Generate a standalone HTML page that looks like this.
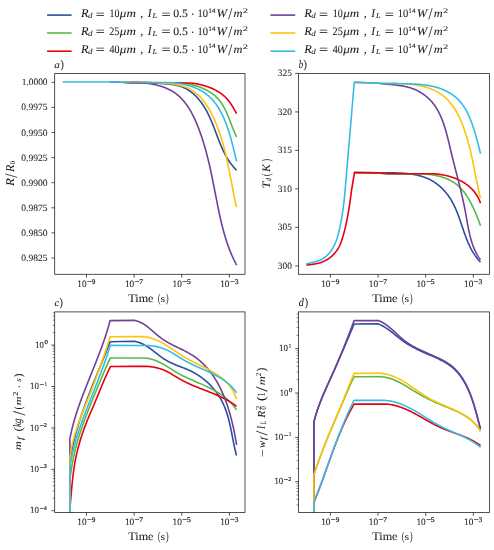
<!DOCTYPE html>
<html><head><meta charset="utf-8"><style>
html,body{margin:0;padding:0;background:#fff;}
body{width:494px;height:550px;overflow:hidden;}
svg{display:block;}
text{fill:#1a1a1a;}
</style></head><body>
<svg xmlns="http://www.w3.org/2000/svg" width="494" height="550" viewBox="0 0 494 550" font-family='"Liberation Serif", "DejaVu Serif", serif'>
<rect width="494" height="550" fill="#fff"/>
<line x1="86.50" y1="274.30" x2="86.50" y2="277.60" stroke="#262626" stroke-width="0.8"/>
<line x1="134.14" y1="274.30" x2="134.14" y2="277.60" stroke="#262626" stroke-width="0.8"/>
<line x1="181.78" y1="274.30" x2="181.78" y2="277.60" stroke="#262626" stroke-width="0.8"/>
<line x1="229.42" y1="274.30" x2="229.42" y2="277.60" stroke="#262626" stroke-width="0.8"/>
<line x1="330.40" y1="274.30" x2="330.40" y2="277.60" stroke="#262626" stroke-width="0.8"/>
<line x1="378.04" y1="274.30" x2="378.04" y2="277.60" stroke="#262626" stroke-width="0.8"/>
<line x1="425.68" y1="274.30" x2="425.68" y2="277.60" stroke="#262626" stroke-width="0.8"/>
<line x1="473.32" y1="274.30" x2="473.32" y2="277.60" stroke="#262626" stroke-width="0.8"/>
<line x1="86.50" y1="512.40" x2="86.50" y2="515.70" stroke="#262626" stroke-width="0.8"/>
<line x1="134.14" y1="512.40" x2="134.14" y2="515.70" stroke="#262626" stroke-width="0.8"/>
<line x1="181.78" y1="512.40" x2="181.78" y2="515.70" stroke="#262626" stroke-width="0.8"/>
<line x1="229.42" y1="512.40" x2="229.42" y2="515.70" stroke="#262626" stroke-width="0.8"/>
<line x1="330.40" y1="512.40" x2="330.40" y2="515.70" stroke="#262626" stroke-width="0.8"/>
<line x1="378.04" y1="512.40" x2="378.04" y2="515.70" stroke="#262626" stroke-width="0.8"/>
<line x1="425.68" y1="512.40" x2="425.68" y2="515.70" stroke="#262626" stroke-width="0.8"/>
<line x1="473.32" y1="512.40" x2="473.32" y2="515.70" stroke="#262626" stroke-width="0.8"/>
<line x1="51.40" y1="82.30" x2="54.70" y2="82.30" stroke="#262626" stroke-width="0.8"/>
<line x1="51.40" y1="107.40" x2="54.70" y2="107.40" stroke="#262626" stroke-width="0.8"/>
<line x1="51.40" y1="132.50" x2="54.70" y2="132.50" stroke="#262626" stroke-width="0.8"/>
<line x1="51.40" y1="157.60" x2="54.70" y2="157.60" stroke="#262626" stroke-width="0.8"/>
<line x1="51.40" y1="182.70" x2="54.70" y2="182.70" stroke="#262626" stroke-width="0.8"/>
<line x1="51.40" y1="207.80" x2="54.70" y2="207.80" stroke="#262626" stroke-width="0.8"/>
<line x1="51.40" y1="232.90" x2="54.70" y2="232.90" stroke="#262626" stroke-width="0.8"/>
<line x1="51.40" y1="258.00" x2="54.70" y2="258.00" stroke="#262626" stroke-width="0.8"/>
<line x1="295.20" y1="265.90" x2="298.50" y2="265.90" stroke="#262626" stroke-width="0.8"/>
<line x1="295.20" y1="227.40" x2="298.50" y2="227.40" stroke="#262626" stroke-width="0.8"/>
<line x1="295.20" y1="188.90" x2="298.50" y2="188.90" stroke="#262626" stroke-width="0.8"/>
<line x1="295.20" y1="150.40" x2="298.50" y2="150.40" stroke="#262626" stroke-width="0.8"/>
<line x1="295.20" y1="111.90" x2="298.50" y2="111.90" stroke="#262626" stroke-width="0.8"/>
<line x1="295.20" y1="73.40" x2="298.50" y2="73.40" stroke="#262626" stroke-width="0.8"/>
<line x1="51.40" y1="510.70" x2="54.70" y2="510.70" stroke="#262626" stroke-width="0.8"/>
<line x1="52.80" y1="498.24" x2="54.70" y2="498.24" stroke="#262626" stroke-width="0.6"/>
<line x1="52.80" y1="490.95" x2="54.70" y2="490.95" stroke="#262626" stroke-width="0.6"/>
<line x1="52.80" y1="485.77" x2="54.70" y2="485.77" stroke="#262626" stroke-width="0.6"/>
<line x1="52.80" y1="481.76" x2="54.70" y2="481.76" stroke="#262626" stroke-width="0.6"/>
<line x1="52.80" y1="478.48" x2="54.70" y2="478.48" stroke="#262626" stroke-width="0.6"/>
<line x1="52.80" y1="475.71" x2="54.70" y2="475.71" stroke="#262626" stroke-width="0.6"/>
<line x1="52.80" y1="473.31" x2="54.70" y2="473.31" stroke="#262626" stroke-width="0.6"/>
<line x1="52.80" y1="471.19" x2="54.70" y2="471.19" stroke="#262626" stroke-width="0.6"/>
<line x1="51.40" y1="469.30" x2="54.70" y2="469.30" stroke="#262626" stroke-width="0.8"/>
<line x1="52.80" y1="456.84" x2="54.70" y2="456.84" stroke="#262626" stroke-width="0.6"/>
<line x1="52.80" y1="449.55" x2="54.70" y2="449.55" stroke="#262626" stroke-width="0.6"/>
<line x1="52.80" y1="444.37" x2="54.70" y2="444.37" stroke="#262626" stroke-width="0.6"/>
<line x1="52.80" y1="440.36" x2="54.70" y2="440.36" stroke="#262626" stroke-width="0.6"/>
<line x1="52.80" y1="437.08" x2="54.70" y2="437.08" stroke="#262626" stroke-width="0.6"/>
<line x1="52.80" y1="434.31" x2="54.70" y2="434.31" stroke="#262626" stroke-width="0.6"/>
<line x1="52.80" y1="431.91" x2="54.70" y2="431.91" stroke="#262626" stroke-width="0.6"/>
<line x1="52.80" y1="429.79" x2="54.70" y2="429.79" stroke="#262626" stroke-width="0.6"/>
<line x1="51.40" y1="427.90" x2="54.70" y2="427.90" stroke="#262626" stroke-width="0.8"/>
<line x1="52.80" y1="415.44" x2="54.70" y2="415.44" stroke="#262626" stroke-width="0.6"/>
<line x1="52.80" y1="408.15" x2="54.70" y2="408.15" stroke="#262626" stroke-width="0.6"/>
<line x1="52.80" y1="402.97" x2="54.70" y2="402.97" stroke="#262626" stroke-width="0.6"/>
<line x1="52.80" y1="398.96" x2="54.70" y2="398.96" stroke="#262626" stroke-width="0.6"/>
<line x1="52.80" y1="395.68" x2="54.70" y2="395.68" stroke="#262626" stroke-width="0.6"/>
<line x1="52.80" y1="392.91" x2="54.70" y2="392.91" stroke="#262626" stroke-width="0.6"/>
<line x1="52.80" y1="390.51" x2="54.70" y2="390.51" stroke="#262626" stroke-width="0.6"/>
<line x1="52.80" y1="388.39" x2="54.70" y2="388.39" stroke="#262626" stroke-width="0.6"/>
<line x1="51.40" y1="386.50" x2="54.70" y2="386.50" stroke="#262626" stroke-width="0.8"/>
<line x1="52.80" y1="374.04" x2="54.70" y2="374.04" stroke="#262626" stroke-width="0.6"/>
<line x1="52.80" y1="366.75" x2="54.70" y2="366.75" stroke="#262626" stroke-width="0.6"/>
<line x1="52.80" y1="361.57" x2="54.70" y2="361.57" stroke="#262626" stroke-width="0.6"/>
<line x1="52.80" y1="357.56" x2="54.70" y2="357.56" stroke="#262626" stroke-width="0.6"/>
<line x1="52.80" y1="354.28" x2="54.70" y2="354.28" stroke="#262626" stroke-width="0.6"/>
<line x1="52.80" y1="351.51" x2="54.70" y2="351.51" stroke="#262626" stroke-width="0.6"/>
<line x1="52.80" y1="349.11" x2="54.70" y2="349.11" stroke="#262626" stroke-width="0.6"/>
<line x1="52.80" y1="346.99" x2="54.70" y2="346.99" stroke="#262626" stroke-width="0.6"/>
<line x1="51.40" y1="345.10" x2="54.70" y2="345.10" stroke="#262626" stroke-width="0.8"/>
<line x1="52.80" y1="332.64" x2="54.70" y2="332.64" stroke="#262626" stroke-width="0.6"/>
<line x1="52.80" y1="325.35" x2="54.70" y2="325.35" stroke="#262626" stroke-width="0.6"/>
<line x1="52.80" y1="320.17" x2="54.70" y2="320.17" stroke="#262626" stroke-width="0.6"/>
<line x1="52.80" y1="316.16" x2="54.70" y2="316.16" stroke="#262626" stroke-width="0.6"/>
<line x1="52.80" y1="312.88" x2="54.70" y2="312.88" stroke="#262626" stroke-width="0.6"/>
<line x1="296.60" y1="504.84" x2="298.50" y2="504.84" stroke="#262626" stroke-width="0.6"/>
<line x1="296.60" y1="499.30" x2="298.50" y2="499.30" stroke="#262626" stroke-width="0.6"/>
<line x1="296.60" y1="495.00" x2="298.50" y2="495.00" stroke="#262626" stroke-width="0.6"/>
<line x1="296.60" y1="491.49" x2="298.50" y2="491.49" stroke="#262626" stroke-width="0.6"/>
<line x1="296.60" y1="488.53" x2="298.50" y2="488.53" stroke="#262626" stroke-width="0.6"/>
<line x1="296.60" y1="485.96" x2="298.50" y2="485.96" stroke="#262626" stroke-width="0.6"/>
<line x1="296.60" y1="483.69" x2="298.50" y2="483.69" stroke="#262626" stroke-width="0.6"/>
<line x1="295.20" y1="481.66" x2="298.50" y2="481.66" stroke="#262626" stroke-width="0.8"/>
<line x1="296.60" y1="468.32" x2="298.50" y2="468.32" stroke="#262626" stroke-width="0.6"/>
<line x1="296.60" y1="460.51" x2="298.50" y2="460.51" stroke="#262626" stroke-width="0.6"/>
<line x1="296.60" y1="454.97" x2="298.50" y2="454.97" stroke="#262626" stroke-width="0.6"/>
<line x1="296.60" y1="450.67" x2="298.50" y2="450.67" stroke="#262626" stroke-width="0.6"/>
<line x1="296.60" y1="447.16" x2="298.50" y2="447.16" stroke="#262626" stroke-width="0.6"/>
<line x1="296.60" y1="444.20" x2="298.50" y2="444.20" stroke="#262626" stroke-width="0.6"/>
<line x1="296.60" y1="441.63" x2="298.50" y2="441.63" stroke="#262626" stroke-width="0.6"/>
<line x1="296.60" y1="439.36" x2="298.50" y2="439.36" stroke="#262626" stroke-width="0.6"/>
<line x1="295.20" y1="437.33" x2="298.50" y2="437.33" stroke="#262626" stroke-width="0.8"/>
<line x1="296.60" y1="423.99" x2="298.50" y2="423.99" stroke="#262626" stroke-width="0.6"/>
<line x1="296.60" y1="416.18" x2="298.50" y2="416.18" stroke="#262626" stroke-width="0.6"/>
<line x1="296.60" y1="410.64" x2="298.50" y2="410.64" stroke="#262626" stroke-width="0.6"/>
<line x1="296.60" y1="406.34" x2="298.50" y2="406.34" stroke="#262626" stroke-width="0.6"/>
<line x1="296.60" y1="402.83" x2="298.50" y2="402.83" stroke="#262626" stroke-width="0.6"/>
<line x1="296.60" y1="399.87" x2="298.50" y2="399.87" stroke="#262626" stroke-width="0.6"/>
<line x1="296.60" y1="397.30" x2="298.50" y2="397.30" stroke="#262626" stroke-width="0.6"/>
<line x1="296.60" y1="395.03" x2="298.50" y2="395.03" stroke="#262626" stroke-width="0.6"/>
<line x1="295.20" y1="393.00" x2="298.50" y2="393.00" stroke="#262626" stroke-width="0.8"/>
<line x1="296.60" y1="379.66" x2="298.50" y2="379.66" stroke="#262626" stroke-width="0.6"/>
<line x1="296.60" y1="371.85" x2="298.50" y2="371.85" stroke="#262626" stroke-width="0.6"/>
<line x1="296.60" y1="366.31" x2="298.50" y2="366.31" stroke="#262626" stroke-width="0.6"/>
<line x1="296.60" y1="362.01" x2="298.50" y2="362.01" stroke="#262626" stroke-width="0.6"/>
<line x1="296.60" y1="358.50" x2="298.50" y2="358.50" stroke="#262626" stroke-width="0.6"/>
<line x1="296.60" y1="355.54" x2="298.50" y2="355.54" stroke="#262626" stroke-width="0.6"/>
<line x1="296.60" y1="352.97" x2="298.50" y2="352.97" stroke="#262626" stroke-width="0.6"/>
<line x1="296.60" y1="350.70" x2="298.50" y2="350.70" stroke="#262626" stroke-width="0.6"/>
<line x1="295.20" y1="348.67" x2="298.50" y2="348.67" stroke="#262626" stroke-width="0.8"/>
<line x1="296.60" y1="335.33" x2="298.50" y2="335.33" stroke="#262626" stroke-width="0.6"/>
<line x1="296.60" y1="327.52" x2="298.50" y2="327.52" stroke="#262626" stroke-width="0.6"/>
<line x1="296.60" y1="321.98" x2="298.50" y2="321.98" stroke="#262626" stroke-width="0.6"/>
<line x1="296.60" y1="317.68" x2="298.50" y2="317.68" stroke="#262626" stroke-width="0.6"/>
<line x1="296.60" y1="314.17" x2="298.50" y2="314.17" stroke="#262626" stroke-width="0.6"/>
<clipPath id="clipa"><rect x="54.7" y="73.6" width="190.3" height="200.70000000000002"/></clipPath>
<path d="M120.00,82.00 L120.61,82.00 L121.22,82.00 L121.83,82.00 L122.43,82.00 L123.04,82.00 L123.65,82.00 L124.25,82.00 L124.86,82.00 L125.46,82.00 L126.07,82.00 L126.67,82.00 L127.28,82.00 L127.88,82.00 L128.48,82.00 L129.08,82.00 L129.68,82.00 L130.29,82.00 L130.89,82.00 L131.49,82.00 L132.09,82.00 L132.69,82.00 L133.29,82.00 L133.89,82.00 L134.49,82.00 L135.09,82.00 L135.68,82.01 L136.28,82.02 L136.88,82.04 L137.48,82.06 L138.08,82.07 L138.68,82.09 L139.27,82.11 L139.87,82.13 L140.47,82.15 L141.07,82.17 L141.67,82.20 L142.26,82.22 L142.86,82.25 L143.46,82.27 L144.06,82.30 L144.66,82.33 L145.25,82.36 L145.85,82.39 L146.45,82.42 L147.05,82.45 L147.65,82.48 L148.25,82.51 L148.85,82.55 L149.45,82.58 L150.05,82.62 L150.65,82.65 L151.25,82.69 L151.85,82.73 L152.45,82.77 L153.05,82.81 L153.65,82.85 L154.25,82.89 L154.86,82.93 L155.46,82.98 L156.06,83.02 L156.67,83.06 L157.27,83.11 L157.87,83.16 L158.48,83.20 L159.09,83.25 L159.69,83.30 L160.30,83.35 L160.91,83.40 L161.51,83.45 L162.12,83.50 L162.73,83.55 L163.34,83.61 L163.95,83.66 L164.57,83.71 L165.18,83.77 L165.79,83.83 L166.40,83.88 L167.02,83.94 L167.63,84.00 L168.25,84.06 L168.86,84.13 L169.47,84.20 L170.09,84.27 L170.70,84.34 L171.31,84.42 L171.92,84.50 L172.52,84.59 L173.13,84.68 L173.73,84.77 L174.34,84.88 L174.94,84.98 L175.53,85.10 L176.13,85.22 L176.72,85.35 L177.31,85.48 L177.90,85.62 L178.48,85.77 L179.06,85.93 L179.63,86.10 L180.20,86.27 L180.77,86.46 L181.33,86.65 L181.89,86.85 L182.44,87.07 L182.99,87.29 L183.53,87.52 L184.07,87.76 L184.61,88.01 L185.14,88.27 L185.66,88.54 L186.18,88.82 L186.70,89.10 L187.21,89.40 L187.72,89.70 L188.22,90.01 L188.71,90.33 L189.21,90.65 L189.70,90.98 L190.18,91.32 L190.66,91.67 L191.13,92.03 L191.60,92.39 L192.07,92.76 L192.53,93.13 L192.98,93.52 L193.43,93.90 L193.88,94.30 L194.32,94.70 L194.76,95.11 L195.19,95.52 L195.62,95.94 L196.04,96.36 L196.46,96.79 L196.87,97.23 L197.28,97.67 L197.68,98.11 L198.08,98.56 L198.48,99.02 L198.87,99.47 L199.25,99.94 L199.63,100.40 L200.01,100.88 L200.38,101.35 L200.75,101.83 L201.11,102.31 L201.47,102.80 L201.82,103.29 L202.17,103.78 L202.51,104.28 L202.85,104.77 L203.18,105.27 L203.51,105.78 L203.84,106.29 L204.16,106.79 L204.47,107.31 L204.78,107.82 L205.09,108.34 L205.40,108.86 L205.70,109.38 L205.99,109.90 L206.28,110.43 L206.57,110.96 L206.86,111.49 L207.14,112.02 L207.42,112.56 L207.69,113.09 L207.96,113.63 L208.23,114.17 L208.50,114.71 L208.76,115.26 L209.02,115.80 L209.28,116.35 L209.53,116.90 L209.78,117.45 L210.03,118.00 L210.28,118.56 L210.52,119.11 L210.77,119.67 L211.01,120.22 L211.24,120.78 L211.48,121.34 L211.71,121.90 L211.95,122.46 L212.18,123.03 L212.41,123.59 L212.63,124.16 L212.86,124.72 L213.08,125.29 L213.31,125.85 L213.53,126.42 L213.75,126.99 L213.97,127.56 L214.19,128.13 L214.41,128.70 L214.63,129.27 L214.84,129.84 L215.06,130.41 L215.28,130.98 L215.49,131.55 L215.71,132.12 L215.92,132.69 L216.14,133.26 L216.35,133.83 L216.57,134.40 L216.78,134.97 L217.00,135.54 L217.21,136.11 L217.43,136.68 L217.65,137.25 L217.86,137.82 L218.08,138.38 L218.30,138.95 L218.52,139.52 L218.74,140.08 L218.96,140.65 L219.18,141.21 L219.41,141.78 L219.63,142.34 L219.86,142.90 L220.09,143.46 L220.32,144.02 L220.55,144.58 L220.78,145.13 L221.01,145.69 L221.25,146.24 L221.49,146.80 L221.73,147.35 L221.97,147.90 L222.22,148.45 L222.47,148.99 L222.72,149.54 L222.97,150.08 L223.22,150.63 L223.48,151.16 L223.74,151.70 L224.01,152.24 L224.27,152.77 L224.54,153.31 L224.81,153.84 L225.09,154.36 L225.37,154.89 L225.65,155.41 L225.94,155.93 L226.23,156.45 L226.52,156.97 L226.82,157.48 L227.12,157.99 L227.42,158.50 L227.73,159.01 L228.05,159.51 L228.36,160.01 L228.69,160.51 L229.01,161.00 L229.34,161.50 L229.68,161.98 L230.02,162.47 L230.36,162.95 L230.71,163.43 L231.07,163.91 L231.43,164.38 L231.79,164.85 L232.16,165.32 L232.53,165.78 L232.91,166.24 L233.30,166.70 L233.69,167.15 L234.09,167.60 L234.49,168.04 L234.90,168.48 L235.31,168.92 L235.73,169.35 L236.16,169.78 L236.59,170.21" fill="none" stroke="#2b4fa0" stroke-width="1.6" stroke-linejoin="round" stroke-linecap="butt" clip-path="url(#clipa)"/>
<path d="M120.00,82.00 L120.57,82.06 L121.13,82.11 L121.70,82.17 L122.27,82.22 L122.84,82.26 L123.42,82.31 L123.99,82.35 L124.57,82.39 L125.15,82.42 L125.73,82.46 L126.31,82.49 L126.89,82.51 L127.48,82.54 L128.06,82.56 L128.65,82.58 L129.24,82.60 L129.83,82.62 L130.42,82.63 L131.01,82.65 L131.60,82.66 L132.20,82.67 L132.79,82.67 L133.39,82.68 L133.99,82.68 L134.58,82.68 L135.18,82.68 L135.79,82.68 L136.39,82.68 L136.99,82.68 L137.59,82.68 L138.20,82.68 L138.80,82.68 L139.41,82.68 L140.02,82.68 L140.63,82.68 L141.24,82.68 L141.84,82.68 L142.46,82.68 L143.07,82.68 L143.68,82.68 L144.29,82.68 L144.90,82.68 L145.52,82.68 L146.13,82.68 L146.75,82.68 L147.36,82.68 L147.98,82.68 L148.59,82.68 L149.21,82.68 L149.83,82.68 L150.45,82.68 L151.06,82.68 L151.68,82.68 L152.30,82.68 L152.92,82.68 L153.54,82.68 L154.16,82.68 L154.78,82.68 L155.40,82.68 L156.02,82.68 L156.63,82.68 L157.25,82.68 L157.87,82.68 L158.49,82.68 L159.11,82.68 L159.73,82.68 L160.35,82.68 L160.97,82.68 L161.59,82.68 L162.21,82.68 L162.83,82.68 L163.45,82.68 L164.07,82.68 L164.69,82.68 L165.31,82.68 L165.93,82.68 L166.54,82.68 L167.16,82.68 L167.78,82.68 L168.39,82.68 L169.01,82.68 L169.63,82.68 L170.24,82.68 L170.86,82.68 L171.47,82.68 L172.08,82.68 L172.70,82.68 L173.31,82.68 L173.92,82.68 L174.53,82.68 L175.14,82.68 L175.75,82.68 L176.36,82.68 L176.97,82.68 L177.57,82.68 L178.18,82.68 L178.79,82.68 L179.39,82.73 L179.99,82.79 L180.60,82.85 L181.20,82.91 L181.80,82.98 L182.40,83.06 L183.00,83.13 L183.60,83.21 L184.19,83.29 L184.79,83.38 L185.38,83.47 L185.97,83.57 L186.57,83.66 L187.16,83.76 L187.74,83.87 L188.33,83.98 L188.92,84.09 L189.50,84.21 L190.09,84.33 L190.67,84.46 L191.25,84.59 L191.83,84.73 L192.41,84.87 L192.98,85.01 L193.56,85.16 L194.13,85.31 L194.70,85.47 L195.27,85.64 L195.84,85.80 L196.41,85.98 L196.97,86.16 L197.54,86.34 L198.10,86.53 L198.66,86.72 L199.22,86.92 L199.77,87.12 L200.33,87.33 L200.88,87.55 L201.43,87.77 L201.98,87.99 L202.52,88.23 L203.07,88.46 L203.61,88.71 L204.15,88.95 L204.69,89.21 L205.22,89.47 L205.76,89.74 L206.29,90.01 L206.82,90.29 L207.34,90.57 L207.86,90.87 L208.38,91.16 L208.90,91.47 L209.41,91.78 L209.92,92.10 L210.42,92.42 L210.92,92.75 L211.42,93.08 L211.91,93.43 L212.39,93.78 L212.87,94.13 L213.35,94.50 L213.82,94.87 L214.28,95.24 L214.74,95.63 L215.19,96.02 L215.64,96.42 L216.08,96.82 L216.51,97.23 L216.94,97.65 L217.36,98.08 L217.77,98.51 L218.17,98.95 L218.57,99.40 L218.96,99.86 L219.34,100.32 L219.71,100.79 L220.08,101.26 L220.44,101.74 L220.80,102.23 L221.14,102.72 L221.49,103.22 L221.82,103.73 L222.15,104.23 L222.47,104.75 L222.79,105.27 L223.10,105.79 L223.41,106.31 L223.71,106.85 L224.01,107.38 L224.30,107.92 L224.58,108.46 L224.86,109.00 L225.14,109.55 L225.41,110.09 L225.68,110.65 L225.95,111.20 L226.21,111.75 L226.46,112.31 L226.72,112.87 L226.97,113.43 L227.21,114.00 L227.46,114.56 L227.70,115.13 L227.94,115.70 L228.17,116.26 L228.40,116.83 L228.63,117.41 L228.86,117.98 L229.09,118.55 L229.32,119.12 L229.54,119.70 L229.76,120.27 L229.98,120.84 L230.20,121.42 L230.42,121.99 L230.64,122.57 L230.86,123.14 L231.08,123.71 L231.29,124.29 L231.51,124.86 L231.73,125.43 L231.94,126.00 L232.16,126.57 L232.38,127.13 L232.60,127.70 L232.82,128.27 L233.04,128.83 L233.26,129.39 L233.49,129.95 L233.71,130.51 L233.94,131.06 L234.17,131.62 L234.40,132.17 L234.63,132.72 L234.87,133.26 L235.11,133.80 L235.35,134.35 L235.59,134.88 L235.84,135.42 L236.09,135.95 L236.34,136.47 L236.60,137.00" fill="none" stroke="#5ab946" stroke-width="1.6" stroke-linejoin="round" stroke-linecap="butt" clip-path="url(#clipa)"/>
<path d="M120.00,82.00 L120.58,82.07 L121.16,82.14 L121.74,82.21 L122.32,82.28 L122.91,82.34 L123.49,82.39 L124.08,82.45 L124.66,82.50 L125.25,82.55 L125.84,82.59 L126.43,82.64 L127.02,82.68 L127.61,82.71 L128.20,82.75 L128.79,82.78 L129.39,82.81 L129.98,82.84 L130.58,82.86 L131.17,82.88 L131.77,82.90 L132.37,82.92 L132.96,82.94 L133.56,82.95 L134.16,82.96 L134.76,82.97 L135.36,82.98 L135.96,82.98 L136.57,82.98 L137.17,82.98 L137.77,82.98 L138.38,82.98 L138.98,82.98 L139.59,82.98 L140.19,82.98 L140.80,82.98 L141.41,82.98 L142.01,82.98 L142.62,82.98 L143.23,82.98 L143.84,82.98 L144.45,82.98 L145.06,82.98 L145.67,82.98 L146.28,82.98 L146.89,82.98 L147.50,82.98 L148.11,82.98 L148.73,82.98 L149.34,82.98 L149.95,82.98 L150.56,82.98 L151.18,82.98 L151.79,82.98 L152.40,82.98 L153.02,82.98 L153.63,82.98 L154.25,82.98 L154.86,82.98 L155.48,82.98 L156.09,82.98 L156.71,82.98 L157.32,82.98 L157.94,82.98 L158.55,82.98 L159.17,82.98 L159.78,82.98 L160.40,82.98 L161.01,82.98 L161.63,82.98 L162.24,82.98 L162.86,82.98 L163.47,82.98 L164.09,82.98 L164.70,82.98 L165.32,82.98 L165.93,82.98 L166.55,82.98 L167.16,82.98 L167.78,82.98 L168.39,82.98 L169.01,82.98 L169.62,82.98 L170.24,82.98 L170.85,82.98 L171.46,82.98 L172.08,82.98 L172.69,82.98 L173.30,82.98 L173.91,82.98 L174.53,82.98 L175.14,82.98 L175.75,82.98 L176.36,82.98 L176.97,82.98 L177.58,82.98 L178.19,82.98 L178.80,82.98 L179.41,82.98 L180.02,82.98 L180.62,82.98 L181.23,82.98 L181.84,82.98 L182.44,82.98 L183.05,82.98 L183.65,82.98 L184.26,82.98 L184.86,82.98 L185.47,82.98 L186.07,82.98 L186.67,82.98 L187.27,82.98 L187.87,82.98 L188.47,82.98 L189.07,82.98 L189.67,82.98 L190.27,82.98 L190.87,82.98 L191.46,83.02 L192.06,83.10 L192.65,83.18 L193.25,83.27 L193.84,83.36 L194.43,83.45 L195.02,83.55 L195.61,83.65 L196.20,83.76 L196.79,83.87 L197.38,83.98 L197.97,84.10 L198.55,84.22 L199.14,84.35 L199.72,84.48 L200.31,84.62 L200.89,84.76 L201.47,84.90 L202.05,85.05 L202.63,85.20 L203.21,85.36 L203.78,85.52 L204.36,85.69 L204.93,85.86 L205.51,86.04 L206.08,86.22 L206.65,86.41 L207.22,86.60 L207.78,86.79 L208.35,87.00 L208.91,87.20 L209.48,87.42 L210.03,87.63 L210.59,87.86 L211.15,88.09 L211.70,88.32 L212.25,88.56 L212.80,88.81 L213.34,89.06 L213.88,89.32 L214.42,89.58 L214.95,89.85 L215.48,90.13 L216.01,90.41 L216.54,90.70 L217.06,90.99 L217.57,91.29 L218.08,91.60 L218.59,91.91 L219.10,92.23 L219.60,92.56 L220.09,92.89 L220.58,93.23 L221.07,93.58 L221.55,93.93 L222.02,94.29 L222.49,94.66 L222.96,95.04 L223.42,95.42 L223.87,95.81 L224.32,96.21 L224.76,96.61 L225.20,97.02 L225.63,97.44 L226.05,97.87 L226.47,98.30 L226.88,98.74 L227.29,99.19 L227.69,99.65 L228.08,100.12 L228.47,100.59 L228.84,101.07 L229.22,101.55 L229.59,102.05 L229.95,102.54 L230.30,103.05 L230.66,103.56 L231.00,104.07 L231.34,104.58 L231.68,105.10 L232.01,105.63 L232.34,106.15 L232.66,106.68 L232.98,107.21 L233.30,107.75 L233.61,108.28 L233.92,108.82 L234.23,109.35 L234.53,109.89 L234.83,110.42 L235.13,110.96 L235.43,111.49 L235.72,112.02 L236.02,112.55 L236.31,113.08 L236.60,113.60" fill="none" stroke="#e8000f" stroke-width="1.6" stroke-linejoin="round" stroke-linecap="butt" clip-path="url(#clipa)"/>
<path d="M110.01,82.00 L110.55,82.00 L111.11,82.00 L111.66,82.00 L112.22,82.00 L112.78,82.00 L113.35,82.00 L113.91,82.00 L114.48,82.00 L115.06,82.00 L115.63,82.00 L116.21,82.00 L116.79,82.00 L117.38,82.00 L117.96,82.00 L118.55,82.00 L119.15,82.00 L119.74,82.00 L120.33,82.00 L120.93,82.00 L121.53,82.00 L122.13,82.00 L122.74,82.00 L123.34,82.00 L123.95,82.00 L124.56,82.00 L125.17,82.00 L125.78,82.00 L126.40,82.00 L127.01,82.00 L127.63,82.01 L128.25,82.02 L128.87,82.03 L129.49,82.04 L130.11,82.06 L130.73,82.07 L131.35,82.09 L131.97,82.11 L132.60,82.14 L133.22,82.16 L133.85,82.18 L134.47,82.21 L135.10,82.24 L135.72,82.27 L136.35,82.31 L136.98,82.34 L137.60,82.38 L138.23,82.42 L138.86,82.47 L139.48,82.51 L140.11,82.56 L140.74,82.61 L141.36,82.67 L141.99,82.72 L142.61,82.78 L143.24,82.84 L143.86,82.91 L144.48,82.98 L145.10,83.05 L145.72,83.12 L146.34,83.20 L146.96,83.28 L147.58,83.36 L148.20,83.45 L148.81,83.54 L149.43,83.64 L150.04,83.74 L150.65,83.84 L151.26,83.94 L151.87,84.05 L152.47,84.17 L153.08,84.28 L153.68,84.40 L154.28,84.53 L154.88,84.66 L155.48,84.79 L156.07,84.93 L156.66,85.07 L157.25,85.22 L157.84,85.37 L158.42,85.52 L159.01,85.68 L159.59,85.85 L160.16,86.02 L160.74,86.19 L161.31,86.37 L161.88,86.55 L162.44,86.74 L163.00,86.93 L163.56,87.13 L164.12,87.34 L164.67,87.55 L165.22,87.76 L165.77,87.98 L166.31,88.20 L166.85,88.43 L167.38,88.67 L167.91,88.91 L168.44,89.16 L168.96,89.41 L169.48,89.67 L170.00,89.94 L170.51,90.21 L171.02,90.48 L171.52,90.77 L172.02,91.05 L172.51,91.35 L173.00,91.65 L173.49,91.96 L173.97,92.27 L174.44,92.59 L174.91,92.92 L175.38,93.25 L175.84,93.59 L176.30,93.94 L176.75,94.29 L177.19,94.65 L177.64,95.01 L178.07,95.38 L178.51,95.76 L178.94,96.14 L179.36,96.53 L179.78,96.92 L180.20,97.32 L180.61,97.72 L181.02,98.13 L181.42,98.55 L181.82,98.97 L182.21,99.39 L182.60,99.82 L182.99,100.26 L183.37,100.70 L183.75,101.14 L184.12,101.59 L184.49,102.05 L184.86,102.51 L185.22,102.97 L185.58,103.44 L185.93,103.91 L186.28,104.38 L186.63,104.86 L186.97,105.35 L187.31,105.84 L187.65,106.33 L187.98,106.82 L188.31,107.32 L188.64,107.83 L188.96,108.33 L189.28,108.84 L189.59,109.36 L189.90,109.87 L190.21,110.39 L190.52,110.92 L190.82,111.44 L191.12,111.97 L191.41,112.50 L191.71,113.04 L192.00,113.57 L192.28,114.11 L192.57,114.66 L192.85,115.20 L193.12,115.75 L193.40,116.30 L193.67,116.85 L193.94,117.40 L194.20,117.96 L194.47,118.52 L194.73,119.08 L194.99,119.64 L195.24,120.20 L195.49,120.77 L195.74,121.33 L195.99,121.90 L196.24,122.47 L196.48,123.04 L196.72,123.61 L196.96,124.19 L197.19,124.76 L197.43,125.34 L197.66,125.91 L197.89,126.49 L198.11,127.07 L198.34,127.64 L198.56,128.22 L198.78,128.80 L199.00,129.38 L199.21,129.96 L199.43,130.54 L199.64,131.12 L199.85,131.70 L200.06,132.28 L200.27,132.86 L200.47,133.44 L200.67,134.02 L200.88,134.60 L201.08,135.18 L201.27,135.76 L201.47,136.34 L201.66,136.92 L201.86,137.50 L202.05,138.08 L202.24,138.66 L202.43,139.24 L202.61,139.82 L202.80,140.39 L202.98,140.97 L203.16,141.55 L203.34,142.13 L203.52,142.71 L203.70,143.29 L203.87,143.87 L204.05,144.45 L204.22,145.03 L204.39,145.60 L204.56,146.18 L204.73,146.76 L204.90,147.34 L205.06,147.92 L205.23,148.50 L205.39,149.08 L205.55,149.66 L205.71,150.23 L205.87,150.81 L206.03,151.39 L206.19,151.97 L206.34,152.55 L206.50,153.13 L206.65,153.71 L206.80,154.28 L206.96,154.86 L207.10,155.44 L207.25,156.02 L207.40,156.60 L207.55,157.18 L207.69,157.76 L207.84,158.34 L207.98,158.92 L208.12,159.49 L208.26,160.07 L208.41,160.65 L208.54,161.23 L208.68,161.81 L208.82,162.39 L208.96,162.97 L209.09,163.55 L209.23,164.13 L209.36,164.71 L209.50,165.29 L209.63,165.87 L209.76,166.45 L209.89,167.03 L210.02,167.61 L210.15,168.19 L210.28,168.77 L210.41,169.35 L210.53,169.93 L210.66,170.51 L210.79,171.09 L210.91,171.67 L211.04,172.25 L211.16,172.83 L211.29,173.41 L211.41,174.00 L211.53,174.58 L211.65,175.16 L211.77,175.74 L211.89,176.32 L212.02,176.90 L212.14,177.49 L212.25,178.07 L212.37,178.65 L212.49,179.23 L212.61,179.82 L212.73,180.40 L212.85,180.98 L212.96,181.56 L213.08,182.15 L213.20,182.73 L213.31,183.31 L213.43,183.90 L213.55,184.48 L213.66,185.07 L213.78,185.65 L213.89,186.24 L214.01,186.82 L214.12,187.40 L214.24,187.99 L214.35,188.58 L214.46,189.16 L214.58,189.75 L214.69,190.33 L214.81,190.92 L214.92,191.51 L215.04,192.09 L215.15,192.68 L215.26,193.27 L215.38,193.85 L215.49,194.44 L215.61,195.03 L215.72,195.62 L215.84,196.20 L215.95,196.79 L216.06,197.38 L216.18,197.97 L216.29,198.56 L216.41,199.15 L216.53,199.74 L216.64,200.33 L216.76,200.92 L216.87,201.51 L216.99,202.10 L217.11,202.69 L217.22,203.28 L217.34,203.87 L217.46,204.47 L217.58,205.06 L217.70,205.65 L217.81,206.24 L217.93,206.83 L218.05,207.43 L218.17,208.02 L218.30,208.61 L218.42,209.20 L218.54,209.80 L218.66,210.39 L218.79,210.98 L218.91,211.58 L219.03,212.17 L219.16,212.76 L219.29,213.36 L219.41,213.95 L219.54,214.54 L219.67,215.13 L219.80,215.73 L219.93,216.32 L220.06,216.91 L220.19,217.50 L220.32,218.09 L220.46,218.69 L220.59,219.28 L220.73,219.87 L220.86,220.46 L221.00,221.05 L221.14,221.64 L221.28,222.23 L221.42,222.82 L221.56,223.41 L221.70,224.00 L221.85,224.59 L221.99,225.18 L222.14,225.77 L222.28,226.36 L222.43,226.94 L222.58,227.53 L222.73,228.12 L222.89,228.71 L223.04,229.29 L223.20,229.88 L223.35,230.46 L223.51,231.05 L223.67,231.63 L223.83,232.21 L223.99,232.80 L224.16,233.38 L224.32,233.96 L224.49,234.54 L224.66,235.12 L224.83,235.70 L225.00,236.28 L225.17,236.86 L225.35,237.44 L225.52,238.01 L225.70,238.59 L225.88,239.17 L226.06,239.74 L226.25,240.31 L226.43,240.89 L226.62,241.46 L226.81,242.03 L227.00,242.60 L227.19,243.17 L227.39,243.74 L227.58,244.31 L227.78,244.88 L227.98,245.45 L228.18,246.01 L228.39,246.58 L228.59,247.14 L228.80,247.70 L229.01,248.26 L229.23,248.82 L229.44,249.38 L229.66,249.94 L229.88,250.50 L230.10,251.06 L230.32,251.61 L230.55,252.17 L230.77,252.72 L231.00,253.27 L231.24,253.82 L231.47,254.37 L231.71,254.92 L231.95,255.47 L232.19,256.02 L232.44,256.56 L232.68,257.10 L232.93,257.65 L233.18,258.19 L233.44,258.73 L233.70,259.27 L233.95,259.80 L234.22,260.34 L234.48,260.87 L234.75,261.41 L235.02,261.94 L235.29,262.47 L235.57,263.00 L235.84,263.53 L236.12,264.05 L236.41,264.58 L236.69,265.10" fill="none" stroke="#6f4097" stroke-width="1.6" stroke-linejoin="round" stroke-linecap="butt" clip-path="url(#clipa)"/>
<path d="M120.00,82.00 L120.60,82.02 L121.20,82.03 L121.80,82.05 L122.40,82.06 L123.01,82.07 L123.60,82.08 L124.20,82.09 L124.80,82.10 L125.40,82.11 L126.00,82.12 L126.60,82.13 L127.20,82.14 L127.80,82.14 L128.39,82.15 L128.99,82.16 L129.59,82.16 L130.19,82.17 L130.79,82.17 L131.38,82.18 L131.98,82.18 L132.58,82.18 L133.17,82.19 L133.77,82.19 L134.37,82.20 L134.97,82.20 L135.56,82.20 L136.16,82.21 L136.76,82.21 L137.36,82.21 L137.95,82.22 L138.55,82.22 L139.15,82.22 L139.75,82.23 L140.34,82.23 L140.94,82.24 L141.54,82.24 L142.14,82.25 L142.74,82.25 L143.34,82.26 L143.94,82.27 L144.54,82.28 L145.14,82.28 L145.74,82.29 L146.34,82.30 L146.94,82.31 L147.54,82.33 L148.14,82.34 L148.74,82.35 L149.34,82.36 L149.94,82.38 L150.55,82.40 L151.15,82.41 L151.76,82.43 L152.36,82.45 L152.96,82.47 L153.57,82.49 L154.18,82.51 L154.78,82.54 L155.39,82.56 L156.00,82.59 L156.60,82.62 L157.21,82.65 L157.82,82.68 L158.43,82.71 L159.04,82.75 L159.65,82.78 L160.27,82.82 L160.88,82.86 L161.49,82.90 L162.11,82.94 L162.72,82.99 L163.34,83.03 L163.95,83.08 L164.57,83.13 L165.19,83.18 L165.81,83.24 L166.43,83.29 L167.05,83.35 L167.67,83.41 L168.29,83.48 L168.91,83.54 L169.53,83.61 L170.15,83.69 L170.77,83.76 L171.39,83.84 L172.00,83.92 L172.62,84.01 L173.24,84.10 L173.85,84.20 L174.47,84.29 L175.08,84.40 L175.69,84.50 L176.30,84.62 L176.90,84.73 L177.51,84.86 L178.11,84.98 L178.71,85.11 L179.31,85.25 L179.90,85.39 L180.49,85.54 L181.08,85.70 L181.67,85.86 L182.25,86.02 L182.83,86.20 L183.40,86.38 L183.97,86.56 L184.54,86.75 L185.10,86.95 L185.66,87.16 L186.21,87.37 L186.76,87.60 L187.30,87.82 L187.84,88.06 L188.38,88.30 L188.91,88.56 L189.43,88.82 L189.95,89.08 L190.46,89.36 L190.97,89.64 L191.47,89.94 L191.97,90.24 L192.46,90.54 L192.94,90.86 L193.42,91.18 L193.90,91.51 L194.37,91.85 L194.83,92.19 L195.29,92.54 L195.75,92.90 L196.20,93.27 L196.64,93.64 L197.08,94.01 L197.52,94.40 L197.95,94.79 L198.38,95.18 L198.80,95.59 L199.21,96.00 L199.63,96.41 L200.03,96.83 L200.44,97.25 L200.84,97.69 L201.23,98.12 L201.62,98.56 L202.01,99.01 L202.39,99.46 L202.77,99.92 L203.14,100.38 L203.51,100.84 L203.87,101.31 L204.23,101.79 L204.59,102.27 L204.94,102.75 L205.29,103.24 L205.64,103.73 L205.98,104.22 L206.31,104.72 L206.65,105.22 L206.98,105.73 L207.30,106.24 L207.63,106.75 L207.95,107.27 L208.26,107.78 L208.57,108.30 L208.88,108.83 L209.19,109.36 L209.49,109.88 L209.79,110.42 L210.09,110.95 L210.38,111.49 L210.67,112.02 L210.95,112.56 L211.24,113.11 L211.52,113.65 L211.80,114.19 L212.07,114.74 L212.34,115.29 L212.61,115.84 L212.88,116.39 L213.14,116.94 L213.40,117.49 L213.66,118.05 L213.91,118.60 L214.17,119.15 L214.42,119.71 L214.66,120.27 L214.91,120.82 L215.15,121.38 L215.39,121.94 L215.63,122.50 L215.86,123.06 L216.10,123.62 L216.33,124.18 L216.56,124.74 L216.78,125.30 L217.01,125.86 L217.23,126.43 L217.45,126.99 L217.66,127.56 L217.88,128.12 L218.09,128.69 L218.30,129.25 L218.51,129.82 L218.71,130.39 L218.92,130.96 L219.12,131.53 L219.32,132.09 L219.52,132.66 L219.71,133.23 L219.91,133.81 L220.10,134.38 L220.29,134.95 L220.48,135.52 L220.66,136.09 L220.85,136.67 L221.03,137.24 L221.21,137.82 L221.39,138.39 L221.57,138.97 L221.74,139.54 L221.92,140.12 L222.09,140.70 L222.26,141.27 L222.43,141.85 L222.60,142.43 L222.76,143.01 L222.93,143.59 L223.09,144.17 L223.25,144.75 L223.41,145.33 L223.57,145.91 L223.72,146.49 L223.88,147.07 L224.03,147.65 L224.19,148.24 L224.34,148.82 L224.49,149.40 L224.64,149.98 L224.78,150.57 L224.93,151.15 L225.07,151.74 L225.22,152.32 L225.36,152.91 L225.50,153.49 L225.64,154.08 L225.78,154.66 L225.92,155.25 L226.05,155.84 L226.19,156.42 L226.32,157.01 L226.46,157.60 L226.59,158.19 L226.72,158.77 L226.85,159.36 L226.98,159.95 L227.11,160.54 L227.24,161.13 L227.36,161.72 L227.49,162.31 L227.62,162.89 L227.74,163.48 L227.87,164.07 L227.99,164.66 L228.11,165.25 L228.23,165.84 L228.36,166.44 L228.48,167.03 L228.60,167.62 L228.72,168.21 L228.83,168.80 L228.95,169.39 L229.07,169.98 L229.19,170.57 L229.31,171.16 L229.42,171.76 L229.54,172.35 L229.65,172.94 L229.77,173.53 L229.88,174.12 L230.00,174.72 L230.11,175.31 L230.23,175.90 L230.34,176.49 L230.46,177.09 L230.57,177.68 L230.68,178.27 L230.79,178.86 L230.91,179.46 L231.02,180.05 L231.13,180.64 L231.25,181.23 L231.36,181.83 L231.47,182.42 L231.58,183.01 L231.70,183.60 L231.81,184.20 L231.92,184.79 L232.04,185.38 L232.15,185.97 L232.26,186.56 L232.38,187.16 L232.49,187.75 L232.60,188.34 L232.72,188.93 L232.83,189.52 L232.95,190.12 L233.06,190.71 L233.18,191.30 L233.29,191.89 L233.41,192.48 L233.52,193.07 L233.64,193.66 L233.76,194.25 L233.88,194.84 L233.99,195.43 L234.11,196.03 L234.23,196.62 L234.35,197.21 L234.47,197.79 L234.59,198.38 L234.72,198.97 L234.84,199.56 L234.96,200.15 L235.09,200.74 L235.21,201.33 L235.34,201.92 L235.46,202.50 L235.59,203.09 L235.72,203.68 L235.85,204.27 L235.98,204.85 L236.11,205.44 L236.24,206.03 L236.37,206.61 L236.50,207.20" fill="none" stroke="#fdc40b" stroke-width="1.6" stroke-linejoin="round" stroke-linecap="butt" clip-path="url(#clipa)"/>
<path d="M62.70,82.00 L120.00,82.00 L120.59,82.05 L121.18,82.10 L121.77,82.15 L122.37,82.19 L122.96,82.23 L123.55,82.27 L124.14,82.30 L124.74,82.34 L125.33,82.36 L125.93,82.39 L126.52,82.42 L127.12,82.44 L127.71,82.46 L128.31,82.48 L128.91,82.49 L129.51,82.51 L130.10,82.52 L130.70,82.53 L131.30,82.53 L131.90,82.54 L132.50,82.54 L133.10,82.55 L133.70,82.55 L134.30,82.55 L134.90,82.55 L135.50,82.55 L136.10,82.55 L136.70,82.55 L137.30,82.55 L137.91,82.55 L138.51,82.55 L139.11,82.55 L139.72,82.55 L140.32,82.55 L140.92,82.55 L141.53,82.55 L142.13,82.55 L142.73,82.55 L143.34,82.55 L143.94,82.55 L144.55,82.55 L145.15,82.55 L145.76,82.55 L146.36,82.55 L146.97,82.55 L147.57,82.55 L148.18,82.55 L148.79,82.55 L149.39,82.55 L150.00,82.55 L150.60,82.55 L151.21,82.55 L151.82,82.55 L152.42,82.55 L153.03,82.55 L153.64,82.55 L154.24,82.55 L154.85,82.55 L155.46,82.55 L156.06,82.55 L156.67,82.55 L157.28,82.55 L157.88,82.55 L158.49,82.55 L159.10,82.55 L159.71,82.55 L160.31,82.55 L160.92,82.55 L161.53,82.55 L162.13,82.55 L162.74,82.55 L163.35,82.55 L163.95,82.55 L164.56,82.55 L165.16,82.55 L165.77,82.55 L166.38,82.55 L166.98,82.55 L167.59,82.55 L168.19,82.55 L168.80,82.55 L169.40,82.55 L170.01,82.55 L170.61,82.55 L171.22,82.59 L171.82,82.64 L172.43,82.70 L173.03,82.75 L173.64,82.81 L174.24,82.87 L174.84,82.94 L175.45,83.01 L176.05,83.08 L176.65,83.16 L177.25,83.24 L177.86,83.32 L178.46,83.41 L179.06,83.50 L179.66,83.60 L180.26,83.70 L180.86,83.80 L181.46,83.91 L182.06,84.03 L182.66,84.14 L183.26,84.26 L183.86,84.39 L184.45,84.52 L185.05,84.66 L185.65,84.79 L186.24,84.94 L186.83,85.09 L187.42,85.24 L188.01,85.40 L188.60,85.56 L189.19,85.73 L189.77,85.90 L190.35,86.08 L190.93,86.26 L191.51,86.45 L192.08,86.65 L192.66,86.84 L193.22,87.05 L193.79,87.26 L194.36,87.47 L194.92,87.69 L195.47,87.92 L196.03,88.15 L196.58,88.38 L197.13,88.63 L197.67,88.87 L198.21,89.13 L198.74,89.39 L199.28,89.65 L199.80,89.92 L200.33,90.20 L200.85,90.48 L201.36,90.77 L201.87,91.06 L202.37,91.37 L202.87,91.67 L203.37,91.99 L203.86,92.30 L204.34,92.63 L204.82,92.96 L205.30,93.30 L205.77,93.65 L206.23,94.00 L206.69,94.35 L207.14,94.72 L207.59,95.08 L208.03,95.46 L208.47,95.84 L208.90,96.22 L209.33,96.62 L209.75,97.01 L210.17,97.41 L210.58,97.82 L210.99,98.23 L211.40,98.65 L211.80,99.08 L212.19,99.50 L212.58,99.94 L212.97,100.38 L213.35,100.82 L213.72,101.27 L214.09,101.72 L214.46,102.18 L214.83,102.64 L215.18,103.11 L215.54,103.58 L215.89,104.05 L216.23,104.53 L216.58,105.01 L216.91,105.50 L217.25,105.99 L217.58,106.49 L217.90,106.99 L218.22,107.49 L218.54,108.00 L218.86,108.51 L219.17,109.02 L219.47,109.54 L219.77,110.06 L220.07,110.59 L220.37,111.12 L220.66,111.65 L220.95,112.18 L221.23,112.72 L221.51,113.26 L221.79,113.80 L222.06,114.35 L222.33,114.90 L222.60,115.45 L222.86,116.01 L223.12,116.56 L223.38,117.12 L223.64,117.68 L223.89,118.25 L224.14,118.81 L224.38,119.38 L224.62,119.95 L224.86,120.53 L225.10,121.10 L225.33,121.68 L225.56,122.26 L225.79,122.84 L226.01,123.42 L226.23,124.00 L226.45,124.59 L226.67,125.17 L226.88,125.76 L227.09,126.35 L227.30,126.94 L227.51,127.53 L227.71,128.13 L227.91,128.72 L228.11,129.31 L228.31,129.91 L228.50,130.51 L228.69,131.10 L228.88,131.70 L229.07,132.30 L229.26,132.90 L229.44,133.50 L229.62,134.10 L229.80,134.70 L229.98,135.30 L230.15,135.90 L230.33,136.50 L230.50,137.10 L230.67,137.70 L230.84,138.30 L231.01,138.89 L231.17,139.49 L231.33,140.09 L231.50,140.69 L231.66,141.29 L231.81,141.89 L231.97,142.48 L232.13,143.08 L232.28,143.67 L232.43,144.27 L232.59,144.86 L232.74,145.45 L232.88,146.04 L233.03,146.63 L233.18,147.22 L233.33,147.81 L233.47,148.39 L233.61,148.98 L233.76,149.56 L233.90,150.14 L234.04,150.72 L234.18,151.30 L234.32,151.87 L234.46,152.44 L234.59,153.02 L234.73,153.59 L234.87,154.15 L235.00,154.72 L235.14,155.28 L235.27,155.84 L235.41,156.40 L235.54,156.95 L235.67,157.51 L235.81,158.06 L235.94,158.60 L236.07,159.15 L236.20,159.69 L236.33,160.23 L236.46,160.76 L236.60,161.29" fill="none" stroke="#33bde6" stroke-width="1.6" stroke-linejoin="round" stroke-linecap="butt" clip-path="url(#clipa)"/>
<clipPath id="clipb"><rect x="298.5" y="73.6" width="191.0" height="200.70000000000002"/></clipPath>
<path d="M354.50,172.50 L378.00,172.90 L378.00,172.90 L378.55,172.90 L379.10,172.90 L379.66,172.90 L380.22,172.90 L380.78,172.90 L381.34,172.90 L381.91,172.90 L382.49,172.90 L383.06,172.90 L383.64,172.90 L384.22,172.90 L384.81,172.90 L385.39,172.90 L385.98,172.90 L386.57,172.90 L387.17,172.90 L387.77,172.90 L388.37,172.90 L388.97,172.90 L389.57,172.90 L390.17,172.90 L390.78,172.90 L391.39,172.90 L392.00,172.90 L392.61,172.90 L393.23,172.90 L393.84,172.90 L394.46,172.90 L395.08,172.90 L395.70,172.91 L396.31,172.92 L396.94,172.94 L397.56,172.96 L398.18,172.98 L398.80,173.01 L399.43,173.03 L400.05,173.06 L400.67,173.09 L401.30,173.13 L401.92,173.16 L402.55,173.20 L403.17,173.24 L403.80,173.29 L404.42,173.34 L405.05,173.39 L405.67,173.44 L406.30,173.50 L406.92,173.56 L407.54,173.63 L408.17,173.70 L408.79,173.77 L409.41,173.85 L410.03,173.93 L410.65,174.01 L411.26,174.10 L411.88,174.19 L412.49,174.28 L413.11,174.39 L413.72,174.49 L414.33,174.60 L414.94,174.71 L415.54,174.83 L416.15,174.96 L416.75,175.08 L417.35,175.22 L417.95,175.36 L418.54,175.50 L419.14,175.65 L419.73,175.80 L420.32,175.96 L420.90,176.13 L421.48,176.30 L422.06,176.47 L422.64,176.65 L423.22,176.84 L423.79,177.03 L424.36,177.23 L424.92,177.44 L425.48,177.65 L426.04,177.87 L426.59,178.10 L427.14,178.33 L427.69,178.56 L428.23,178.81 L428.77,179.06 L429.31,179.32 L429.84,179.58 L430.37,179.85 L430.89,180.13 L431.41,180.41 L431.92,180.70 L432.44,181.00 L432.94,181.30 L433.45,181.61 L433.94,181.93 L434.44,182.25 L434.93,182.57 L435.42,182.91 L435.90,183.25 L436.38,183.59 L436.85,183.94 L437.32,184.29 L437.79,184.66 L438.25,185.02 L438.70,185.39 L439.16,185.77 L439.61,186.15 L440.05,186.54 L440.49,186.93 L440.92,187.33 L441.36,187.73 L441.78,188.14 L442.20,188.55 L442.62,188.97 L443.04,189.39 L443.45,189.81 L443.85,190.24 L444.25,190.68 L444.65,191.12 L445.04,191.56 L445.42,192.01 L445.80,192.46 L446.18,192.92 L446.55,193.38 L446.92,193.84 L447.29,194.31 L447.65,194.78 L448.00,195.26 L448.35,195.74 L448.69,196.22 L449.03,196.71 L449.37,197.20 L449.70,197.69 L450.03,198.19 L450.35,198.69 L450.67,199.19 L450.98,199.70 L451.28,200.21 L451.59,200.72 L451.88,201.24 L452.18,201.75 L452.47,202.28 L452.75,202.80 L453.03,203.33 L453.31,203.86 L453.58,204.39 L453.85,204.92 L454.11,205.46 L454.37,206.00 L454.63,206.54 L454.88,207.08 L455.13,207.63 L455.38,208.18 L455.62,208.73 L455.86,209.28 L456.10,209.83 L456.34,210.39 L456.57,210.95 L456.80,211.50 L457.02,212.07 L457.25,212.63 L457.47,213.19 L457.69,213.76 L457.91,214.32 L458.12,214.89 L458.34,215.46 L458.55,216.03 L458.76,216.60 L458.96,217.18 L459.17,217.75 L459.38,218.33 L459.58,218.90 L459.78,219.48 L459.98,220.05 L460.18,220.63 L460.38,221.21 L460.58,221.79 L460.78,222.37 L460.98,222.95 L461.17,223.53 L461.37,224.11 L461.56,224.69 L461.76,225.27 L461.95,225.85 L462.15,226.43 L462.34,227.02 L462.54,227.60 L462.74,228.18 L462.93,228.76 L463.13,229.34 L463.33,229.92 L463.52,230.50 L463.72,231.08 L463.92,231.66 L464.12,232.24 L464.32,232.81 L464.53,233.39 L464.73,233.97 L464.94,234.54 L465.14,235.11 L465.35,235.69 L465.56,236.26 L465.78,236.83 L465.99,237.40 L466.21,237.97 L466.42,238.54 L466.64,239.10 L466.87,239.67 L467.09,240.23 L467.32,240.79 L467.55,241.35 L467.78,241.91 L468.02,242.46 L468.26,243.02 L468.50,243.57 L468.74,244.12 L468.99,244.67 L469.24,245.22 L469.50,245.76 L469.76,246.30 L470.02,246.84 L470.28,247.38 L470.55,247.92 L470.83,248.45 L471.10,248.98 L471.39,249.51 L471.67,250.03 L471.96,250.55 L472.26,251.07 L472.56,251.59 L472.86,252.10 L473.17,252.61 L473.48,253.12 L473.80,253.62 L474.13,254.13 L474.45,254.62 L474.79,255.12 L475.13,255.61 L475.47,256.10 L475.82,256.58 L476.18,257.06 L476.54,257.54 L476.91,258.01 L477.28,258.48 L477.66,258.95 L478.05,259.41 L478.44,259.87 L478.84,260.32 L479.25,260.77 L479.66,261.22 L480.08,261.66 L480.50,262.10" fill="none" stroke="#2b4fa0" stroke-width="1.6" stroke-linejoin="round" stroke-linecap="butt" clip-path="url(#clipb)"/>
<path d="M354.50,172.50 L378.00,172.90 L378.00,172.90 L378.58,172.98 L379.16,173.05 L379.73,173.12 L380.32,173.19 L380.90,173.25 L381.48,173.31 L382.07,173.36 L382.65,173.41 L383.24,173.46 L383.83,173.50 L384.42,173.55 L385.01,173.58 L385.61,173.62 L386.20,173.65 L386.80,173.68 L387.39,173.71 L387.99,173.73 L388.59,173.75 L389.19,173.77 L389.79,173.79 L390.39,173.81 L390.99,173.82 L391.60,173.83 L392.20,173.84 L392.80,173.84 L393.41,173.85 L394.02,173.85 L394.62,173.85 L395.23,173.85 L395.84,173.85 L396.45,173.85 L397.06,173.85 L397.67,173.85 L398.28,173.85 L398.90,173.85 L399.51,173.85 L400.12,173.85 L400.73,173.85 L401.35,173.85 L401.96,173.85 L402.58,173.85 L403.19,173.85 L403.81,173.85 L404.42,173.85 L405.04,173.85 L405.65,173.85 L406.27,173.85 L406.88,173.85 L407.50,173.85 L408.12,173.85 L408.73,173.85 L409.35,173.85 L409.96,173.85 L410.58,173.85 L411.20,173.85 L411.81,173.85 L412.43,173.85 L413.05,173.85 L413.66,173.85 L414.28,173.85 L414.89,173.85 L415.51,173.85 L416.12,173.85 L416.73,173.85 L417.35,173.85 L417.96,173.85 L418.57,173.85 L419.19,173.85 L419.80,173.85 L420.41,173.85 L421.02,173.85 L421.63,173.85 L422.24,173.86 L422.85,173.89 L423.46,173.93 L424.07,173.97 L424.67,174.01 L425.28,174.05 L425.88,174.10 L426.49,174.15 L427.09,174.21 L427.69,174.27 L428.30,174.33 L428.90,174.40 L429.50,174.47 L430.10,174.54 L430.69,174.62 L431.29,174.70 L431.89,174.79 L432.48,174.88 L433.07,174.98 L433.67,175.08 L434.26,175.18 L434.85,175.29 L435.43,175.40 L436.02,175.52 L436.61,175.65 L437.19,175.78 L437.77,175.91 L438.35,176.05 L438.93,176.20 L439.51,176.35 L440.09,176.50 L440.66,176.66 L441.24,176.83 L441.81,177.01 L442.38,177.19 L442.95,177.37 L443.51,177.56 L444.08,177.76 L444.64,177.96 L445.19,178.17 L445.75,178.39 L446.30,178.61 L446.85,178.84 L447.40,179.07 L447.94,179.31 L448.48,179.56 L449.02,179.81 L449.55,180.07 L450.08,180.34 L450.61,180.62 L451.13,180.90 L451.64,181.18 L452.16,181.48 L452.67,181.78 L453.17,182.09 L453.67,182.40 L454.16,182.72 L454.65,183.05 L455.14,183.39 L455.62,183.73 L456.09,184.08 L456.56,184.44 L457.03,184.81 L457.48,185.18 L457.93,185.56 L458.38,185.95 L458.82,186.35 L459.26,186.75 L459.69,187.16 L460.11,187.58 L460.53,188.00 L460.94,188.43 L461.35,188.87 L461.75,189.31 L462.14,189.76 L462.54,190.21 L462.92,190.67 L463.30,191.14 L463.68,191.61 L464.05,192.09 L464.42,192.57 L464.78,193.06 L465.14,193.55 L465.49,194.04 L465.84,194.54 L466.18,195.05 L466.52,195.56 L466.86,196.07 L467.19,196.58 L467.52,197.10 L467.84,197.63 L468.16,198.15 L468.48,198.68 L468.79,199.21 L469.10,199.75 L469.40,200.29 L469.71,200.83 L470.00,201.37 L470.30,201.91 L470.59,202.46 L470.88,203.01 L471.16,203.55 L471.45,204.10 L471.73,204.66 L472.00,205.21 L472.28,205.76 L472.55,206.32 L472.81,206.87 L473.08,207.42 L473.34,207.98 L473.60,208.54 L473.86,209.09 L474.12,209.65 L474.37,210.21 L474.62,210.77 L474.86,211.33 L475.11,211.88 L475.35,212.44 L475.59,213.00 L475.83,213.56 L476.06,214.12 L476.30,214.68 L476.53,215.24 L476.76,215.80 L476.98,216.36 L477.21,216.92 L477.43,217.48 L477.65,218.03 L477.86,218.59 L478.08,219.15 L478.29,219.71 L478.50,220.26 L478.71,220.82 L478.92,221.38 L479.12,221.93 L479.32,222.49 L479.53,223.04 L479.72,223.59 L479.92,224.15 L480.12,224.70 L480.31,225.25 L480.50,225.80" fill="none" stroke="#5ab946" stroke-width="1.6" stroke-linejoin="round" stroke-linecap="butt" clip-path="url(#clipb)"/>
<path d="M306.30,265.00 L306.80,264.96 L307.30,264.92 L307.80,264.88 L308.30,264.83 L308.80,264.78 L309.30,264.73 L309.80,264.67 L310.30,264.61 L310.80,264.55 L311.30,264.49 L311.80,264.42 L312.30,264.35 L312.80,264.29 L313.30,264.22 L313.80,264.14 L314.30,264.07 L314.80,263.99 L315.30,263.90 L315.80,263.81 L316.30,263.72 L316.80,263.62 L317.30,263.52 L317.80,263.41 L318.30,263.30 L318.80,263.18 L319.30,263.05 L319.80,262.91 L320.30,262.75 L320.80,262.58 L321.30,262.40 L321.80,262.21 L322.30,262.01 L322.80,261.79 L323.30,261.57 L323.80,261.34 L324.30,261.10 L324.80,260.85 L325.30,260.60 L325.80,260.34 L326.30,260.07 L326.80,259.78 L327.30,259.48 L327.80,259.16 L328.30,258.83 L328.80,258.49 L329.30,258.12 L329.80,257.75 L330.30,257.36 L330.80,256.95 L331.30,256.53 L331.80,256.10 L332.30,255.65 L332.80,255.18 L333.30,254.69 L333.80,254.18 L334.30,253.65 L334.80,253.08 L335.30,252.49 L335.80,251.87 L336.30,251.22 L336.80,250.53 L337.30,249.80 L337.80,249.04 L338.30,248.23 L338.80,247.34 L339.30,246.33 L339.80,245.23 L340.30,244.04 L340.80,242.78 L341.30,241.45 L341.80,240.07 L342.30,238.62 L342.80,237.04 L343.30,235.35 L343.80,233.54 L344.30,231.63 L344.80,229.64 L345.30,227.58 L345.80,225.38 L346.30,223.04 L346.80,220.56 L347.30,217.98 L347.80,215.30 L348.30,212.50 L348.80,209.54 L349.30,206.41 L349.80,203.13 L350.30,199.65 L350.80,195.96 L351.30,192.09 L351.50,190.50 L354.50,172.50 L378.00,172.90 L378.00,172.90 L378.57,172.97 L379.13,173.03 L379.70,173.09 L380.27,173.15 L380.84,173.20 L381.42,173.25 L381.99,173.30 L382.57,173.35 L383.15,173.39 L383.73,173.43 L384.31,173.47 L384.90,173.50 L385.49,173.53 L386.07,173.56 L386.66,173.58 L387.25,173.61 L387.85,173.63 L388.44,173.65 L389.03,173.66 L389.63,173.68 L390.23,173.69 L390.83,173.70 L391.43,173.71 L392.03,173.72 L392.63,173.72 L393.24,173.73 L393.85,173.73 L394.45,173.73 L395.06,173.73 L395.67,173.73 L396.28,173.73 L396.89,173.73 L397.50,173.73 L398.11,173.73 L398.73,173.73 L399.34,173.73 L399.96,173.73 L400.57,173.73 L401.19,173.73 L401.81,173.73 L402.43,173.73 L403.05,173.73 L403.67,173.73 L404.29,173.73 L404.91,173.73 L405.53,173.73 L406.15,173.73 L406.77,173.73 L407.40,173.73 L408.02,173.73 L408.64,173.73 L409.27,173.73 L409.89,173.73 L410.52,173.73 L411.14,173.73 L411.77,173.73 L412.39,173.73 L413.02,173.73 L413.64,173.73 L414.27,173.73 L414.89,173.73 L415.52,173.73 L416.14,173.73 L416.77,173.73 L417.39,173.73 L418.02,173.73 L418.64,173.73 L419.27,173.73 L419.89,173.73 L420.52,173.73 L421.14,173.73 L421.76,173.73 L422.39,173.73 L423.01,173.73 L423.63,173.73 L424.25,173.73 L424.87,173.73 L425.49,173.73 L426.11,173.73 L426.73,173.73 L427.35,173.73 L427.97,173.73 L428.59,173.73 L429.20,173.73 L429.82,173.73 L430.44,173.73 L431.05,173.73 L431.66,173.73 L432.28,173.73 L432.89,173.73 L433.50,173.73 L434.11,173.78 L434.72,173.84 L435.32,173.89 L435.93,173.95 L436.53,174.02 L437.14,174.08 L437.74,174.15 L438.34,174.23 L438.94,174.31 L439.54,174.39 L440.14,174.47 L440.73,174.56 L441.33,174.65 L441.92,174.75 L442.51,174.85 L443.10,174.96 L443.69,175.07 L444.28,175.18 L444.86,175.30 L445.45,175.42 L446.03,175.55 L446.61,175.68 L447.19,175.81 L447.77,175.95 L448.34,176.10 L448.91,176.25 L449.49,176.41 L450.05,176.57 L450.62,176.73 L451.19,176.90 L451.75,177.08 L452.31,177.26 L452.87,177.45 L453.43,177.64 L453.98,177.84 L454.53,178.04 L455.09,178.25 L455.63,178.46 L456.18,178.68 L456.72,178.91 L457.26,179.14 L457.80,179.38 L458.34,179.62 L458.87,179.87 L459.40,180.13 L459.93,180.39 L460.46,180.66 L460.98,180.94 L461.50,181.22 L462.02,181.51 L462.53,181.80 L463.04,182.10 L463.54,182.41 L464.05,182.72 L464.54,183.04 L465.04,183.37 L465.53,183.70 L466.01,184.04 L466.49,184.39 L466.97,184.74 L467.44,185.10 L467.91,185.46 L468.37,185.84 L468.83,186.21 L469.28,186.60 L469.73,186.99 L470.17,187.39 L470.61,187.80 L471.04,188.21 L471.46,188.63 L471.88,189.05 L472.29,189.48 L472.70,189.92 L473.10,190.37 L473.49,190.82 L473.88,191.28 L474.26,191.75 L474.64,192.22 L475.00,192.71 L475.36,193.19 L475.72,193.69 L476.06,194.19 L476.40,194.70 L476.73,195.22 L477.05,195.74 L477.37,196.27 L477.68,196.81 L477.98,197.35 L478.27,197.91 L478.55,198.46 L478.83,199.03 L479.09,199.61 L479.35,200.19 L479.60,200.78 L479.84,201.37 L480.07,201.98 L480.29,202.59 L480.50,203.20" fill="none" stroke="#e8000f" stroke-width="1.6" stroke-linejoin="round" stroke-linecap="butt" clip-path="url(#clipb)"/>
<path d="M354.30,82.20 L378.00,83.20 L378.00,83.20 L378.57,83.28 L379.14,83.36 L379.72,83.44 L380.29,83.51 L380.87,83.58 L381.45,83.65 L382.04,83.71 L382.62,83.78 L383.21,83.84 L383.80,83.90 L384.40,83.96 L384.99,84.01 L385.59,84.07 L386.18,84.13 L386.78,84.18 L387.38,84.23 L387.99,84.29 L388.59,84.34 L389.19,84.39 L389.80,84.45 L390.41,84.50 L391.01,84.56 L391.62,84.61 L392.23,84.67 L392.84,84.73 L393.45,84.79 L394.06,84.85 L394.67,84.91 L395.28,84.98 L395.89,85.05 L396.51,85.12 L397.12,85.19 L397.73,85.26 L398.34,85.34 L398.95,85.42 L399.56,85.51 L400.17,85.60 L400.77,85.69 L401.38,85.79 L401.99,85.89 L402.59,85.99 L403.20,86.10 L403.80,86.22 L404.40,86.34 L405.00,86.46 L405.60,86.59 L406.20,86.73 L406.80,86.87 L407.39,87.02 L407.98,87.17 L408.57,87.33 L409.16,87.50 L409.75,87.67 L410.33,87.85 L410.91,88.04 L411.49,88.24 L412.07,88.44 L412.64,88.65 L413.21,88.86 L413.78,89.09 L414.34,89.32 L414.91,89.56 L415.46,89.80 L416.02,90.05 L416.57,90.31 L417.12,90.57 L417.66,90.84 L418.20,91.12 L418.74,91.40 L419.27,91.69 L419.80,91.99 L420.32,92.29 L420.84,92.60 L421.35,92.91 L421.86,93.23 L422.37,93.56 L422.87,93.89 L423.36,94.23 L423.85,94.57 L424.34,94.92 L424.81,95.27 L425.29,95.63 L425.75,96.00 L426.22,96.37 L426.67,96.74 L427.12,97.13 L427.56,97.51 L428.00,97.90 L428.43,98.30 L428.86,98.70 L429.28,99.11 L429.69,99.52 L430.09,99.94 L430.49,100.36 L430.89,100.78 L431.28,101.22 L431.66,101.65 L432.04,102.09 L432.41,102.53 L432.77,102.98 L433.13,103.43 L433.49,103.89 L433.84,104.35 L434.18,104.82 L434.52,105.29 L434.86,105.76 L435.18,106.24 L435.51,106.72 L435.83,107.21 L436.14,107.69 L436.45,108.19 L436.75,108.68 L437.05,109.18 L437.35,109.69 L437.64,110.19 L437.93,110.70 L438.21,111.22 L438.49,111.73 L438.76,112.25 L439.03,112.78 L439.29,113.30 L439.55,113.83 L439.81,114.37 L440.06,114.90 L440.31,115.44 L440.56,115.98 L440.80,116.53 L441.04,117.07 L441.27,117.62 L441.50,118.17 L441.73,118.73 L441.95,119.28 L442.17,119.84 L442.39,120.41 L442.61,120.97 L442.82,121.53 L443.03,122.10 L443.23,122.67 L443.43,123.24 L443.63,123.82 L443.83,124.40 L444.02,124.97 L444.21,125.55 L444.40,126.13 L444.59,126.72 L444.77,127.30 L444.96,127.89 L445.13,128.47 L445.31,129.06 L445.49,129.65 L445.66,130.25 L445.83,130.84 L446.00,131.43 L446.17,132.03 L446.33,132.62 L446.49,133.22 L446.66,133.82 L446.82,134.42 L446.98,135.02 L447.13,135.62 L447.29,136.22 L447.44,136.82 L447.60,137.42 L447.75,138.03 L447.90,138.63 L448.05,139.23 L448.20,139.84 L448.35,140.44 L448.49,141.04 L448.64,141.65 L448.79,142.25 L448.93,142.86 L449.08,143.46 L449.22,144.07 L449.36,144.67 L449.51,145.28 L449.65,145.88 L449.79,146.48 L449.93,147.09 L450.08,147.69 L450.22,148.29 L450.36,148.89 L450.50,149.49 L450.65,150.09 L450.79,150.69 L450.93,151.29 L451.08,151.89 L451.22,152.48 L451.37,153.08 L451.51,153.67 L451.66,154.27 L451.80,154.86 L451.95,155.45 L452.09,156.05 L452.24,156.64 L452.38,157.23 L452.53,157.82 L452.68,158.41 L452.82,158.99 L452.97,159.58 L453.12,160.17 L453.27,160.75 L453.41,161.34 L453.56,161.92 L453.71,162.51 L453.86,163.09 L454.01,163.68 L454.15,164.26 L454.30,164.84 L454.45,165.42 L454.60,166.00 L454.75,166.59 L454.90,167.17 L455.05,167.75 L455.19,168.33 L455.34,168.90 L455.49,169.48 L455.64,170.06 L455.79,170.64 L455.94,171.22 L456.09,171.80 L456.23,172.37 L456.38,172.95 L456.53,173.53 L456.68,174.10 L456.82,174.68 L456.97,175.25 L457.12,175.83 L457.27,176.41 L457.41,176.98 L457.56,177.56 L457.71,178.13 L457.85,178.71 L458.00,179.28 L458.15,179.86 L458.29,180.43 L458.44,181.00 L458.58,181.58 L458.73,182.15 L458.87,182.73 L459.02,183.30 L459.16,183.88 L459.30,184.45 L459.45,185.03 L459.59,185.60 L459.73,186.18 L459.87,186.75 L460.01,187.33 L460.15,187.90 L460.30,188.48 L460.44,189.05 L460.57,189.63 L460.71,190.21 L460.85,190.78 L460.99,191.36 L461.13,191.94 L461.26,192.51 L461.40,193.09 L461.54,193.67 L461.67,194.25 L461.81,194.83 L461.94,195.40 L462.07,195.98 L462.21,196.56 L462.34,197.14 L462.47,197.72 L462.60,198.31 L462.73,198.89 L462.86,199.47 L462.99,200.05 L463.12,200.63 L463.25,201.22 L463.37,201.80 L463.50,202.39 L463.62,202.97 L463.75,203.56 L463.87,204.14 L463.99,204.73 L464.12,205.32 L464.24,205.91 L464.36,206.50 L464.48,207.09 L464.59,207.68 L464.71,208.27 L464.83,208.86 L464.94,209.45 L465.06,210.05 L465.17,210.64 L465.29,211.24 L465.40,211.83 L465.51,212.43 L465.62,213.03 L465.73,213.62 L465.84,214.22 L465.94,214.82 L466.05,215.42 L466.16,216.03 L466.26,216.63 L466.37,217.23 L466.47,217.83 L466.58,218.44 L466.68,219.04 L466.79,219.64 L466.89,220.25 L467.00,220.85 L467.11,221.46 L467.21,222.06 L467.32,222.67 L467.43,223.27 L467.54,223.87 L467.65,224.48 L467.76,225.08 L467.87,225.69 L467.98,226.29 L468.09,226.89 L468.21,227.49 L468.32,228.10 L468.44,228.70 L468.56,229.30 L468.68,229.90 L468.80,230.50 L468.93,231.10 L469.06,231.69 L469.19,232.29 L469.32,232.89 L469.45,233.48 L469.59,234.08 L469.73,234.67 L469.87,235.26 L470.01,235.85 L470.16,236.44 L470.31,237.03 L470.46,237.62 L470.61,238.20 L470.77,238.78 L470.93,239.37 L471.10,239.95 L471.27,240.53 L471.44,241.10 L471.62,241.68 L471.80,242.25 L471.98,242.82 L472.17,243.39 L472.36,243.96 L472.56,244.53 L472.76,245.09 L472.96,245.65 L473.17,246.21 L473.38,246.77 L473.60,247.32 L473.83,247.88 L474.05,248.43 L474.29,248.97 L474.53,249.52 L474.77,250.06 L475.02,250.60 L475.27,251.14 L475.53,251.67 L475.79,252.20 L476.06,252.73 L476.34,253.26 L476.62,253.78 L476.91,254.30 L477.20,254.82 L477.50,255.33 L477.81,255.84 L478.12,256.35 L478.44,256.85 L478.77,257.35 L479.10,257.85 L479.44,258.34 L479.78,258.83 L480.14,259.32 L480.50,259.80" fill="none" stroke="#6f4097" stroke-width="1.6" stroke-linejoin="round" stroke-linecap="butt" clip-path="url(#clipb)"/>
<path d="M354.30,82.20 L378.00,83.20 L378.00,83.20 L378.53,83.20 L379.06,83.21 L379.59,83.21 L380.13,83.21 L380.68,83.21 L381.22,83.21 L381.77,83.21 L382.33,83.21 L382.89,83.21 L383.45,83.21 L384.01,83.21 L384.58,83.21 L385.15,83.21 L385.73,83.21 L386.30,83.21 L386.88,83.21 L387.47,83.21 L388.05,83.22 L388.64,83.22 L389.24,83.22 L389.83,83.23 L390.43,83.23 L391.03,83.24 L391.63,83.24 L392.23,83.25 L392.84,83.26 L393.44,83.27 L394.05,83.28 L394.66,83.30 L395.28,83.31 L395.89,83.33 L396.51,83.34 L397.13,83.36 L397.75,83.38 L398.37,83.41 L398.99,83.43 L399.61,83.46 L400.24,83.48 L400.86,83.51 L401.49,83.55 L402.11,83.58 L402.74,83.62 L403.37,83.66 L404.00,83.70 L404.63,83.74 L405.26,83.79 L405.89,83.84 L406.52,83.89 L407.15,83.94 L407.78,84.00 L408.41,84.06 L409.04,84.12 L409.67,84.19 L410.30,84.26 L410.93,84.33 L411.55,84.40 L412.18,84.48 L412.81,84.56 L413.44,84.65 L414.06,84.74 L414.69,84.83 L415.31,84.93 L415.93,85.03 L416.56,85.13 L417.18,85.24 L417.80,85.35 L418.41,85.47 L419.03,85.59 L419.64,85.71 L420.26,85.84 L420.87,85.97 L421.48,86.11 L422.09,86.25 L422.69,86.39 L423.29,86.54 L423.89,86.70 L424.49,86.86 L425.09,87.02 L425.68,87.19 L426.27,87.37 L426.86,87.54 L427.45,87.73 L428.03,87.92 L428.61,88.11 L429.19,88.31 L429.76,88.52 L430.34,88.73 L430.90,88.94 L431.47,89.17 L432.03,89.39 L432.59,89.63 L433.14,89.87 L433.69,90.11 L434.24,90.36 L434.78,90.62 L435.32,90.88 L435.85,91.15 L436.38,91.42 L436.91,91.70 L437.43,91.99 L437.95,92.29 L438.46,92.59 L438.97,92.89 L439.48,93.21 L439.98,93.53 L440.47,93.85 L440.96,94.18 L441.45,94.52 L441.93,94.86 L442.41,95.21 L442.88,95.57 L443.35,95.93 L443.81,96.29 L444.27,96.67 L444.72,97.04 L445.17,97.43 L445.61,97.82 L446.05,98.21 L446.48,98.61 L446.91,99.02 L447.33,99.43 L447.75,99.85 L448.16,100.27 L448.57,100.70 L448.97,101.13 L449.37,101.57 L449.76,102.01 L450.15,102.46 L450.53,102.91 L450.90,103.37 L451.27,103.83 L451.63,104.30 L451.99,104.77 L452.35,105.25 L452.70,105.73 L453.04,106.22 L453.38,106.71 L453.71,107.20 L454.04,107.70 L454.36,108.20 L454.68,108.71 L455.00,109.22 L455.31,109.73 L455.61,110.25 L455.91,110.76 L456.21,111.29 L456.51,111.81 L456.80,112.34 L457.08,112.87 L457.36,113.40 L457.64,113.94 L457.92,114.47 L458.19,115.01 L458.46,115.55 L458.72,116.10 L458.98,116.64 L459.24,117.19 L459.50,117.73 L459.75,118.28 L460.00,118.83 L460.25,119.38 L460.49,119.94 L460.73,120.49 L460.97,121.04 L461.21,121.60 L461.44,122.16 L461.68,122.71 L461.90,123.27 L462.13,123.83 L462.35,124.39 L462.58,124.95 L462.79,125.52 L463.01,126.08 L463.23,126.65 L463.44,127.21 L463.65,127.78 L463.85,128.34 L464.06,128.91 L464.26,129.48 L464.46,130.05 L464.66,130.62 L464.86,131.19 L465.05,131.77 L465.24,132.34 L465.43,132.91 L465.62,133.49 L465.81,134.06 L465.99,134.64 L466.17,135.22 L466.35,135.79 L466.53,136.37 L466.71,136.95 L466.88,137.53 L467.05,138.11 L467.22,138.69 L467.39,139.27 L467.56,139.85 L467.73,140.44 L467.89,141.02 L468.05,141.61 L468.21,142.19 L468.37,142.77 L468.53,143.36 L468.69,143.95 L468.84,144.53 L469.00,145.12 L469.15,145.71 L469.30,146.30 L469.45,146.89 L469.60,147.47 L469.74,148.06 L469.89,148.65 L470.03,149.24 L470.17,149.83 L470.32,150.43 L470.46,151.02 L470.60,151.61 L470.73,152.20 L470.87,152.79 L471.01,153.39 L471.14,153.98 L471.28,154.57 L471.41,155.17 L471.54,155.76 L471.67,156.35 L471.80,156.95 L471.93,157.54 L472.06,158.14 L472.19,158.73 L472.32,159.33 L472.45,159.92 L472.57,160.52 L472.70,161.11 L472.82,161.71 L472.94,162.31 L473.07,162.90 L473.19,163.50 L473.31,164.09 L473.44,164.69 L473.56,165.29 L473.68,165.88 L473.80,166.48 L473.92,167.07 L474.04,167.67 L474.16,168.27 L474.28,168.86 L474.40,169.46 L474.51,170.05 L474.63,170.65 L474.75,171.24 L474.87,171.84 L474.99,172.44 L475.10,173.03 L475.22,173.63 L475.34,174.22 L475.46,174.82 L475.58,175.41 L475.69,176.00 L475.81,176.60 L475.93,177.19 L476.05,177.79 L476.17,178.38 L476.29,178.97 L476.40,179.57 L476.52,180.16 L476.64,180.75 L476.76,181.34 L476.88,181.93 L477.00,182.52 L477.12,183.12 L477.25,183.71 L477.37,184.30 L477.49,184.88 L477.61,185.47 L477.74,186.06 L477.86,186.65 L477.98,187.24 L478.11,187.83 L478.24,188.41 L478.36,189.00 L478.49,189.58 L478.62,190.17 L478.75,190.75 L478.88,191.34 L479.01,191.92 L479.14,192.50 L479.27,193.09 L479.40,193.67 L479.54,194.25 L479.67,194.83 L479.81,195.41 L479.94,195.99 L480.08,196.57 L480.22,197.14 L480.36,197.72 L480.50,198.30" fill="none" stroke="#fdc40b" stroke-width="1.6" stroke-linejoin="round" stroke-linecap="butt" clip-path="url(#clipb)"/>
<path d="M306.30,263.90 L306.80,263.80 L307.30,263.69 L307.80,263.58 L308.30,263.47 L308.80,263.36 L309.30,263.24 L309.80,263.13 L310.30,263.01 L310.80,262.88 L311.30,262.76 L311.80,262.63 L312.30,262.50 L312.80,262.37 L313.30,262.24 L313.80,262.12 L314.30,261.99 L314.80,261.86 L315.30,261.72 L315.80,261.59 L316.30,261.44 L316.80,261.29 L317.30,261.14 L317.80,260.97 L318.30,260.80 L318.80,260.62 L319.30,260.42 L319.80,260.21 L320.30,259.98 L320.80,259.73 L321.30,259.47 L321.80,259.19 L322.30,258.90 L322.80,258.60 L323.30,258.28 L323.80,257.94 L324.30,257.59 L324.80,257.23 L325.30,256.85 L325.80,256.46 L326.30,256.05 L326.80,255.60 L327.30,255.14 L327.80,254.64 L328.30,254.12 L328.80,253.57 L329.30,252.99 L329.80,252.39 L330.30,251.76 L330.80,251.10 L331.30,250.41 L331.80,249.70 L332.30,248.94 L332.80,248.10 L333.30,247.20 L333.80,246.23 L334.30,245.19 L334.80,244.10 L335.30,242.96 L335.80,241.75 L336.30,240.45 L336.80,239.02 L337.30,237.47 L337.80,235.81 L338.30,234.04 L338.80,232.11 L339.30,230.03 L339.80,227.79 L340.30,225.41 L340.80,222.90 L341.30,220.22 L341.80,217.32 L342.30,214.18 L342.80,210.80 L343.30,207.11 L343.80,203.04 L344.30,198.57 L344.80,193.58 L345.30,188.13 L345.80,182.35 L346.30,176.34 L346.80,170.23 L347.30,164.13 L347.80,158.17 L348.30,152.35 L348.80,146.53 L349.30,140.70 L349.80,134.85 L350.30,128.98 L350.80,123.10 L351.30,117.21 L351.80,111.30 L352.30,105.37 L352.50,103.00 L354.30,82.20 L378.00,83.10 L378.00,83.10 L378.55,83.15 L379.11,83.19 L379.66,83.23 L380.22,83.27 L380.78,83.30 L381.35,83.34 L381.91,83.37 L382.48,83.40 L383.05,83.42 L383.63,83.45 L384.20,83.47 L384.78,83.49 L385.36,83.51 L385.94,83.53 L386.53,83.55 L387.11,83.56 L387.70,83.58 L388.29,83.59 L388.88,83.60 L389.48,83.61 L390.07,83.62 L390.67,83.63 L391.27,83.64 L391.87,83.64 L392.47,83.65 L393.08,83.66 L393.68,83.66 L394.29,83.66 L394.90,83.67 L395.50,83.67 L396.12,83.67 L396.73,83.68 L397.34,83.68 L397.95,83.68 L398.57,83.69 L399.18,83.69 L399.80,83.69 L400.42,83.70 L401.04,83.70 L401.66,83.70 L402.28,83.71 L402.90,83.72 L403.52,83.72 L404.14,83.73 L404.76,83.74 L405.38,83.75 L406.01,83.76 L406.63,83.77 L407.26,83.78 L407.88,83.79 L408.50,83.81 L409.13,83.82 L409.75,83.84 L410.38,83.86 L411.00,83.88 L411.63,83.91 L412.25,83.93 L412.88,83.96 L413.50,83.99 L414.13,84.02 L414.75,84.05 L415.38,84.09 L416.00,84.12 L416.62,84.16 L417.24,84.21 L417.87,84.25 L418.49,84.30 L419.11,84.35 L419.73,84.40 L420.35,84.46 L420.97,84.52 L421.58,84.58 L422.20,84.64 L422.82,84.71 L423.43,84.79 L424.05,84.86 L424.66,84.94 L425.27,85.02 L425.88,85.11 L426.49,85.20 L427.10,85.29 L427.70,85.39 L428.31,85.49 L428.91,85.59 L429.52,85.70 L430.12,85.81 L430.72,85.93 L431.31,86.05 L431.91,86.18 L432.50,86.31 L433.10,86.45 L433.69,86.59 L434.27,86.73 L434.86,86.88 L435.45,87.03 L436.03,87.19 L436.61,87.36 L437.19,87.53 L437.76,87.70 L438.34,87.88 L438.91,88.07 L439.48,88.26 L440.04,88.45 L440.61,88.66 L441.17,88.86 L441.73,89.08 L442.29,89.30 L442.84,89.52 L443.39,89.75 L443.94,89.99 L444.49,90.23 L445.03,90.48 L445.57,90.74 L446.10,91.00 L446.64,91.27 L447.17,91.54 L447.69,91.82 L448.21,92.10 L448.73,92.39 L449.25,92.69 L449.76,92.99 L450.26,93.30 L450.76,93.62 L451.26,93.94 L451.76,94.27 L452.24,94.60 L452.73,94.94 L453.21,95.28 L453.68,95.63 L454.15,95.99 L454.62,96.36 L455.08,96.72 L455.53,97.10 L455.98,97.48 L456.42,97.87 L456.86,98.26 L457.29,98.66 L457.72,99.07 L458.14,99.48 L458.56,99.90 L458.97,100.32 L459.37,100.75 L459.76,101.19 L460.15,101.63 L460.54,102.08 L460.92,102.53 L461.29,102.99 L461.66,103.45 L462.02,103.92 L462.37,104.40 L462.72,104.88 L463.07,105.37 L463.40,105.86 L463.74,106.35 L464.07,106.85 L464.39,107.35 L464.71,107.86 L465.02,108.37 L465.33,108.89 L465.63,109.41 L465.93,109.93 L466.22,110.46 L466.51,110.99 L466.80,111.53 L467.08,112.07 L467.36,112.61 L467.63,113.15 L467.90,113.70 L468.16,114.25 L468.42,114.81 L468.68,115.36 L468.93,115.92 L469.18,116.48 L469.42,117.05 L469.66,117.61 L469.90,118.18 L470.14,118.75 L470.37,119.32 L470.60,119.89 L470.82,120.47 L471.04,121.04 L471.26,121.62 L471.48,122.20 L471.69,122.78 L471.90,123.36 L472.11,123.94 L472.31,124.52 L472.52,125.11 L472.72,125.69 L472.92,126.27 L473.11,126.86 L473.31,127.44 L473.50,128.03 L473.69,128.61 L473.87,129.19 L474.06,129.78 L474.24,130.36 L474.43,130.95 L474.61,131.53 L474.79,132.11 L474.96,132.70 L475.14,133.28 L475.31,133.86 L475.48,134.45 L475.65,135.03 L475.82,135.61 L475.99,136.20 L476.15,136.78 L476.32,137.36 L476.48,137.94 L476.64,138.53 L476.80,139.11 L476.96,139.69 L477.12,140.27 L477.28,140.86 L477.43,141.44 L477.59,142.02 L477.74,142.60 L477.89,143.18 L478.04,143.76 L478.19,144.34 L478.34,144.92 L478.49,145.50 L478.64,146.08 L478.78,146.66 L478.93,147.24 L479.08,147.82 L479.22,148.40 L479.37,148.98 L479.51,149.56 L479.65,150.14 L479.79,150.71 L479.94,151.29 L480.08,151.87 L480.22,152.45 L480.36,153.02 L480.50,153.60" fill="none" stroke="#33bde6" stroke-width="1.6" stroke-linejoin="round" stroke-linecap="butt" clip-path="url(#clipb)"/>
<clipPath id="clipc"><rect x="54.7" y="311.9" width="190.3" height="200.5"/></clipPath>
<path d="M69.90,514.00 L69.90,461.00 L69.90,461.00 L69.99,460.40 L70.08,459.80 L70.18,459.20 L70.28,458.61 L70.37,458.01 L70.48,457.41 L70.58,456.82 L70.68,456.22 L70.79,455.62 L70.89,455.03 L71.00,454.43 L71.11,453.84 L71.22,453.25 L71.34,452.65 L71.45,452.06 L71.57,451.47 L71.69,450.88 L71.81,450.28 L71.93,449.69 L72.05,449.10 L72.17,448.51 L72.30,447.92 L72.43,447.33 L72.55,446.74 L72.68,446.15 L72.82,445.57 L72.95,444.98 L73.08,444.39 L73.22,443.80 L73.35,443.22 L73.49,442.63 L73.63,442.04 L73.77,441.46 L73.92,440.87 L74.06,440.29 L74.21,439.70 L74.35,439.12 L74.50,438.54 L74.65,437.95 L74.80,437.37 L74.95,436.79 L75.10,436.20 L75.26,435.62 L75.41,435.04 L75.57,434.46 L75.73,433.88 L75.89,433.30 L76.05,432.72 L76.21,432.14 L76.37,431.56 L76.54,430.98 L76.70,430.40 L76.87,429.82 L77.04,429.24 L77.20,428.66 L77.37,428.08 L77.54,427.51 L77.72,426.93 L77.89,426.35 L78.06,425.78 L78.24,425.20 L78.41,424.62 L78.59,424.05 L78.77,423.47 L78.95,422.90 L79.13,422.32 L79.31,421.75 L79.49,421.18 L79.68,420.60 L79.86,420.03 L80.05,419.45 L80.23,418.88 L80.42,418.31 L80.61,417.74 L80.80,417.16 L80.99,416.59 L81.18,416.02 L81.37,415.45 L81.56,414.88 L81.75,414.31 L81.95,413.74 L82.14,413.17 L82.34,412.59 L82.54,412.02 L82.73,411.46 L82.93,410.89 L83.13,410.32 L83.33,409.75 L83.53,409.18 L83.73,408.61 L83.94,408.04 L84.14,407.47 L84.34,406.91 L84.55,406.34 L84.75,405.77 L84.96,405.20 L85.17,404.64 L85.37,404.07 L85.58,403.50 L85.79,402.94 L86.00,402.37 L86.21,401.80 L86.42,401.24 L86.63,400.67 L86.84,400.11 L87.05,399.54 L87.27,398.98 L87.48,398.41 L87.69,397.85 L87.91,397.28 L88.12,396.72 L88.34,396.15 L88.56,395.59 L88.77,395.02 L88.99,394.46 L89.21,393.90 L89.43,393.33 L89.64,392.77 L89.86,392.21 L90.08,391.64 L90.30,391.08 L90.52,390.52 L90.74,389.96 L90.96,389.39 L91.19,388.83 L91.41,388.27 L91.63,387.71 L91.85,387.14 L92.08,386.58 L92.30,386.02 L92.52,385.46 L92.75,384.90 L92.97,384.34 L93.20,383.78 L93.42,383.21 L93.65,382.65 L93.87,382.09 L94.10,381.53 L94.32,380.97 L94.55,380.41 L94.77,379.85 L95.00,379.29 L95.23,378.73 L95.46,378.17 L95.68,377.61 L95.91,377.05 L96.14,376.49 L96.36,375.93 L96.59,375.37 L96.82,374.81 L97.05,374.25 L97.28,373.69 L97.50,373.13 L97.73,372.57 L97.96,372.01 L98.19,371.45 L98.42,370.89 L98.65,370.33 L98.87,369.77 L99.10,369.21 L99.33,368.65 L99.56,368.09 L99.79,367.53 L100.02,366.98 L100.24,366.42 L100.47,365.86 L100.70,365.30 L100.93,364.74 L101.16,364.18 L101.39,363.62 L101.61,363.06 L101.84,362.50 L102.07,361.94 L102.30,361.38 L102.52,360.82 L102.75,360.27 L102.98,359.71 L103.21,359.15 L103.43,358.59 L103.66,358.03 L103.88,357.47 L104.11,356.91 L104.34,356.35 L104.56,355.79 L104.79,355.23 L105.01,354.67 L105.24,354.12 L105.46,353.56 L105.69,353.00 L105.91,352.44 L106.13,351.88 L106.36,351.32 L106.58,350.76 L106.80,350.20 L107.03,349.64 L107.25,349.08 L107.47,348.52 L107.69,347.96 L107.91,347.40 L108.13,346.84 L108.35,346.28 L108.57,345.72 L108.79,345.16 L109.01,344.60 L109.23,344.04 L109.45,343.48 L109.66,342.92 L109.88,342.36 L110.10,341.80 L110.10,341.80 L134.10,341.30 L134.10,341.29 L134.72,341.40 L135.33,341.52 L135.94,341.65 L136.53,341.79 L137.12,341.94 L137.71,342.11 L138.29,342.29 L138.86,342.47 L139.42,342.67 L139.98,342.88 L140.54,343.09 L141.09,343.32 L141.63,343.55 L142.17,343.80 L142.71,344.05 L143.24,344.31 L143.76,344.58 L144.29,344.86 L144.80,345.14 L145.32,345.43 L145.83,345.73 L146.33,346.04 L146.84,346.35 L147.34,346.66 L147.83,346.98 L148.33,347.31 L148.82,347.64 L149.31,347.98 L149.79,348.32 L150.28,348.66 L150.76,349.01 L151.24,349.36 L151.72,349.72 L152.20,350.08 L152.67,350.44 L153.15,350.80 L153.62,351.16 L154.10,351.53 L154.57,351.89 L155.04,352.26 L155.51,352.63 L155.99,353.00 L156.46,353.37 L156.93,353.74 L157.41,354.11 L157.88,354.47 L158.36,354.84 L158.83,355.21 L159.31,355.57 L159.79,355.93 L160.27,356.29 L160.75,356.65 L161.24,357.00 L161.72,357.35 L162.21,357.69 L162.70,358.04 L163.20,358.38 L163.70,358.71 L164.20,359.04 L164.70,359.36 L165.21,359.68 L165.72,359.99 L166.23,360.30 L166.75,360.60 L167.27,360.90 L167.79,361.19 L168.32,361.47 L168.85,361.75 L169.39,362.02 L169.93,362.29 L170.47,362.55 L171.01,362.81 L171.56,363.06 L172.11,363.31 L172.66,363.56 L173.21,363.80 L173.77,364.04 L174.33,364.28 L174.89,364.52 L175.45,364.75 L176.01,364.98 L176.57,365.21 L177.14,365.43 L177.70,365.66 L178.27,365.88 L178.84,366.10 L179.41,366.33 L179.97,366.55 L180.54,366.77 L181.11,366.99 L181.68,367.21 L182.25,367.43 L182.82,367.65 L183.38,367.88 L183.95,368.10 L184.51,368.33 L185.08,368.56 L185.64,368.79 L186.21,369.02 L186.77,369.25 L187.33,369.49 L187.88,369.73 L188.44,369.97 L188.99,370.22 L189.55,370.47 L190.10,370.73 L190.64,370.98 L191.19,371.25 L191.73,371.51 L192.27,371.79 L192.80,372.06 L193.34,372.34 L193.87,372.63 L194.39,372.92 L194.92,373.22 L195.44,373.51 L195.96,373.82 L196.48,374.13 L196.99,374.44 L197.50,374.76 L198.01,375.08 L198.51,375.40 L199.01,375.73 L199.51,376.07 L200.00,376.40 L200.49,376.75 L200.98,377.09 L201.47,377.44 L201.95,377.80 L202.42,378.16 L202.90,378.52 L203.37,378.89 L203.84,379.26 L204.30,379.63 L204.77,380.01 L205.22,380.39 L205.68,380.78 L206.13,381.17 L206.58,381.56 L207.02,381.96 L207.46,382.36 L207.90,382.77 L208.33,383.18 L208.76,383.59 L209.19,384.01 L209.61,384.43 L210.03,384.85 L210.45,385.28 L210.86,385.71 L211.27,386.15 L211.67,386.58 L212.07,387.03 L212.47,387.47 L212.86,387.92 L213.25,388.37 L213.63,388.83 L214.02,389.28 L214.39,389.75 L214.77,390.21 L215.13,390.68 L215.50,391.15 L215.86,391.63 L216.22,392.10 L216.57,392.58 L216.92,393.07 L217.26,393.56 L217.61,394.05 L217.94,394.54 L218.27,395.04 L218.60,395.54 L218.93,396.04 L219.24,396.54 L219.56,397.05 L219.87,397.56 L220.18,398.08 L220.48,398.59 L220.78,399.11 L221.07,399.63 L221.36,400.16 L221.64,400.69 L221.92,401.22 L222.20,401.75 L222.47,402.29 L222.73,402.82 L223.00,403.36 L223.25,403.91 L223.51,404.45 L223.75,405.00 L224.00,405.55 L224.23,406.11 L224.47,406.66 L224.70,407.22 L224.92,407.78 L225.14,408.34 L225.36,408.91 L225.57,409.47 L225.78,410.04 L225.99,410.61 L226.19,411.18 L226.39,411.76 L226.58,412.33 L226.77,412.91 L226.96,413.49 L227.14,414.07 L227.32,414.65 L227.50,415.24 L227.67,415.82 L227.84,416.41 L228.01,417.00 L228.17,417.59 L228.33,418.18 L228.49,418.77 L228.65,419.36 L228.80,419.96 L228.96,420.55 L229.10,421.15 L229.25,421.75 L229.40,422.35 L229.54,422.94 L229.68,423.54 L229.82,424.14 L229.95,424.74 L230.09,425.35 L230.22,425.95 L230.35,426.55 L230.48,427.15 L230.61,427.76 L230.74,428.36 L230.86,428.96 L230.99,429.57 L231.11,430.17 L231.23,430.78 L231.35,431.38 L231.47,431.98 L231.59,432.59 L231.71,433.19 L231.83,433.80 L231.95,434.40 L232.06,435.00 L232.18,435.61 L232.30,436.21 L232.41,436.81 L232.53,437.41 L232.64,438.01 L232.76,438.61 L232.87,439.21 L232.99,439.81 L233.11,440.41 L233.22,441.01 L233.34,441.60 L233.46,442.20 L233.58,442.79 L233.70,443.39 L233.82,443.98 L233.94,444.57 L234.06,445.16 L234.18,445.75 L234.30,446.33 L234.43,446.92 L234.55,447.50 L234.68,448.09 L234.81,448.67 L234.94,449.25 L235.07,449.82 L235.21,450.40 L235.34,450.97 L235.48,451.55 L235.62,452.12 L235.76,452.69 L235.90,453.25 L236.05,453.82 L236.20,454.38 L236.35,454.94 L236.50,455.50" fill="none" stroke="#2b4fa0" stroke-width="1.6" stroke-linejoin="round" stroke-linecap="butt" clip-path="url(#clipc)"/>
<path d="M69.90,514.00 L69.90,480.00 L69.91,480.00 L69.98,479.41 L70.06,478.81 L70.13,478.21 L70.21,477.61 L70.29,477.02 L70.37,476.42 L70.45,475.83 L70.53,475.23 L70.61,474.63 L70.69,474.04 L70.78,473.44 L70.86,472.84 L70.95,472.25 L71.04,471.65 L71.13,471.06 L71.22,470.46 L71.31,469.86 L71.40,469.27 L71.50,468.67 L71.59,468.08 L71.69,467.48 L71.79,466.89 L71.88,466.30 L71.98,465.70 L72.09,465.11 L72.19,464.51 L72.29,463.92 L72.40,463.33 L72.51,462.73 L72.61,462.14 L72.72,461.55 L72.84,460.96 L72.95,460.37 L73.06,459.77 L73.18,459.18 L73.30,458.59 L73.41,458.00 L73.53,457.41 L73.66,456.82 L73.78,456.23 L73.90,455.64 L74.03,455.05 L74.16,454.47 L74.29,453.88 L74.42,453.29 L74.55,452.70 L74.69,452.12 L74.82,451.53 L74.96,450.94 L75.10,450.36 L75.24,449.77 L75.39,449.19 L75.53,448.61 L75.68,448.02 L75.83,447.44 L75.98,446.86 L76.13,446.27 L76.28,445.69 L76.44,445.11 L76.59,444.53 L76.75,443.95 L76.91,443.37 L77.07,442.79 L77.24,442.21 L77.40,441.63 L77.57,441.06 L77.74,440.48 L77.91,439.90 L78.08,439.32 L78.25,438.75 L78.43,438.17 L78.60,437.60 L78.78,437.02 L78.96,436.45 L79.14,435.87 L79.32,435.30 L79.50,434.73 L79.69,434.15 L79.87,433.58 L80.06,433.01 L80.24,432.43 L80.43,431.86 L80.62,431.29 L80.81,430.72 L81.01,430.15 L81.20,429.58 L81.39,429.01 L81.59,428.44 L81.79,427.87 L81.98,427.30 L82.18,426.73 L82.38,426.16 L82.58,425.60 L82.78,425.03 L82.98,424.46 L83.19,423.89 L83.39,423.33 L83.60,422.76 L83.80,422.19 L84.01,421.63 L84.22,421.06 L84.42,420.49 L84.63,419.93 L84.84,419.36 L85.05,418.80 L85.26,418.23 L85.47,417.67 L85.68,417.10 L85.90,416.54 L86.11,415.97 L86.32,415.41 L86.54,414.85 L86.75,414.28 L86.97,413.72 L87.18,413.16 L87.40,412.59 L87.61,412.03 L87.83,411.47 L88.05,410.91 L88.27,410.34 L88.49,409.78 L88.71,409.22 L88.93,408.66 L89.15,408.10 L89.37,407.53 L89.59,406.97 L89.81,406.41 L90.03,405.85 L90.25,405.29 L90.48,404.73 L90.70,404.17 L90.92,403.61 L91.15,403.05 L91.37,402.49 L91.60,401.93 L91.82,401.37 L92.05,400.81 L92.27,400.25 L92.50,399.69 L92.72,399.13 L92.95,398.57 L93.18,398.01 L93.41,397.45 L93.63,396.90 L93.86,396.34 L94.09,395.78 L94.32,395.22 L94.55,394.66 L94.78,394.10 L95.01,393.55 L95.23,392.99 L95.46,392.43 L95.69,391.87 L95.92,391.32 L96.16,390.76 L96.39,390.20 L96.62,389.64 L96.85,389.09 L97.08,388.53 L97.31,387.97 L97.54,387.42 L97.77,386.86 L98.00,386.30 L98.24,385.75 L98.47,385.19 L98.70,384.63 L98.93,384.08 L99.16,383.52 L99.40,382.96 L99.63,382.41 L99.86,381.85 L100.09,381.30 L100.33,380.74 L100.56,380.18 L100.79,379.63 L101.03,379.07 L101.26,378.52 L101.49,377.96 L101.72,377.41 L101.96,376.85 L102.19,376.30 L102.43,375.74 L102.66,375.19 L102.90,374.63 L103.13,374.08 L103.37,373.52 L103.60,372.97 L103.84,372.42 L104.08,371.87 L104.31,371.31 L104.55,370.76 L104.79,370.21 L105.03,369.66 L105.27,369.11 L105.51,368.55 L105.76,368.00 L106.00,367.45 L106.24,366.91 L106.49,366.36 L106.73,365.81 L106.98,365.26 L107.23,364.71 L107.48,364.17 L107.73,363.62 L107.98,363.08 L108.23,362.53 L108.48,361.99 L108.74,361.44 L108.99,360.90 L109.25,360.36 L109.51,359.82 L109.77,359.28 L110.03,358.73 L110.29,358.20 L110.30,358.00 L134.10,358.00 L134.10,358.00 L134.72,358.00 L135.35,358.00 L135.97,358.00 L136.59,358.00 L137.21,358.00 L137.83,358.00 L138.45,358.00 L139.07,358.00 L139.69,358.00 L140.30,358.00 L140.91,358.00 L141.53,358.00 L142.14,358.00 L142.75,358.00 L143.35,358.00 L143.96,358.00 L144.56,358.00 L145.17,358.00 L145.77,358.08 L146.37,358.16 L146.96,358.25 L147.56,358.35 L148.15,358.45 L148.74,358.56 L149.32,358.69 L149.91,358.81 L150.49,358.95 L151.07,359.10 L151.65,359.25 L152.22,359.41 L152.79,359.58 L153.36,359.75 L153.93,359.94 L154.49,360.13 L155.05,360.33 L155.61,360.54 L156.16,360.76 L156.71,360.98 L157.26,361.21 L157.81,361.44 L158.35,361.69 L158.89,361.94 L159.43,362.19 L159.96,362.45 L160.50,362.72 L161.03,362.99 L161.56,363.27 L162.08,363.55 L162.61,363.83 L163.13,364.12 L163.65,364.42 L164.17,364.71 L164.69,365.01 L165.20,365.32 L165.72,365.63 L166.23,365.94 L166.74,366.25 L167.25,366.56 L167.76,366.88 L168.27,367.20 L168.77,367.52 L169.28,367.84 L169.79,368.16 L170.29,368.48 L170.80,368.80 L171.30,369.13 L171.80,369.45 L172.31,369.77 L172.81,370.09 L173.32,370.41 L173.83,370.73 L174.33,371.05 L174.84,371.37 L175.35,371.68 L175.86,372.00 L176.37,372.30 L176.88,372.61 L177.40,372.92 L177.91,373.22 L178.43,373.51 L178.95,373.81 L179.47,374.10 L179.99,374.38 L180.52,374.66 L181.05,374.94 L181.58,375.22 L182.11,375.49 L182.64,375.76 L183.18,376.02 L183.71,376.28 L184.25,376.54 L184.79,376.80 L185.33,377.05 L185.88,377.31 L186.42,377.56 L186.97,377.81 L187.51,378.05 L188.06,378.30 L188.61,378.55 L189.16,378.79 L189.71,379.04 L190.27,379.28 L190.82,379.52 L191.37,379.76 L191.93,380.01 L192.49,380.25 L193.04,380.49 L193.60,380.73 L194.16,380.97 L194.71,381.21 L195.27,381.45 L195.83,381.69 L196.39,381.93 L196.95,382.17 L197.50,382.41 L198.06,382.65 L198.62,382.90 L199.18,383.14 L199.74,383.38 L200.30,383.63 L200.85,383.87 L201.41,384.11 L201.97,384.36 L202.52,384.61 L203.08,384.86 L203.63,385.11 L204.19,385.36 L204.74,385.61 L205.29,385.86 L205.85,386.12 L206.40,386.37 L206.95,386.63 L207.49,386.89 L208.04,387.16 L208.59,387.42 L209.13,387.68 L209.67,387.95 L210.22,388.22 L210.76,388.50 L211.30,388.77 L211.83,389.05 L212.37,389.33 L212.90,389.61 L213.43,389.89 L213.96,390.18 L214.49,390.47 L215.01,390.76 L215.54,391.06 L216.06,391.36 L216.58,391.66 L217.09,391.97 L217.61,392.28 L218.12,392.59 L218.63,392.90 L219.14,393.22 L219.64,393.54 L220.14,393.87 L220.64,394.20 L221.14,394.53 L221.63,394.87 L222.12,395.21 L222.60,395.56 L223.09,395.91 L223.57,396.26 L224.04,396.62 L224.52,396.99 L224.99,397.35 L225.45,397.73 L225.92,398.10 L226.38,398.49 L226.83,398.87 L227.29,399.26 L227.73,399.66 L228.18,400.06 L228.62,400.47 L229.06,400.88 L229.49,401.30 L229.92,401.72 L230.34,402.15 L230.76,402.58 L231.18,403.02 L231.59,403.46 L231.99,403.91 L232.40,404.37 L232.79,404.83 L233.19,405.30 L233.57,405.78 L233.96,406.26 L234.34,406.74 L234.71,407.24 L235.08,407.74 L235.44,408.24 L235.80,408.76 L236.15,409.28 L236.50,409.80" fill="none" stroke="#5ab946" stroke-width="1.6" stroke-linejoin="round" stroke-linecap="butt" clip-path="url(#clipc)"/>
<path d="M69.90,514.00 L69.90,508.00 L69.90,508.00 L69.96,507.40 L70.02,506.80 L70.08,506.20 L70.14,505.60 L70.20,505.00 L70.26,504.40 L70.31,503.80 L70.37,503.20 L70.42,502.60 L70.48,502.00 L70.53,501.40 L70.59,500.79 L70.64,500.19 L70.70,499.59 L70.75,498.99 L70.81,498.39 L70.86,497.79 L70.91,497.19 L70.97,496.59 L71.02,495.99 L71.07,495.39 L71.12,494.78 L71.18,494.18 L71.23,493.58 L71.28,492.98 L71.34,492.38 L71.39,491.78 L71.44,491.18 L71.50,490.58 L71.55,489.98 L71.61,489.38 L71.66,488.78 L71.72,488.18 L71.77,487.57 L71.83,486.97 L71.88,486.37 L71.94,485.77 L72.00,485.17 L72.06,484.57 L72.12,483.97 L72.18,483.37 L72.24,482.77 L72.30,482.17 L72.36,481.57 L72.42,480.97 L72.48,480.37 L72.55,479.78 L72.61,479.18 L72.68,478.58 L72.74,477.98 L72.81,477.38 L72.88,476.78 L72.95,476.18 L73.02,475.58 L73.09,474.99 L73.17,474.39 L73.24,473.79 L73.32,473.19 L73.39,472.60 L73.47,472.00 L73.55,471.40 L73.63,470.80 L73.71,470.21 L73.80,469.61 L73.88,469.02 L73.97,468.42 L74.06,467.82 L74.15,467.23 L74.24,466.63 L74.33,466.04 L74.43,465.44 L74.52,464.85 L74.62,464.26 L74.72,463.66 L74.82,463.07 L74.93,462.47 L75.03,461.88 L75.14,461.29 L75.25,460.70 L75.36,460.10 L75.48,459.51 L75.59,458.92 L75.71,458.33 L75.83,457.74 L75.95,457.15 L76.07,456.56 L76.20,455.97 L76.33,455.38 L76.46,454.79 L76.59,454.20 L76.72,453.61 L76.86,453.02 L76.99,452.43 L77.13,451.85 L77.27,451.26 L77.41,450.67 L77.56,450.09 L77.70,449.50 L77.85,448.92 L78.00,448.33 L78.15,447.75 L78.31,447.16 L78.46,446.58 L78.62,446.00 L78.78,445.41 L78.94,444.83 L79.10,444.25 L79.26,443.67 L79.43,443.09 L79.60,442.51 L79.77,441.93 L79.94,441.35 L80.11,440.77 L80.28,440.19 L80.46,439.61 L80.64,439.03 L80.82,438.46 L81.00,437.88 L81.18,437.30 L81.36,436.73 L81.55,436.15 L81.74,435.58 L81.93,435.01 L82.12,434.43 L82.31,433.86 L82.50,433.29 L82.70,432.72 L82.89,432.15 L83.09,431.58 L83.29,431.01 L83.49,430.44 L83.70,429.87 L83.90,429.30 L84.11,428.74 L84.31,428.17 L84.52,427.60 L84.73,427.04 L84.94,426.47 L85.16,425.91 L85.37,425.35 L85.59,424.79 L85.80,424.22 L86.02,423.66 L86.24,423.10 L86.46,422.54 L86.69,421.98 L86.91,421.42 L87.13,420.87 L87.36,420.31 L87.59,419.75 L87.81,419.19 L88.04,418.64 L88.27,418.08 L88.50,417.53 L88.73,416.97 L88.96,416.42 L89.20,415.86 L89.43,415.31 L89.66,414.75 L89.90,414.20 L90.13,413.65 L90.37,413.09 L90.60,412.54 L90.84,411.99 L91.07,411.43 L91.31,410.88 L91.55,410.33 L91.78,409.78 L92.02,409.22 L92.26,408.67 L92.49,408.12 L92.73,407.57 L92.97,407.01 L93.21,406.46 L93.44,405.91 L93.68,405.35 L93.91,404.80 L94.15,404.25 L94.39,403.69 L94.62,403.14 L94.86,402.59 L95.09,402.03 L95.33,401.48 L95.56,400.92 L95.79,400.37 L96.02,399.81 L96.25,399.26 L96.49,398.70 L96.72,398.15 L96.95,397.59 L97.17,397.03 L97.40,396.47 L97.63,395.92 L97.86,395.36 L98.09,394.80 L98.32,394.24 L98.54,393.69 L98.77,393.13 L99.00,392.57 L99.22,392.01 L99.45,391.45 L99.68,390.90 L99.91,390.34 L100.13,389.78 L100.36,389.22 L100.59,388.66 L100.82,388.10 L101.05,387.55 L101.28,386.99 L101.51,386.43 L101.74,385.88 L101.97,385.32 L102.20,384.76 L102.43,384.21 L102.66,383.65 L102.90,383.09 L103.13,382.54 L103.36,381.98 L103.60,381.43 L103.84,380.87 L104.08,380.32 L104.31,379.77 L104.55,379.22 L104.80,378.66 L105.04,378.11 L105.28,377.56 L105.53,377.01 L105.77,376.46 L106.02,375.91 L106.27,375.36 L106.52,374.82 L106.77,374.27 L107.03,373.72 L107.28,373.18 L107.54,372.63 L107.80,372.09 L108.06,371.54 L108.32,371.00 L108.59,370.46 L108.85,369.92 L109.12,369.38 L109.39,368.84 L109.67,368.30 L109.94,367.77 L110.22,367.23 L110.50,366.70 L110.50,366.50 L134.10,366.40 L134.10,366.40 L134.71,366.40 L135.33,366.40 L135.94,366.40 L136.55,366.40 L137.17,366.40 L137.78,366.40 L138.39,366.40 L139.01,366.40 L139.62,366.40 L140.23,366.40 L140.84,366.40 L141.46,366.40 L142.07,366.40 L142.68,366.40 L143.29,366.40 L143.90,366.40 L144.51,366.40 L145.11,366.40 L145.72,366.40 L146.33,366.40 L146.93,366.40 L147.54,366.42 L148.14,366.47 L148.74,366.53 L149.34,366.59 L149.94,366.66 L150.54,366.73 L151.13,366.80 L151.73,366.88 L152.32,366.97 L152.91,367.06 L153.50,367.16 L154.09,367.27 L154.68,367.38 L155.26,367.50 L155.85,367.62 L156.43,367.75 L157.01,367.88 L157.58,368.02 L158.16,368.17 L158.73,368.33 L159.30,368.49 L159.87,368.66 L160.43,368.83 L161.00,369.02 L161.56,369.21 L162.11,369.40 L162.67,369.61 L163.22,369.82 L163.77,370.04 L164.32,370.26 L164.86,370.50 L165.40,370.74 L165.94,370.99 L166.47,371.25 L167.00,371.51 L167.53,371.78 L168.06,372.06 L168.59,372.35 L169.11,372.63 L169.63,372.93 L170.15,373.23 L170.67,373.53 L171.18,373.83 L171.70,374.14 L172.21,374.45 L172.73,374.76 L173.24,375.08 L173.76,375.39 L174.27,375.71 L174.79,376.02 L175.30,376.33 L175.82,376.64 L176.34,376.96 L176.85,377.26 L177.37,377.57 L177.89,377.88 L178.41,378.18 L178.93,378.49 L179.46,378.79 L179.98,379.08 L180.51,379.38 L181.03,379.67 L181.56,379.97 L182.09,380.25 L182.62,380.54 L183.15,380.82 L183.68,381.10 L184.22,381.38 L184.75,381.65 L185.29,381.92 L185.83,382.19 L186.37,382.46 L186.91,382.72 L187.46,382.98 L188.00,383.24 L188.55,383.49 L189.10,383.74 L189.64,383.99 L190.19,384.24 L190.75,384.49 L191.30,384.73 L191.85,384.97 L192.40,385.21 L192.96,385.45 L193.51,385.69 L194.07,385.92 L194.63,386.15 L195.19,386.38 L195.74,386.61 L196.30,386.84 L196.86,387.07 L197.42,387.30 L197.99,387.52 L198.55,387.75 L199.11,387.97 L199.67,388.19 L200.23,388.42 L200.80,388.64 L201.36,388.86 L201.92,389.08 L202.49,389.30 L203.05,389.52 L203.62,389.74 L204.18,389.96 L204.74,390.18 L205.31,390.40 L205.87,390.62 L206.44,390.84 L207.00,391.06 L207.56,391.28 L208.13,391.50 L208.69,391.73 L209.25,391.95 L209.82,392.17 L210.38,392.40 L210.94,392.62 L211.50,392.85 L212.06,393.08 L212.62,393.31 L213.18,393.54 L213.74,393.77 L214.30,394.00 L214.85,394.24 L215.41,394.48 L215.96,394.71 L216.52,394.95 L217.07,395.20 L217.62,395.44 L218.18,395.69 L218.73,395.94 L219.28,396.19 L219.82,396.44 L220.37,396.69 L220.92,396.95 L221.46,397.21 L222.00,397.48 L222.55,397.74 L223.09,398.01 L223.63,398.28 L224.16,398.56 L224.70,398.84 L225.23,399.12 L225.77,399.40 L226.30,399.69 L226.83,399.98 L227.35,400.28 L227.88,400.58 L228.40,400.88 L228.93,401.19 L229.45,401.50 L229.96,401.81 L230.48,402.13 L230.99,402.45 L231.51,402.78 L232.02,403.11 L232.52,403.45 L233.03,403.79 L233.53,404.13 L234.03,404.48 L234.53,404.84 L235.03,405.20 L235.52,405.56 L236.01,405.93 L236.50,406.30" fill="none" stroke="#e8000f" stroke-width="1.6" stroke-linejoin="round" stroke-linecap="butt" clip-path="url(#clipc)"/>
<path d="M69.90,514.00 L69.90,438.80 L69.91,438.80 L70.02,438.20 L70.13,437.61 L70.24,437.01 L70.36,436.41 L70.48,435.82 L70.60,435.23 L70.72,434.63 L70.84,434.04 L70.97,433.45 L71.10,432.85 L71.23,432.26 L71.36,431.67 L71.50,431.08 L71.63,430.49 L71.77,429.90 L71.91,429.32 L72.05,428.73 L72.20,428.14 L72.34,427.56 L72.49,426.97 L72.64,426.38 L72.79,425.80 L72.94,425.22 L73.09,424.63 L73.25,424.05 L73.41,423.47 L73.56,422.88 L73.73,422.30 L73.89,421.72 L74.05,421.14 L74.22,420.56 L74.38,419.98 L74.55,419.40 L74.72,418.83 L74.89,418.25 L75.06,417.67 L75.24,417.09 L75.41,416.52 L75.59,415.94 L75.77,415.36 L75.95,414.79 L76.13,414.21 L76.31,413.64 L76.50,413.07 L76.68,412.49 L76.87,411.92 L77.05,411.35 L77.24,410.77 L77.43,410.20 L77.62,409.63 L77.82,409.06 L78.01,408.49 L78.20,407.92 L78.40,407.35 L78.59,406.78 L78.79,406.21 L78.99,405.64 L79.19,405.07 L79.39,404.50 L79.59,403.93 L79.80,403.37 L80.00,402.80 L80.20,402.23 L80.41,401.67 L80.61,401.10 L80.82,400.53 L81.03,399.97 L81.24,399.40 L81.45,398.83 L81.66,398.27 L81.87,397.70 L82.08,397.14 L82.29,396.57 L82.51,396.01 L82.72,395.45 L82.93,394.88 L83.15,394.32 L83.37,393.75 L83.58,393.19 L83.80,392.63 L84.02,392.06 L84.23,391.50 L84.45,390.94 L84.67,390.38 L84.89,389.81 L85.11,389.25 L85.33,388.69 L85.55,388.13 L85.77,387.57 L86.00,387.00 L86.22,386.44 L86.44,385.88 L86.66,385.32 L86.89,384.76 L87.11,384.20 L87.33,383.64 L87.56,383.07 L87.78,382.51 L88.01,381.95 L88.23,381.39 L88.46,380.83 L88.68,380.27 L88.91,379.71 L89.13,379.15 L89.36,378.59 L89.58,378.03 L89.81,377.47 L90.03,376.91 L90.26,376.35 L90.48,375.78 L90.71,375.22 L90.94,374.66 L91.16,374.10 L91.39,373.54 L91.61,372.98 L91.84,372.42 L92.06,371.86 L92.29,371.30 L92.52,370.74 L92.74,370.18 L92.97,369.62 L93.19,369.06 L93.42,368.49 L93.64,367.93 L93.87,367.37 L94.09,366.81 L94.31,366.25 L94.54,365.69 L94.76,365.13 L94.98,364.57 L95.21,364.00 L95.43,363.44 L95.65,362.88 L95.88,362.32 L96.10,361.76 L96.32,361.19 L96.54,360.63 L96.76,360.07 L96.98,359.51 L97.20,358.94 L97.42,358.38 L97.64,357.82 L97.86,357.25 L98.07,356.69 L98.29,356.13 L98.51,355.56 L98.72,355.00 L98.94,354.43 L99.16,353.87 L99.37,353.30 L99.58,352.74 L99.80,352.17 L100.01,351.61 L100.22,351.04 L100.43,350.48 L100.64,349.91 L100.85,349.34 L101.06,348.78 L101.27,348.21 L101.48,347.64 L101.69,347.08 L101.89,346.51 L102.10,345.94 L102.30,345.37 L102.51,344.80 L102.71,344.24 L102.91,343.67 L103.11,343.10 L103.31,342.53 L103.51,341.96 L103.71,341.39 L103.91,340.82 L104.10,340.25 L104.30,339.67 L104.49,339.10 L104.69,338.53 L104.88,337.96 L105.07,337.39 L105.26,336.81 L105.45,336.24 L105.64,335.67 L105.83,335.09 L106.01,334.52 L106.20,333.94 L106.38,333.37 L106.56,332.79 L106.74,332.21 L106.92,331.64 L107.10,331.06 L107.28,330.48 L107.46,329.91 L107.63,329.33 L107.81,328.75 L107.98,328.17 L108.15,327.59 L108.32,327.01 L108.49,326.43 L108.66,325.85 L108.82,325.27 L108.99,324.69 L109.15,324.10 L109.31,323.52 L109.47,322.94 L109.63,322.35 L109.79,321.77 L109.94,321.18 L110.10,320.60 L110.10,320.60 L134.10,320.40 L134.10,320.39 L134.74,320.51 L135.37,320.63 L135.98,320.78 L136.59,320.93 L137.18,321.10 L137.77,321.29 L138.35,321.49 L138.91,321.70 L139.47,321.92 L140.02,322.15 L140.57,322.40 L141.10,322.65 L141.63,322.92 L142.15,323.20 L142.67,323.48 L143.18,323.78 L143.68,324.08 L144.18,324.39 L144.67,324.71 L145.15,325.04 L145.63,325.38 L146.11,325.72 L146.58,326.06 L147.05,326.42 L147.52,326.77 L147.98,327.14 L148.43,327.50 L148.89,327.87 L149.34,328.25 L149.79,328.63 L150.24,329.01 L150.69,329.39 L151.14,329.77 L151.58,330.16 L152.03,330.54 L152.48,330.93 L152.92,331.32 L153.37,331.70 L153.81,332.09 L154.26,332.48 L154.71,332.86 L155.15,333.25 L155.60,333.63 L156.05,334.01 L156.50,334.39 L156.96,334.77 L157.41,335.15 L157.87,335.52 L158.33,335.90 L158.79,336.27 L159.25,336.64 L159.72,337.00 L160.19,337.36 L160.66,337.72 L161.14,338.08 L161.62,338.43 L162.10,338.77 L162.58,339.12 L163.07,339.46 L163.57,339.79 L164.06,340.12 L164.57,340.45 L165.07,340.77 L165.58,341.09 L166.09,341.40 L166.61,341.71 L167.13,342.02 L167.65,342.32 L168.18,342.62 L168.71,342.91 L169.24,343.21 L169.77,343.50 L170.31,343.79 L170.85,344.07 L171.39,344.35 L171.93,344.63 L172.48,344.91 L173.02,345.19 L173.57,345.47 L174.12,345.74 L174.67,346.01 L175.22,346.28 L175.77,346.55 L176.33,346.82 L176.88,347.09 L177.44,347.36 L177.99,347.63 L178.54,347.90 L179.10,348.16 L179.65,348.43 L180.21,348.70 L180.76,348.97 L181.31,349.24 L181.87,349.51 L182.42,349.78 L182.97,350.05 L183.52,350.32 L184.07,350.60 L184.61,350.88 L185.16,351.15 L185.70,351.43 L186.24,351.72 L186.78,352.00 L187.32,352.29 L187.85,352.58 L188.39,352.87 L188.92,353.17 L189.44,353.47 L189.97,353.77 L190.49,354.07 L191.00,354.38 L191.52,354.69 L192.03,355.01 L192.54,355.33 L193.04,355.66 L193.54,355.99 L194.03,356.32 L194.52,356.66 L195.01,357.00 L195.50,357.35 L195.98,357.70 L196.45,358.05 L196.93,358.41 L197.40,358.77 L197.86,359.13 L198.32,359.50 L198.78,359.88 L199.24,360.26 L199.69,360.64 L200.14,361.02 L200.58,361.41 L201.02,361.80 L201.46,362.20 L201.89,362.60 L202.32,363.00 L202.75,363.41 L203.17,363.82 L203.59,364.23 L204.01,364.65 L204.42,365.07 L204.83,365.49 L205.23,365.92 L205.64,366.35 L206.03,366.79 L206.43,367.22 L206.82,367.66 L207.21,368.11 L207.60,368.55 L207.98,369.00 L208.36,369.46 L208.74,369.91 L209.11,370.37 L209.48,370.83 L209.84,371.30 L210.21,371.77 L210.57,372.24 L210.92,372.71 L211.28,373.19 L211.63,373.67 L211.98,374.15 L212.32,374.63 L212.66,375.12 L213.00,375.61 L213.34,376.10 L213.67,376.60 L214.00,377.10 L214.33,377.60 L214.65,378.10 L214.97,378.61 L215.29,379.11 L215.60,379.62 L215.91,380.14 L216.22,380.65 L216.53,381.17 L216.83,381.69 L217.13,382.21 L217.43,382.73 L217.73,383.26 L218.02,383.79 L218.31,384.32 L218.59,384.85 L218.88,385.38 L219.16,385.92 L219.44,386.46 L219.71,387.00 L219.99,387.54 L220.26,388.08 L220.52,388.63 L220.79,389.18 L221.05,389.73 L221.31,390.28 L221.57,390.83 L221.82,391.38 L222.08,391.94 L222.33,392.50 L222.57,393.06 L222.82,393.62 L223.06,394.18 L223.30,394.74 L223.54,395.31 L223.77,395.87 L224.01,396.44 L224.24,397.01 L224.46,397.58 L224.69,398.15 L224.91,398.73 L225.13,399.30 L225.35,399.87 L225.57,400.45 L225.78,401.03 L226.00,401.61 L226.21,402.19 L226.41,402.77 L226.62,403.35 L226.82,403.93 L227.02,404.51 L227.22,405.10 L227.42,405.68 L227.61,406.27 L227.80,406.85 L228.00,407.44 L228.18,408.03 L228.37,408.62 L228.55,409.21 L228.74,409.80 L228.92,410.39 L229.09,410.98 L229.27,411.57 L229.44,412.16 L229.62,412.75 L229.79,413.34 L229.96,413.94 L230.12,414.53 L230.29,415.12 L230.45,415.72 L230.61,416.31 L230.77,416.91 L230.93,417.50 L231.08,418.09 L231.24,418.69 L231.39,419.28 L231.54,419.88 L231.69,420.47 L231.84,421.07 L231.98,421.66 L232.12,422.26 L232.27,422.85 L232.41,423.44 L232.54,424.04 L232.68,424.63 L232.82,425.23 L232.95,425.82 L233.08,426.41 L233.21,427.00 L233.34,427.60 L233.47,428.19 L233.60,428.78 L233.72,429.37 L233.85,429.96 L233.97,430.55 L234.09,431.14 L234.21,431.72 L234.32,432.31 L234.44,432.90 L234.56,433.48 L234.67,434.07 L234.78,434.65 L234.89,435.24 L235.00,435.82 L235.11,436.40 L235.22,436.98 L235.32,437.56 L235.43,438.14 L235.53,438.72 L235.63,439.29 L235.74,439.87 L235.84,440.44 L235.93,441.02 L236.03,441.59 L236.13,442.16 L236.22,442.73 L236.32,443.30 L236.41,443.86 L236.50,444.43 L236.59,444.99" fill="none" stroke="#6f4097" stroke-width="1.6" stroke-linejoin="round" stroke-linecap="butt" clip-path="url(#clipc)"/>
<path d="M69.90,514.00 L69.90,459.00 L69.89,459.00 L69.95,458.40 L70.01,457.80 L70.08,457.20 L70.14,456.60 L70.22,456.00 L70.29,455.40 L70.37,454.80 L70.45,454.21 L70.53,453.61 L70.62,453.02 L70.71,452.42 L70.81,451.83 L70.91,451.24 L71.01,450.64 L71.11,450.05 L71.22,449.46 L71.33,448.87 L71.44,448.28 L71.55,447.70 L71.67,447.11 L71.79,446.52 L71.92,445.93 L72.04,445.35 L72.17,444.76 L72.30,444.18 L72.44,443.59 L72.57,443.01 L72.71,442.43 L72.85,441.84 L73.00,441.26 L73.14,440.68 L73.29,440.10 L73.45,439.52 L73.60,438.94 L73.75,438.36 L73.91,437.78 L74.07,437.21 L74.24,436.63 L74.40,436.05 L74.57,435.47 L74.74,434.90 L74.91,434.32 L75.08,433.75 L75.25,433.17 L75.43,432.60 L75.61,432.03 L75.79,431.45 L75.97,430.88 L76.15,430.31 L76.34,429.73 L76.53,429.16 L76.72,428.59 L76.91,428.02 L77.10,427.45 L77.29,426.88 L77.49,426.31 L77.68,425.74 L77.88,425.17 L78.08,424.60 L78.28,424.04 L78.48,423.47 L78.68,422.90 L78.89,422.33 L79.09,421.76 L79.30,421.20 L79.51,420.63 L79.72,420.07 L79.92,419.50 L80.14,418.93 L80.35,418.37 L80.56,417.80 L80.77,417.24 L80.99,416.67 L81.20,416.11 L81.42,415.54 L81.63,414.98 L81.85,414.42 L82.07,413.85 L82.29,413.29 L82.50,412.72 L82.72,412.16 L82.94,411.60 L83.16,411.03 L83.38,410.47 L83.61,409.91 L83.83,409.35 L84.05,408.78 L84.27,408.22 L84.49,407.66 L84.71,407.10 L84.94,406.53 L85.16,405.97 L85.38,405.41 L85.61,404.85 L85.83,404.29 L86.05,403.72 L86.27,403.16 L86.50,402.60 L86.72,402.04 L86.94,401.48 L87.16,400.91 L87.38,400.35 L87.61,399.79 L87.83,399.23 L88.05,398.67 L88.27,398.10 L88.49,397.54 L88.71,396.98 L88.93,396.42 L89.15,395.86 L89.37,395.29 L89.59,394.73 L89.81,394.17 L90.03,393.61 L90.25,393.05 L90.47,392.48 L90.69,391.92 L90.91,391.36 L91.12,390.80 L91.34,390.23 L91.56,389.67 L91.78,389.11 L91.99,388.55 L92.21,387.98 L92.43,387.42 L92.64,386.86 L92.86,386.30 L93.08,385.73 L93.29,385.17 L93.51,384.61 L93.72,384.05 L93.94,383.48 L94.15,382.92 L94.36,382.36 L94.58,381.79 L94.79,381.23 L95.00,380.67 L95.22,380.10 L95.43,379.54 L95.64,378.97 L95.85,378.41 L96.06,377.85 L96.28,377.28 L96.49,376.72 L96.70,376.15 L96.91,375.59 L97.12,375.02 L97.33,374.46 L97.53,373.90 L97.74,373.33 L97.95,372.77 L98.16,372.20 L98.37,371.63 L98.57,371.07 L98.78,370.50 L98.99,369.94 L99.19,369.37 L99.40,368.81 L99.60,368.24 L99.81,367.67 L100.01,367.11 L100.21,366.54 L100.42,365.97 L100.62,365.41 L100.82,364.84 L101.02,364.27 L101.22,363.71 L101.43,363.14 L101.63,362.57 L101.83,362.00 L102.03,361.43 L102.22,360.87 L102.42,360.30 L102.62,359.73 L102.82,359.16 L103.02,358.59 L103.21,358.02 L103.41,357.45 L103.60,356.88 L103.80,356.31 L103.99,355.74 L104.19,355.17 L104.38,354.60 L104.57,354.03 L104.77,353.46 L104.96,352.89 L105.15,352.32 L105.34,351.75 L105.53,351.17 L105.72,350.60 L105.91,350.03 L106.10,349.46 L106.29,348.89 L106.48,348.31 L106.66,347.74 L106.85,347.17 L107.03,346.59 L107.22,346.02 L107.40,345.44 L107.59,344.87 L107.77,344.30 L107.96,343.72 L108.14,343.14 L108.32,342.57 L108.50,341.99 L108.68,341.42 L108.86,340.84 L109.04,340.27 L109.22,339.69 L109.40,339.11 L109.57,338.53 L109.75,337.96 L109.93,337.38 L110.10,336.80 L110.10,336.80 L134.10,336.60 L134.10,336.61 L134.74,336.61 L135.37,336.61 L136.01,336.61 L136.64,336.61 L137.27,336.61 L137.89,336.61 L138.52,336.61 L139.14,336.61 L139.76,336.61 L140.38,336.61 L140.99,336.61 L141.60,336.61 L142.21,336.61 L142.82,336.61 L143.43,336.61 L144.03,336.67 L144.63,336.74 L145.22,336.83 L145.82,336.92 L146.41,337.02 L147.00,337.13 L147.59,337.25 L148.17,337.37 L148.75,337.51 L149.33,337.65 L149.91,337.79 L150.48,337.95 L151.05,338.11 L151.62,338.28 L152.19,338.46 L152.75,338.64 L153.31,338.83 L153.87,339.03 L154.42,339.24 L154.97,339.45 L155.52,339.67 L156.07,339.89 L156.61,340.12 L157.16,340.36 L157.69,340.60 L158.23,340.85 L158.77,341.11 L159.30,341.37 L159.83,341.63 L160.36,341.90 L160.88,342.17 L161.41,342.45 L161.93,342.74 L162.45,343.02 L162.97,343.31 L163.48,343.61 L164.00,343.91 L164.51,344.21 L165.02,344.51 L165.53,344.82 L166.04,345.13 L166.54,345.45 L167.05,345.76 L167.55,346.08 L168.06,346.40 L168.56,346.72 L169.06,347.05 L169.56,347.37 L170.05,347.70 L170.55,348.03 L171.05,348.36 L171.55,348.69 L172.04,349.02 L172.54,349.35 L173.03,349.69 L173.53,350.02 L174.02,350.35 L174.52,350.69 L175.01,351.02 L175.51,351.36 L176.01,351.69 L176.50,352.03 L177.00,352.36 L177.50,352.69 L178.00,353.02 L178.50,353.36 L179.00,353.69 L179.50,354.02 L180.00,354.34 L180.51,354.67 L181.02,355.00 L181.52,355.32 L182.03,355.64 L182.54,355.96 L183.06,356.28 L183.57,356.60 L184.09,356.91 L184.61,357.22 L185.13,357.53 L185.66,357.83 L186.18,358.14 L186.71,358.44 L187.24,358.74 L187.77,359.03 L188.31,359.33 L188.84,359.62 L189.38,359.91 L189.92,360.19 L190.46,360.48 L191.00,360.77 L191.55,361.05 L192.09,361.33 L192.64,361.61 L193.19,361.89 L193.73,362.17 L194.28,362.44 L194.83,362.72 L195.38,363.00 L195.93,363.27 L196.48,363.54 L197.03,363.82 L197.59,364.09 L198.14,364.36 L198.69,364.63 L199.24,364.91 L199.79,365.18 L200.34,365.45 L200.90,365.72 L201.45,365.99 L202.00,366.27 L202.55,366.54 L203.10,366.81 L203.64,367.09 L204.19,367.36 L204.74,367.64 L205.28,367.91 L205.83,368.19 L206.37,368.47 L206.91,368.75 L207.45,369.03 L207.99,369.32 L208.53,369.60 L209.06,369.89 L209.60,370.17 L210.13,370.46 L210.66,370.75 L211.19,371.05 L211.71,371.34 L212.23,371.64 L212.76,371.94 L213.27,372.24 L213.79,372.55 L214.30,372.86 L214.81,373.17 L215.32,373.48 L215.82,373.80 L216.33,374.12 L216.82,374.44 L217.32,374.76 L217.81,375.09 L218.30,375.42 L218.79,375.76 L219.27,376.10 L219.74,376.44 L220.22,376.79 L220.69,377.14 L221.15,377.50 L221.62,377.85 L222.07,378.22 L222.53,378.58 L222.98,378.96 L223.42,379.33 L223.86,379.71 L224.30,380.10 L224.73,380.49 L225.16,380.88 L225.58,381.28 L225.99,381.69 L226.40,382.10 L226.81,382.52 L227.21,382.94 L227.61,383.36 L228.00,383.80 L228.38,384.23 L228.76,384.68 L229.13,385.13 L229.50,385.58 L229.86,386.04 L230.22,386.51 L230.56,386.99 L230.91,387.47 L231.24,387.95 L231.57,388.45 L231.90,388.95 L232.21,389.45 L232.52,389.97 L232.83,390.49 L233.12,391.02 L233.41,391.55 L233.70,392.09 L233.97,392.64 L234.24,393.20 L234.50,393.77 L234.75,394.34 L235.00,394.92 L235.24,395.51 L235.47,396.10 L235.69,396.71 L235.91,397.32 L236.11,397.94 L236.31,398.57 L236.50,399.21" fill="none" stroke="#fdc40b" stroke-width="1.6" stroke-linejoin="round" stroke-linecap="butt" clip-path="url(#clipc)"/>
<path d="M69.90,514.00 L69.90,468.00 L69.89,468.00 L69.97,467.40 L70.05,466.80 L70.14,466.20 L70.22,465.60 L70.31,465.00 L70.40,464.40 L70.50,463.81 L70.59,463.21 L70.69,462.61 L70.79,462.02 L70.89,461.42 L70.99,460.83 L71.10,460.24 L71.21,459.64 L71.32,459.05 L71.43,458.46 L71.54,457.87 L71.66,457.28 L71.78,456.69 L71.90,456.10 L72.02,455.51 L72.14,454.92 L72.27,454.33 L72.40,453.74 L72.53,453.16 L72.66,452.57 L72.79,451.98 L72.93,451.40 L73.07,450.81 L73.20,450.23 L73.34,449.64 L73.49,449.06 L73.63,448.48 L73.78,447.89 L73.93,447.31 L74.08,446.73 L74.23,446.15 L74.38,445.57 L74.53,444.99 L74.69,444.41 L74.85,443.83 L75.01,443.25 L75.17,442.67 L75.33,442.09 L75.49,441.51 L75.66,440.94 L75.82,440.36 L75.99,439.78 L76.16,439.21 L76.33,438.63 L76.51,438.05 L76.68,437.48 L76.85,436.90 L77.03,436.33 L77.21,435.76 L77.39,435.18 L77.57,434.61 L77.75,434.04 L77.93,433.46 L78.12,432.89 L78.30,432.32 L78.49,431.75 L78.68,431.18 L78.86,430.61 L79.05,430.03 L79.24,429.46 L79.44,428.89 L79.63,428.32 L79.82,427.75 L80.02,427.19 L80.22,426.62 L80.41,426.05 L80.61,425.48 L80.81,424.91 L81.01,424.34 L81.21,423.78 L81.41,423.21 L81.61,422.64 L81.82,422.07 L82.02,421.51 L82.23,420.94 L82.43,420.37 L82.64,419.81 L82.85,419.24 L83.06,418.68 L83.26,418.11 L83.47,417.55 L83.68,416.98 L83.89,416.42 L84.11,415.85 L84.32,415.29 L84.53,414.72 L84.74,414.16 L84.96,413.59 L85.17,413.03 L85.39,412.47 L85.60,411.90 L85.82,411.34 L86.04,410.78 L86.25,410.21 L86.47,409.65 L86.69,409.09 L86.90,408.52 L87.12,407.96 L87.34,407.40 L87.56,406.84 L87.78,406.27 L88.00,405.71 L88.22,405.15 L88.44,404.59 L88.66,404.02 L88.88,403.46 L89.10,402.90 L89.32,402.34 L89.54,401.77 L89.76,401.21 L89.99,400.65 L90.21,400.09 L90.43,399.53 L90.65,398.97 L90.87,398.40 L91.09,397.84 L91.32,397.28 L91.54,396.72 L91.76,396.16 L91.98,395.60 L92.21,395.03 L92.43,394.47 L92.65,393.91 L92.87,393.35 L93.09,392.79 L93.32,392.23 L93.54,391.66 L93.76,391.10 L93.98,390.54 L94.20,389.98 L94.43,389.42 L94.65,388.85 L94.87,388.29 L95.09,387.73 L95.31,387.17 L95.53,386.61 L95.75,386.04 L95.98,385.48 L96.20,384.92 L96.42,384.36 L96.64,383.80 L96.86,383.23 L97.08,382.67 L97.30,382.11 L97.51,381.55 L97.73,380.98 L97.95,380.42 L98.17,379.86 L98.39,379.29 L98.61,378.73 L98.82,378.17 L99.04,377.60 L99.26,377.04 L99.47,376.48 L99.69,375.91 L99.90,375.35 L100.12,374.79 L100.33,374.22 L100.55,373.66 L100.76,373.09 L100.97,372.53 L101.18,371.97 L101.40,371.40 L101.61,370.84 L101.82,370.27 L102.03,369.71 L102.24,369.14 L102.45,368.57 L102.66,368.01 L102.87,367.44 L103.07,366.88 L103.28,366.31 L103.49,365.74 L103.69,365.18 L103.90,364.61 L104.10,364.04 L104.30,363.48 L104.51,362.91 L104.71,362.34 L104.91,361.77 L105.11,361.21 L105.31,360.64 L105.51,360.07 L105.71,359.50 L105.91,358.93 L106.11,358.36 L106.30,357.79 L106.50,357.22 L106.69,356.65 L106.89,356.08 L107.08,355.51 L107.27,354.94 L107.46,354.37 L107.65,353.80 L107.84,353.23 L108.03,352.66 L108.22,352.08 L108.40,351.51 L108.59,350.94 L108.77,350.37 L108.96,349.79 L109.14,349.22 L109.32,348.65 L109.50,348.07 L109.68,347.50 L109.86,346.92 L110.04,346.35 L110.22,345.77 L110.39,345.20 L110.40,345.20 L134.10,345.50 L134.10,345.51 L134.72,345.51 L135.33,345.51 L135.95,345.51 L136.57,345.51 L137.19,345.51 L137.81,345.51 L138.42,345.51 L139.04,345.51 L139.66,345.51 L140.27,345.51 L140.89,345.51 L141.50,345.51 L142.12,345.51 L142.73,345.51 L143.34,345.51 L143.96,345.51 L144.57,345.51 L145.18,345.51 L145.79,345.51 L146.39,345.51 L147.00,345.51 L147.61,345.51 L148.21,345.51 L148.82,345.54 L149.42,345.59 L150.02,345.65 L150.62,345.71 L151.22,345.78 L151.81,345.85 L152.41,345.93 L153.00,346.01 L153.59,346.10 L154.18,346.20 L154.77,346.30 L155.35,346.40 L155.94,346.52 L156.52,346.63 L157.10,346.76 L157.68,346.89 L158.25,347.02 L158.83,347.17 L159.40,347.32 L159.97,347.47 L160.53,347.63 L161.10,347.80 L161.66,347.98 L162.22,348.16 L162.78,348.35 L163.33,348.55 L163.88,348.75 L164.43,348.96 L164.97,349.18 L165.52,349.41 L166.06,349.64 L166.59,349.88 L167.13,350.13 L167.66,350.39 L168.19,350.65 L168.71,350.91 L169.24,351.19 L169.76,351.47 L170.28,351.75 L170.80,352.04 L171.32,352.33 L171.83,352.63 L172.35,352.93 L172.86,353.24 L173.37,353.55 L173.88,353.86 L174.39,354.17 L174.91,354.49 L175.41,354.81 L175.92,355.13 L176.43,355.45 L176.94,355.77 L177.45,356.09 L177.96,356.42 L178.47,356.74 L178.98,357.07 L179.49,357.39 L180.01,357.71 L180.52,358.03 L181.04,358.35 L181.55,358.67 L182.07,358.99 L182.59,359.30 L183.11,359.61 L183.63,359.92 L184.16,360.22 L184.68,360.52 L185.21,360.82 L185.74,361.11 L186.28,361.40 L186.81,361.69 L187.35,361.98 L187.88,362.26 L188.42,362.54 L188.97,362.81 L189.51,363.09 L190.05,363.36 L190.60,363.63 L191.14,363.90 L191.69,364.16 L192.24,364.42 L192.79,364.69 L193.34,364.95 L193.89,365.20 L194.44,365.46 L195.00,365.71 L195.55,365.97 L196.11,366.22 L196.66,366.47 L197.22,366.72 L197.77,366.97 L198.33,367.22 L198.88,367.47 L199.44,367.72 L200.00,367.96 L200.56,368.21 L201.11,368.46 L201.67,368.70 L202.23,368.95 L202.78,369.20 L203.34,369.44 L203.89,369.69 L204.45,369.94 L205.00,370.19 L205.56,370.44 L206.11,370.68 L206.66,370.94 L207.22,371.19 L207.77,371.44 L208.32,371.69 L208.87,371.95 L209.41,372.20 L209.96,372.46 L210.51,372.72 L211.05,372.98 L211.59,373.25 L212.14,373.51 L212.68,373.78 L213.21,374.05 L213.75,374.32 L214.29,374.59 L214.82,374.87 L215.35,375.15 L215.88,375.43 L216.41,375.72 L216.94,376.00 L217.46,376.29 L217.98,376.59 L218.50,376.89 L219.02,377.19 L219.53,377.49 L220.04,377.80 L220.55,378.11 L221.06,378.42 L221.56,378.74 L222.06,379.07 L222.56,379.39 L223.06,379.72 L223.55,380.06 L224.04,380.40 L224.53,380.75 L225.01,381.10 L225.49,381.45 L225.97,381.81 L226.44,382.17 L226.91,382.54 L227.38,382.92 L227.84,383.30 L228.30,383.68 L228.75,384.07 L229.20,384.47 L229.65,384.87 L230.10,385.28 L230.54,385.70 L230.97,386.12 L231.40,386.54 L231.83,386.97 L232.25,387.41 L232.67,387.86 L233.09,388.31 L233.49,388.77 L233.90,389.24 L234.30,389.71 L234.70,390.19 L235.09,390.68 L235.47,391.17 L235.85,391.68 L236.23,392.19 L236.60,392.70" fill="none" stroke="#33bde6" stroke-width="1.6" stroke-linejoin="round" stroke-linecap="butt" clip-path="url(#clipc)"/>
<clipPath id="clipd"><rect x="298.5" y="311.9" width="191.0" height="200.5"/></clipPath>
<path d="M313.90,514.00 L313.90,422.50 L313.89,422.30 L314.03,421.71 L314.17,421.12 L314.31,420.53 L314.46,419.95 L314.61,419.36 L314.76,418.78 L314.92,418.19 L315.07,417.61 L315.23,417.03 L315.40,416.45 L315.56,415.87 L315.73,415.29 L315.90,414.71 L316.08,414.14 L316.25,413.56 L316.43,412.99 L316.61,412.41 L316.80,411.84 L316.98,411.26 L317.17,410.69 L317.36,410.12 L317.55,409.55 L317.75,408.98 L317.94,408.41 L318.14,407.84 L318.34,407.28 L318.55,406.71 L318.75,406.14 L318.96,405.58 L319.17,405.01 L319.38,404.45 L319.59,403.89 L319.80,403.32 L320.02,402.76 L320.24,402.20 L320.45,401.64 L320.68,401.08 L320.90,400.52 L321.12,399.96 L321.35,399.40 L321.57,398.84 L321.80,398.28 L322.03,397.72 L322.26,397.16 L322.49,396.61 L322.73,396.05 L322.96,395.50 L323.20,394.94 L323.43,394.38 L323.67,393.83 L323.91,393.27 L324.15,392.72 L324.39,392.17 L324.63,391.61 L324.87,391.06 L325.11,390.51 L325.36,389.95 L325.60,389.40 L325.85,388.85 L326.09,388.30 L326.34,387.74 L326.59,387.19 L326.83,386.64 L327.08,386.09 L327.33,385.54 L327.58,384.99 L327.83,384.43 L328.08,383.88 L328.33,383.33 L328.58,382.78 L328.83,382.23 L329.08,381.68 L329.33,381.13 L329.58,380.58 L329.83,380.03 L330.08,379.48 L330.33,378.93 L330.58,378.37 L330.83,377.82 L331.08,377.27 L331.33,376.72 L331.58,376.17 L331.83,375.62 L332.08,375.07 L332.33,374.52 L332.58,373.96 L332.83,373.41 L333.07,372.86 L333.32,372.31 L333.57,371.76 L333.82,371.20 L334.06,370.65 L334.31,370.10 L334.56,369.55 L334.80,368.99 L335.05,368.44 L335.29,367.89 L335.54,367.34 L335.78,366.78 L336.03,366.23 L336.27,365.68 L336.52,365.12 L336.76,364.57 L337.01,364.02 L337.25,363.46 L337.49,362.91 L337.74,362.35 L337.98,361.80 L338.22,361.25 L338.46,360.69 L338.71,360.14 L338.95,359.58 L339.19,359.03 L339.43,358.48 L339.67,357.92 L339.92,357.37 L340.16,356.81 L340.40,356.26 L340.64,355.70 L340.88,355.15 L341.12,354.59 L341.36,354.04 L341.60,353.48 L341.84,352.93 L342.08,352.37 L342.32,351.82 L342.56,351.26 L342.79,350.71 L343.03,350.15 L343.27,349.60 L343.51,349.04 L343.75,348.48 L343.99,347.93 L344.22,347.37 L344.46,346.82 L344.70,346.26 L344.94,345.71 L345.17,345.15 L345.41,344.59 L345.65,344.04 L345.88,343.48 L346.12,342.93 L346.36,342.37 L346.59,341.81 L346.83,341.26 L347.07,340.70 L347.30,340.14 L347.54,339.59 L347.77,339.03 L348.01,338.48 L348.24,337.92 L348.48,337.36 L348.72,336.81 L348.95,336.25 L349.19,335.69 L349.42,335.14 L349.65,334.58 L349.89,334.02 L350.12,333.47 L350.36,332.91 L350.59,332.35 L350.83,331.80 L351.06,331.24 L351.29,330.68 L351.53,330.12 L351.76,329.57 L352.00,329.01 L352.23,328.45 L352.46,327.90 L352.70,327.34 L352.93,326.78 L353.16,326.23 L353.40,325.67 L353.63,325.11 L353.86,324.56 L354.10,324.00 L354.10,324.00 L378.30,323.90 L378.30,323.89 L378.87,324.13 L379.43,324.37 L379.98,324.62 L380.53,324.87 L381.07,325.14 L381.61,325.41 L382.14,325.69 L382.67,325.98 L383.20,326.27 L383.72,326.57 L384.23,326.87 L384.75,327.18 L385.26,327.50 L385.76,327.82 L386.27,328.15 L386.77,328.48 L387.26,328.82 L387.76,329.16 L388.25,329.50 L388.73,329.85 L389.22,330.20 L389.70,330.56 L390.19,330.92 L390.67,331.28 L391.14,331.64 L391.62,332.01 L392.10,332.38 L392.57,332.75 L393.04,333.12 L393.51,333.50 L393.98,333.87 L394.45,334.25 L394.92,334.63 L395.39,335.01 L395.86,335.39 L396.33,335.76 L396.80,336.14 L397.26,336.52 L397.73,336.90 L398.20,337.28 L398.67,337.65 L399.14,338.02 L399.62,338.40 L400.09,338.77 L400.56,339.14 L401.04,339.50 L401.52,339.87 L401.99,340.23 L402.48,340.59 L402.96,340.94 L403.44,341.29 L403.93,341.64 L404.42,341.98 L404.91,342.32 L405.41,342.66 L405.91,342.99 L406.41,343.31 L406.91,343.64 L407.42,343.96 L407.92,344.27 L408.43,344.58 L408.95,344.89 L409.46,345.20 L409.98,345.50 L410.50,345.80 L411.02,346.09 L411.54,346.38 L412.06,346.67 L412.59,346.96 L413.12,347.24 L413.65,347.52 L414.18,347.80 L414.71,348.08 L415.25,348.35 L415.79,348.62 L416.32,348.89 L416.86,349.16 L417.40,349.42 L417.95,349.68 L418.49,349.94 L419.04,350.20 L419.58,350.46 L420.13,350.71 L420.68,350.97 L421.23,351.22 L421.78,351.47 L422.33,351.72 L422.88,351.97 L423.43,352.22 L423.99,352.47 L424.54,352.71 L425.09,352.96 L425.65,353.20 L426.21,353.45 L426.76,353.69 L427.32,353.93 L427.88,354.18 L428.43,354.42 L428.99,354.66 L429.55,354.91 L430.11,355.15 L430.67,355.39 L431.22,355.64 L431.78,355.88 L432.34,356.12 L432.90,356.37 L433.46,356.61 L434.01,356.86 L434.57,357.11 L435.12,357.36 L435.68,357.61 L436.23,357.86 L436.79,358.11 L437.34,358.37 L437.89,358.63 L438.43,358.88 L438.98,359.15 L439.52,359.41 L440.07,359.68 L440.61,359.95 L441.15,360.22 L441.68,360.49 L442.21,360.77 L442.75,361.06 L443.27,361.34 L443.80,361.63 L444.32,361.92 L444.84,362.22 L445.35,362.52 L445.87,362.83 L446.37,363.13 L446.88,363.45 L447.38,363.77 L447.88,364.09 L448.37,364.42 L448.86,364.75 L449.34,365.09 L449.82,365.43 L450.30,365.78 L450.77,366.14 L451.23,366.50 L451.69,366.87 L452.15,367.24 L452.60,367.62 L453.04,368.01 L453.48,368.40 L453.92,368.79 L454.35,369.20 L454.77,369.61 L455.19,370.02 L455.61,370.44 L456.02,370.86 L456.42,371.29 L456.82,371.73 L457.22,372.17 L457.61,372.61 L458.00,373.06 L458.38,373.52 L458.75,373.98 L459.13,374.44 L459.49,374.91 L459.86,375.38 L460.21,375.86 L460.57,376.34 L460.92,376.82 L461.26,377.31 L461.60,377.80 L461.94,378.30 L462.27,378.80 L462.60,379.30 L462.92,379.81 L463.24,380.32 L463.56,380.83 L463.87,381.34 L464.18,381.86 L464.48,382.39 L464.78,382.91 L465.07,383.44 L465.36,383.97 L465.65,384.50 L465.93,385.04 L466.21,385.58 L466.49,386.12 L466.76,386.66 L467.03,387.20 L467.29,387.75 L467.56,388.30 L467.81,388.85 L468.07,389.41 L468.32,389.97 L468.57,390.52 L468.81,391.08 L469.05,391.65 L469.29,392.21 L469.53,392.78 L469.76,393.34 L469.99,393.91 L470.22,394.48 L470.44,395.05 L470.66,395.63 L470.88,396.20 L471.09,396.78 L471.31,397.36 L471.52,397.94 L471.72,398.52 L471.93,399.10 L472.13,399.68 L472.33,400.26 L472.53,400.85 L472.73,401.43 L472.92,402.02 L473.11,402.60 L473.30,403.19 L473.49,403.78 L473.67,404.37 L473.86,404.95 L474.04,405.54 L474.22,406.13 L474.39,406.72 L474.57,407.31 L474.75,407.90 L474.92,408.49 L475.09,409.08 L475.26,409.67 L475.43,410.26 L475.59,410.85 L475.76,411.44 L475.92,412.03 L476.09,412.62 L476.25,413.21 L476.41,413.80 L476.57,414.39 L476.73,414.97 L476.88,415.56 L477.04,416.15 L477.20,416.73 L477.35,417.32 L477.50,417.90 L477.66,418.48 L477.81,419.06 L477.96,419.64 L478.11,420.22 L478.26,420.80 L478.41,421.38 L478.57,421.95 L478.71,422.53 L478.86,423.10 L479.01,423.67 L479.16,424.24 L479.31,424.81 L479.46,425.38 L479.61,425.94 L479.76,426.51 L479.91,427.07 L480.06,427.63 L480.20,428.19 L480.35,428.74 L480.50,429.30" fill="none" stroke="#2b4fa0" stroke-width="1.6" stroke-linejoin="round" stroke-linecap="butt" clip-path="url(#clipd)"/>
<path d="M313.90,514.00 L313.90,474.70 L313.90,474.70 L314.09,474.13 L314.29,473.55 L314.48,472.98 L314.67,472.41 L314.87,471.83 L315.06,471.26 L315.26,470.69 L315.45,470.11 L315.65,469.54 L315.85,468.97 L316.04,468.40 L316.24,467.83 L316.44,467.25 L316.64,466.68 L316.84,466.11 L317.04,465.54 L317.24,464.97 L317.45,464.40 L317.65,463.83 L317.85,463.26 L318.06,462.69 L318.26,462.12 L318.46,461.55 L318.67,460.98 L318.88,460.41 L319.08,459.84 L319.29,459.28 L319.50,458.71 L319.71,458.14 L319.92,457.57 L320.13,457.00 L320.34,456.44 L320.55,455.87 L320.76,455.30 L320.97,454.74 L321.19,454.17 L321.40,453.60 L321.61,453.04 L321.83,452.47 L322.04,451.91 L322.26,451.34 L322.48,450.78 L322.69,450.21 L322.91,449.65 L323.13,449.08 L323.35,448.52 L323.56,447.95 L323.78,447.39 L324.00,446.83 L324.22,446.26 L324.45,445.70 L324.67,445.14 L324.89,444.57 L325.11,444.01 L325.34,443.45 L325.56,442.89 L325.78,442.32 L326.01,441.76 L326.23,441.20 L326.46,440.64 L326.69,440.08 L326.91,439.52 L327.14,438.96 L327.37,438.40 L327.60,437.84 L327.83,437.27 L328.05,436.72 L328.28,436.16 L328.52,435.60 L328.75,435.04 L328.98,434.48 L329.21,433.92 L329.44,433.36 L329.67,432.80 L329.91,432.24 L330.14,431.68 L330.38,431.13 L330.61,430.57 L330.85,430.01 L331.08,429.45 L331.32,428.90 L331.55,428.34 L331.79,427.78 L332.03,427.23 L332.27,426.67 L332.50,426.11 L332.74,425.56 L332.98,425.00 L333.22,424.45 L333.46,423.89 L333.70,423.34 L333.94,422.78 L334.18,422.23 L334.42,421.67 L334.67,421.12 L334.91,420.56 L335.15,420.01 L335.39,419.45 L335.63,418.90 L335.87,418.34 L336.11,417.79 L336.36,417.23 L336.60,416.68 L336.84,416.12 L337.08,415.57 L337.32,415.01 L337.56,414.46 L337.80,413.90 L338.04,413.35 L338.28,412.79 L338.52,412.24 L338.76,411.68 L339.00,411.13 L339.24,410.57 L339.48,410.02 L339.72,409.46 L339.95,408.90 L340.19,408.35 L340.43,407.79 L340.66,407.23 L340.90,406.68 L341.13,406.12 L341.37,405.56 L341.60,405.01 L341.84,404.45 L342.07,403.89 L342.31,403.33 L342.54,402.78 L342.78,402.22 L343.01,401.66 L343.25,401.10 L343.48,400.55 L343.71,399.99 L343.95,399.43 L344.18,398.87 L344.42,398.32 L344.65,397.76 L344.88,397.20 L345.12,396.64 L345.35,396.09 L345.59,395.53 L345.82,394.97 L346.06,394.42 L346.30,393.86 L346.53,393.30 L346.77,392.75 L347.01,392.19 L347.25,391.63 L347.48,391.08 L347.72,390.52 L347.96,389.97 L348.21,389.41 L348.45,388.86 L348.69,388.31 L348.94,387.75 L349.18,387.20 L349.43,386.65 L349.67,386.10 L349.92,385.54 L350.17,384.99 L350.42,384.44 L350.68,383.89 L350.93,383.34 L351.18,382.79 L351.44,382.25 L351.70,381.70 L351.96,381.15 L352.22,380.60 L352.48,380.06 L352.75,379.51 L353.01,378.97 L353.28,378.43 L353.55,377.88 L353.83,377.34 L354.10,376.80 L354.10,376.80 L378.30,376.70 L378.30,376.70 L378.94,376.70 L379.59,376.71 L380.22,376.73 L380.85,376.76 L381.48,376.81 L382.10,376.86 L382.72,376.92 L383.33,377.00 L383.94,377.08 L384.55,377.17 L385.15,377.27 L385.75,377.38 L386.34,377.50 L386.93,377.63 L387.52,377.76 L388.10,377.91 L388.68,378.06 L389.26,378.22 L389.83,378.39 L390.40,378.56 L390.97,378.75 L391.54,378.94 L392.10,379.13 L392.65,379.34 L393.21,379.54 L393.76,379.76 L394.31,379.98 L394.86,380.21 L395.41,380.45 L395.95,380.69 L396.49,380.93 L397.03,381.18 L397.57,381.44 L398.10,381.70 L398.63,381.96 L399.16,382.23 L399.69,382.50 L400.22,382.78 L400.75,383.06 L401.27,383.35 L401.79,383.63 L402.32,383.92 L402.84,384.22 L403.36,384.52 L403.87,384.82 L404.39,385.12 L404.91,385.42 L405.42,385.73 L405.94,386.04 L406.45,386.35 L406.97,386.66 L407.48,386.98 L407.99,387.29 L408.51,387.61 L409.02,387.92 L409.53,388.24 L410.05,388.56 L410.56,388.88 L411.07,389.20 L411.58,389.51 L412.10,389.83 L412.61,390.15 L413.13,390.46 L413.64,390.78 L414.16,391.09 L414.67,391.40 L415.19,391.72 L415.71,392.03 L416.22,392.33 L416.74,392.64 L417.26,392.95 L417.78,393.25 L418.31,393.55 L418.83,393.86 L419.35,394.16 L419.88,394.46 L420.40,394.75 L420.93,395.05 L421.45,395.34 L421.98,395.64 L422.51,395.93 L423.04,396.22 L423.57,396.50 L424.10,396.79 L424.63,397.08 L425.17,397.36 L425.70,397.64 L426.24,397.92 L426.77,398.20 L427.31,398.47 L427.85,398.75 L428.39,399.02 L428.93,399.29 L429.47,399.56 L430.01,399.83 L430.56,400.10 L431.10,400.36 L431.65,400.62 L432.19,400.88 L432.74,401.14 L433.29,401.40 L433.84,401.66 L434.39,401.91 L434.94,402.16 L435.50,402.41 L436.05,402.66 L436.61,402.90 L437.17,403.14 L437.72,403.39 L438.28,403.62 L438.84,403.86 L439.41,404.10 L439.97,404.33 L440.53,404.57 L441.10,404.80 L441.66,405.03 L442.22,405.26 L442.79,405.49 L443.36,405.72 L443.92,405.95 L444.49,406.17 L445.05,406.40 L445.62,406.63 L446.18,406.86 L446.75,407.08 L447.32,407.31 L447.88,407.54 L448.44,407.77 L449.01,408.00 L449.57,408.23 L450.13,408.46 L450.70,408.69 L451.26,408.93 L451.82,409.16 L452.37,409.40 L452.93,409.64 L453.49,409.88 L454.04,410.12 L454.59,410.36 L455.15,410.61 L455.70,410.85 L456.24,411.10 L456.79,411.36 L457.33,411.61 L457.88,411.87 L458.42,412.13 L458.96,412.39 L459.49,412.66 L460.03,412.93 L460.56,413.21 L461.09,413.48 L461.61,413.76 L462.13,414.05 L462.65,414.34 L463.17,414.63 L463.69,414.93 L464.20,415.23 L464.71,415.54 L465.21,415.85 L465.71,416.16 L466.21,416.48 L466.71,416.81 L467.20,417.14 L467.69,417.47 L468.17,417.81 L468.65,418.16 L469.13,418.51 L469.60,418.87 L470.07,419.23 L470.53,419.60 L470.99,419.98 L471.45,420.36 L471.90,420.75 L472.34,421.15 L472.78,421.55 L473.22,421.96 L473.65,422.37 L474.08,422.80 L474.50,423.23 L474.92,423.67 L475.33,424.11 L475.74,424.56 L476.14,425.02 L476.53,425.49 L476.92,425.97 L477.31,426.45 L477.69,426.95 L478.06,427.45 L478.43,427.96 L478.79,428.48 L479.14,429.00 L479.49,429.54 L479.83,430.09 L480.17,430.64 L480.50,431.20" fill="none" stroke="#5ab946" stroke-width="1.6" stroke-linejoin="round" stroke-linecap="butt" clip-path="url(#clipd)"/>
<path d="M313.90,514.00 L313.90,502.20 L313.90,502.20 L314.13,501.64 L314.37,501.08 L314.60,500.52 L314.83,499.96 L315.06,499.40 L315.29,498.84 L315.52,498.28 L315.75,497.72 L315.98,497.16 L316.20,496.59 L316.43,496.03 L316.65,495.47 L316.88,494.90 L317.10,494.34 L317.32,493.78 L317.54,493.21 L317.76,492.65 L317.98,492.08 L318.20,491.52 L318.42,490.95 L318.64,490.38 L318.85,489.82 L319.07,489.25 L319.29,488.69 L319.50,488.12 L319.72,487.55 L319.93,486.98 L320.14,486.41 L320.36,485.85 L320.57,485.28 L320.78,484.71 L320.99,484.14 L321.20,483.57 L321.41,483.00 L321.62,482.43 L321.83,481.86 L322.04,481.29 L322.25,480.72 L322.46,480.15 L322.66,479.58 L322.87,479.01 L323.08,478.44 L323.29,477.87 L323.49,477.30 L323.70,476.73 L323.90,476.16 L324.11,475.59 L324.31,475.02 L324.52,474.44 L324.72,473.87 L324.93,473.30 L325.13,472.73 L325.34,472.16 L325.54,471.58 L325.75,471.01 L325.95,470.44 L326.15,469.87 L326.36,469.30 L326.56,468.72 L326.76,468.15 L326.97,467.58 L327.17,467.01 L327.38,466.44 L327.58,465.86 L327.78,465.29 L327.99,464.72 L328.19,464.15 L328.39,463.58 L328.60,463.00 L328.80,462.43 L329.01,461.86 L329.21,461.29 L329.41,460.72 L329.62,460.15 L329.82,459.57 L330.03,459.00 L330.23,458.43 L330.44,457.86 L330.65,457.29 L330.85,456.72 L331.06,456.15 L331.27,455.58 L331.47,455.01 L331.68,454.44 L331.89,453.87 L332.10,453.30 L332.30,452.73 L332.51,452.16 L332.72,451.59 L332.93,451.02 L333.14,450.45 L333.35,449.88 L333.56,449.31 L333.78,448.74 L333.99,448.17 L334.20,447.61 L334.41,447.04 L334.63,446.47 L334.84,445.90 L335.06,445.34 L335.27,444.77 L335.49,444.20 L335.71,443.64 L335.92,443.07 L336.14,442.51 L336.36,441.94 L336.58,441.38 L336.80,440.81 L337.02,440.25 L337.24,439.68 L337.47,439.12 L337.69,438.56 L337.91,437.99 L338.14,437.43 L338.37,436.87 L338.59,436.31 L338.82,435.75 L339.05,435.18 L339.28,434.62 L339.51,434.06 L339.74,433.50 L339.97,432.94 L340.21,432.39 L340.44,431.83 L340.68,431.27 L340.91,430.71 L341.15,430.16 L341.39,429.60 L341.63,429.04 L341.87,428.49 L342.11,427.93 L342.35,427.38 L342.60,426.82 L342.84,426.27 L343.09,425.72 L343.34,425.16 L343.59,424.61 L343.84,424.06 L344.09,423.51 L344.34,422.96 L344.59,422.41 L344.85,421.86 L345.11,421.31 L345.36,420.76 L345.62,420.22 L345.88,419.67 L346.15,419.12 L346.41,418.58 L346.67,418.03 L346.94,417.49 L347.21,416.94 L347.48,416.40 L347.75,415.86 L348.02,415.32 L348.29,414.77 L348.57,414.23 L348.84,413.69 L349.12,413.15 L349.40,412.62 L349.68,412.08 L349.96,411.54 L350.25,411.01 L350.54,410.47 L350.82,409.93 L351.11,409.40 L351.40,408.87 L351.70,408.33 L351.99,407.80 L352.29,407.27 L352.58,406.74 L352.88,406.21 L353.19,405.68 L353.49,405.15 L353.79,404.63 L354.10,404.10 L354.10,404.10 L378.30,404.10 L378.30,404.10 L378.94,404.10 L379.59,404.10 L380.22,404.10 L380.86,404.10 L381.49,404.10 L382.12,404.10 L382.75,404.10 L383.38,404.10 L384.00,404.10 L384.62,404.10 L385.23,404.10 L385.85,404.10 L386.46,404.10 L387.07,404.11 L387.67,404.17 L388.27,404.23 L388.88,404.31 L389.47,404.39 L390.07,404.47 L390.66,404.57 L391.25,404.67 L391.84,404.78 L392.43,404.89 L393.01,405.01 L393.60,405.14 L394.18,405.27 L394.75,405.41 L395.33,405.55 L395.90,405.70 L396.48,405.86 L397.05,406.02 L397.61,406.19 L398.18,406.36 L398.74,406.54 L399.31,406.72 L399.87,406.91 L400.43,407.10 L400.99,407.30 L401.54,407.50 L402.10,407.71 L402.65,407.92 L403.20,408.13 L403.75,408.35 L404.30,408.58 L404.85,408.81 L405.39,409.04 L405.94,409.27 L406.48,409.51 L407.02,409.76 L407.57,410.00 L408.11,410.25 L408.65,410.51 L409.18,410.76 L409.72,411.02 L410.26,411.29 L410.79,411.55 L411.33,411.82 L411.86,412.09 L412.39,412.36 L412.92,412.64 L413.46,412.92 L413.99,413.20 L414.52,413.48 L415.05,413.76 L415.58,414.05 L416.10,414.34 L416.63,414.63 L417.16,414.92 L417.69,415.21 L418.21,415.50 L418.74,415.80 L419.27,416.10 L419.79,416.39 L420.32,416.69 L420.85,416.99 L421.37,417.29 L421.90,417.59 L422.42,417.89 L422.95,418.19 L423.47,418.49 L424.00,418.79 L424.53,419.09 L425.05,419.39 L425.58,419.69 L426.11,419.99 L426.63,420.29 L427.16,420.59 L427.69,420.89 L428.22,421.19 L428.75,421.48 L429.28,421.78 L429.81,422.07 L430.34,422.37 L430.87,422.66 L431.40,422.95 L431.93,423.24 L432.47,423.53 L433.00,423.81 L433.54,424.09 L434.07,424.38 L434.61,424.66 L435.15,424.93 L435.69,425.21 L436.23,425.48 L436.77,425.75 L437.31,426.02 L437.85,426.28 L438.40,426.54 L438.94,426.80 L439.49,427.06 L440.04,427.31 L440.59,427.56 L441.14,427.81 L441.69,428.05 L442.25,428.29 L442.80,428.53 L443.36,428.76 L443.92,428.99 L444.47,429.22 L445.03,429.44 L445.59,429.67 L446.16,429.89 L446.72,430.11 L447.28,430.32 L447.84,430.54 L448.41,430.75 L448.97,430.97 L449.54,431.18 L450.10,431.39 L450.67,431.60 L451.24,431.80 L451.80,432.01 L452.37,432.22 L452.94,432.42 L453.50,432.63 L454.07,432.84 L454.64,433.04 L455.20,433.25 L455.77,433.45 L456.34,433.66 L456.90,433.87 L457.47,434.07 L458.03,434.28 L458.60,434.49 L459.16,434.70 L459.72,434.91 L460.29,435.12 L460.85,435.34 L461.41,435.55 L461.97,435.77 L462.53,435.99 L463.09,436.21 L463.64,436.44 L464.20,436.66 L464.75,436.89 L465.31,437.12 L465.86,437.36 L466.41,437.59 L466.96,437.83 L467.50,438.08 L468.05,438.32 L468.59,438.57 L469.14,438.82 L469.68,439.08 L470.22,439.34 L470.75,439.61 L471.29,439.88 L471.82,440.15 L472.35,440.43 L472.88,440.71 L473.41,441.00 L473.93,441.29 L474.45,441.59 L474.97,441.89 L475.49,442.20 L476.00,442.51 L476.51,442.83 L477.02,443.15 L477.53,443.48 L478.03,443.82 L478.53,444.16 L479.03,444.51 L479.53,444.86 L480.02,445.22 L480.50,445.59" fill="none" stroke="#e8000f" stroke-width="1.6" stroke-linejoin="round" stroke-linecap="butt" clip-path="url(#clipd)"/>
<path d="M313.90,514.00 L313.90,422.50 L313.89,422.30 L314.03,421.71 L314.17,421.12 L314.31,420.53 L314.46,419.94 L314.61,419.36 L314.76,418.77 L314.92,418.19 L315.08,417.61 L315.24,417.02 L315.40,416.44 L315.57,415.86 L315.74,415.28 L315.91,414.71 L316.08,414.13 L316.26,413.55 L316.44,412.98 L316.62,412.40 L316.80,411.83 L316.99,411.25 L317.18,410.68 L317.37,410.11 L317.56,409.54 L317.76,408.97 L317.96,408.40 L318.15,407.83 L318.36,407.26 L318.56,406.70 L318.76,406.13 L318.97,405.56 L319.18,405.00 L319.39,404.43 L319.60,403.87 L319.82,403.30 L320.03,402.74 L320.25,402.18 L320.47,401.62 L320.69,401.06 L320.91,400.49 L321.14,399.93 L321.36,399.37 L321.59,398.81 L321.82,398.26 L322.05,397.70 L322.28,397.14 L322.51,396.58 L322.74,396.02 L322.97,395.47 L323.21,394.91 L323.45,394.35 L323.68,393.80 L323.92,393.24 L324.16,392.69 L324.40,392.13 L324.64,391.58 L324.88,391.02 L325.13,390.47 L325.37,389.92 L325.61,389.36 L325.86,388.81 L326.10,388.25 L326.35,387.70 L326.59,387.15 L326.84,386.60 L327.09,386.04 L327.33,385.49 L327.58,384.94 L327.83,384.39 L328.08,383.83 L328.33,383.28 L328.57,382.73 L328.82,382.18 L329.07,381.62 L329.32,381.07 L329.57,380.52 L329.82,379.97 L330.07,379.41 L330.31,378.86 L330.56,378.31 L330.81,377.76 L331.06,377.20 L331.31,376.65 L331.55,376.10 L331.80,375.55 L332.05,374.99 L332.29,374.44 L332.54,373.89 L332.78,373.33 L333.03,372.78 L333.27,372.22 L333.52,371.67 L333.76,371.11 L334.00,370.56 L334.25,370.01 L334.49,369.45 L334.73,368.90 L334.97,368.34 L335.22,367.79 L335.46,367.23 L335.70,366.67 L335.94,366.12 L336.18,365.56 L336.42,365.01 L336.66,364.45 L336.89,363.89 L337.13,363.34 L337.37,362.78 L337.61,362.22 L337.85,361.67 L338.08,361.11 L338.32,360.55 L338.56,360.00 L338.79,359.44 L339.03,358.88 L339.26,358.32 L339.50,357.76 L339.73,357.21 L339.96,356.65 L340.20,356.09 L340.43,355.53 L340.66,354.97 L340.89,354.41 L341.13,353.85 L341.36,353.29 L341.59,352.73 L341.82,352.18 L342.05,351.62 L342.28,351.06 L342.51,350.50 L342.74,349.94 L342.97,349.38 L343.20,348.81 L343.42,348.25 L343.65,347.69 L343.88,347.13 L344.10,346.57 L344.33,346.01 L344.56,345.45 L344.78,344.89 L345.01,344.33 L345.23,343.76 L345.46,343.20 L345.68,342.64 L345.90,342.08 L346.13,341.51 L346.35,340.95 L346.57,340.39 L346.79,339.83 L347.01,339.26 L347.24,338.70 L347.46,338.14 L347.68,337.57 L347.90,337.01 L348.12,336.45 L348.34,335.88 L348.55,335.32 L348.77,334.75 L348.99,334.19 L349.21,333.62 L349.42,333.06 L349.64,332.50 L349.86,331.93 L350.07,331.37 L350.29,330.80 L350.50,330.23 L350.72,329.67 L350.93,329.10 L351.15,328.54 L351.36,327.97 L351.57,327.41 L351.79,326.84 L352.00,326.27 L352.21,325.71 L352.42,325.14 L352.63,324.57 L352.84,324.00 L353.05,323.44 L353.26,322.87 L353.47,322.30 L353.68,321.73 L353.89,321.17 L354.10,320.60 L354.10,320.60 L378.30,320.50 L378.30,320.49 L378.87,320.72 L379.44,320.96 L379.99,321.21 L380.54,321.47 L381.08,321.74 L381.62,322.01 L382.15,322.30 L382.68,322.59 L383.20,322.89 L383.71,323.20 L384.22,323.52 L384.73,323.84 L385.23,324.17 L385.72,324.51 L386.21,324.85 L386.70,325.20 L387.18,325.56 L387.66,325.92 L388.13,326.29 L388.61,326.66 L389.07,327.03 L389.54,327.41 L390.00,327.80 L390.46,328.18 L390.92,328.57 L391.37,328.97 L391.83,329.37 L392.28,329.77 L392.73,330.17 L393.17,330.57 L393.62,330.98 L394.06,331.39 L394.51,331.80 L394.95,332.21 L395.39,332.62 L395.84,333.03 L396.28,333.44 L396.72,333.86 L397.16,334.27 L397.60,334.68 L398.05,335.09 L398.49,335.50 L398.94,335.91 L399.38,336.31 L399.83,336.72 L400.28,337.12 L400.73,337.52 L401.18,337.91 L401.63,338.31 L402.09,338.70 L402.55,339.08 L403.01,339.46 L403.47,339.84 L403.94,340.22 L404.41,340.59 L404.88,340.95 L405.36,341.31 L405.84,341.66 L406.32,342.01 L406.81,342.35 L407.30,342.69 L407.79,343.03 L408.29,343.36 L408.79,343.69 L409.29,344.01 L409.79,344.33 L410.30,344.64 L410.81,344.95 L411.32,345.26 L411.84,345.56 L412.35,345.86 L412.87,346.15 L413.39,346.45 L413.92,346.74 L414.44,347.02 L414.97,347.30 L415.50,347.58 L416.04,347.86 L416.57,348.14 L417.11,348.41 L417.64,348.68 L418.18,348.95 L418.72,349.21 L419.27,349.47 L419.81,349.73 L420.36,349.99 L420.90,350.25 L421.45,350.51 L422.00,350.76 L422.55,351.01 L423.10,351.26 L423.66,351.51 L424.21,351.76 L424.77,352.01 L425.32,352.25 L425.88,352.50 L426.43,352.74 L426.99,352.99 L427.55,353.23 L428.11,353.47 L428.67,353.72 L429.23,353.96 L429.79,354.20 L430.35,354.45 L430.91,354.69 L431.47,354.93 L432.03,355.17 L432.59,355.42 L433.15,355.66 L433.71,355.91 L434.27,356.15 L434.82,356.40 L435.38,356.65 L435.94,356.90 L436.49,357.15 L437.05,357.40 L437.60,357.66 L438.15,357.92 L438.70,358.18 L439.25,358.44 L439.79,358.70 L440.34,358.97 L440.88,359.24 L441.42,359.51 L441.95,359.79 L442.49,360.07 L443.02,360.35 L443.55,360.64 L444.07,360.93 L444.60,361.22 L445.11,361.52 L445.63,361.82 L446.14,362.13 L446.65,362.44 L447.15,362.76 L447.65,363.08 L448.15,363.40 L448.64,363.73 L449.13,364.07 L449.61,364.41 L450.09,364.76 L450.57,365.11 L451.03,365.47 L451.50,365.84 L451.96,366.21 L452.41,366.58 L452.86,366.97 L453.30,367.36 L453.74,367.75 L454.17,368.16 L454.60,368.56 L455.02,368.98 L455.44,369.40 L455.85,369.82 L456.25,370.25 L456.66,370.68 L457.05,371.12 L457.45,371.57 L457.83,372.02 L458.22,372.47 L458.59,372.93 L458.97,373.40 L459.34,373.86 L459.70,374.34 L460.06,374.81 L460.42,375.29 L460.77,375.78 L461.11,376.27 L461.45,376.76 L461.79,377.26 L462.12,377.76 L462.45,378.26 L462.78,378.77 L463.10,379.28 L463.41,379.79 L463.73,380.31 L464.03,380.83 L464.34,381.35 L464.64,381.88 L464.93,382.40 L465.22,382.93 L465.51,383.47 L465.80,384.00 L466.08,384.54 L466.35,385.08 L466.63,385.63 L466.89,386.17 L467.16,386.72 L467.42,387.27 L467.68,387.82 L467.94,388.38 L468.19,388.93 L468.44,389.49 L468.68,390.05 L468.93,390.61 L469.16,391.18 L469.40,391.74 L469.63,392.31 L469.86,392.88 L470.09,393.45 L470.32,394.02 L470.54,394.59 L470.76,395.17 L470.97,395.74 L471.19,396.32 L471.40,396.90 L471.60,397.48 L471.81,398.06 L472.01,398.64 L472.21,399.22 L472.41,399.81 L472.61,400.39 L472.80,400.98 L472.99,401.56 L473.18,402.15 L473.37,402.74 L473.56,403.33 L473.74,403.92 L473.92,404.50 L474.10,405.09 L474.28,405.68 L474.46,406.27 L474.63,406.86 L474.80,407.45 L474.97,408.05 L475.14,408.64 L475.31,409.23 L475.48,409.82 L475.64,410.41 L475.81,411.00 L475.97,411.59 L476.13,412.18 L476.29,412.77 L476.45,413.36 L476.61,413.95 L476.77,414.53 L476.92,415.12 L477.08,415.71 L477.23,416.29 L477.38,416.88 L477.54,417.46 L477.69,418.05 L477.84,418.63 L477.99,419.21 L478.14,419.79 L478.29,420.37 L478.44,420.95 L478.59,421.53 L478.73,422.10 L478.88,422.68 L479.03,423.25 L479.18,423.82 L479.32,424.39 L479.47,424.96 L479.62,425.53 L479.77,426.10 L479.91,426.66 L480.06,427.22 L480.21,427.78 L480.36,428.34 L480.50,428.90" fill="none" stroke="#6f4097" stroke-width="1.6" stroke-linejoin="round" stroke-linecap="butt" clip-path="url(#clipd)"/>
<path d="M313.90,514.00 L313.90,474.70 L313.90,474.70 L314.09,474.13 L314.28,473.55 L314.48,472.98 L314.67,472.40 L314.86,471.83 L315.06,471.25 L315.25,470.68 L315.45,470.11 L315.64,469.53 L315.84,468.96 L316.04,468.39 L316.23,467.82 L316.43,467.24 L316.63,466.67 L316.83,466.10 L317.03,465.53 L317.24,464.96 L317.44,464.39 L317.64,463.82 L317.84,463.25 L318.05,462.68 L318.25,462.11 L318.46,461.54 L318.67,460.97 L318.87,460.40 L319.08,459.83 L319.29,459.26 L319.50,458.69 L319.71,458.12 L319.92,457.55 L320.13,456.99 L320.34,456.42 L320.55,455.85 L320.76,455.28 L320.98,454.72 L321.19,454.15 L321.40,453.58 L321.62,453.02 L321.83,452.45 L322.05,451.89 L322.26,451.32 L322.48,450.75 L322.70,450.19 L322.92,449.62 L323.14,449.06 L323.35,448.49 L323.57,447.93 L323.79,447.37 L324.01,446.80 L324.24,446.24 L324.46,445.67 L324.68,445.11 L324.90,444.55 L325.12,443.98 L325.35,443.42 L325.57,442.86 L325.80,442.29 L326.02,441.73 L326.24,441.17 L326.47,440.61 L326.70,440.05 L326.92,439.48 L327.15,438.92 L327.38,438.36 L327.60,437.80 L327.83,437.24 L328.06,436.68 L328.29,436.12 L328.52,435.56 L328.75,435.00 L328.98,434.44 L329.21,433.88 L329.44,433.32 L329.67,432.76 L329.90,432.20 L330.14,431.64 L330.37,431.08 L330.60,430.52 L330.83,429.96 L331.07,429.40 L331.30,428.84 L331.53,428.28 L331.77,427.72 L332.00,427.17 L332.24,426.61 L332.47,426.05 L332.71,425.49 L332.94,424.93 L333.18,424.38 L333.41,423.82 L333.65,423.26 L333.89,422.70 L334.12,422.15 L334.36,421.59 L334.60,421.03 L334.83,420.47 L335.07,419.92 L335.31,419.36 L335.54,418.80 L335.78,418.24 L336.02,417.69 L336.25,417.13 L336.49,416.57 L336.72,416.01 L336.96,415.46 L337.19,414.90 L337.43,414.34 L337.66,413.78 L337.90,413.22 L338.13,412.67 L338.37,412.11 L338.60,411.55 L338.83,410.99 L339.07,410.43 L339.30,409.87 L339.53,409.31 L339.76,408.75 L339.99,408.19 L340.22,407.63 L340.45,407.07 L340.68,406.51 L340.91,405.95 L341.13,405.39 L341.36,404.83 L341.59,404.27 L341.81,403.71 L342.04,403.15 L342.27,402.59 L342.49,402.02 L342.72,401.46 L342.94,400.90 L343.17,400.34 L343.39,399.78 L343.61,399.21 L343.84,398.65 L344.06,398.09 L344.28,397.53 L344.51,396.96 L344.73,396.40 L344.95,395.84 L345.17,395.27 L345.40,394.71 L345.62,394.15 L345.84,393.59 L346.06,393.02 L346.29,392.46 L346.51,391.90 L346.73,391.33 L346.95,390.77 L347.18,390.21 L347.40,389.64 L347.62,389.08 L347.84,388.52 L348.07,387.96 L348.29,387.39 L348.52,386.83 L348.74,386.27 L348.97,385.71 L349.19,385.14 L349.42,384.58 L349.64,384.02 L349.87,383.46 L350.10,382.90 L350.33,382.34 L350.56,381.78 L350.79,381.21 L351.02,380.65 L351.25,380.09 L351.48,379.53 L351.71,378.98 L351.95,378.42 L352.18,377.86 L352.42,377.30 L352.66,376.74 L352.89,376.18 L353.13,375.63 L353.37,375.07 L353.61,374.51 L353.86,373.96 L354.10,373.40 L354.10,373.40 L378.30,373.20 L378.30,373.19 L378.94,373.21 L379.57,373.24 L380.20,373.28 L380.83,373.33 L381.45,373.39 L382.07,373.46 L382.68,373.53 L383.29,373.62 L383.89,373.71 L384.49,373.81 L385.09,373.92 L385.69,374.04 L386.28,374.16 L386.86,374.29 L387.45,374.43 L388.03,374.58 L388.60,374.74 L389.18,374.90 L389.75,375.07 L390.31,375.25 L390.88,375.43 L391.44,375.62 L392.00,375.82 L392.55,376.02 L393.10,376.23 L393.65,376.44 L394.20,376.67 L394.75,376.89 L395.29,377.13 L395.83,377.37 L396.36,377.61 L396.90,377.86 L397.43,378.11 L397.96,378.37 L398.49,378.64 L399.02,378.91 L399.54,379.18 L400.06,379.46 L400.58,379.74 L401.10,380.03 L401.62,380.32 L402.14,380.61 L402.65,380.91 L403.16,381.21 L403.67,381.52 L404.18,381.83 L404.69,382.14 L405.20,382.46 L405.70,382.77 L406.21,383.10 L406.71,383.42 L407.22,383.75 L407.72,384.07 L408.22,384.41 L408.72,384.74 L409.22,385.07 L409.72,385.41 L410.22,385.75 L410.72,386.09 L411.21,386.43 L411.71,386.77 L412.21,387.12 L412.71,387.46 L413.20,387.81 L413.70,388.15 L414.20,388.50 L414.70,388.85 L415.19,389.19 L415.69,389.54 L416.19,389.89 L416.69,390.24 L417.18,390.59 L417.68,390.93 L418.18,391.28 L418.68,391.63 L419.18,391.97 L419.69,392.31 L420.19,392.66 L420.69,393.00 L421.20,393.34 L421.70,393.68 L422.21,394.02 L422.72,394.35 L423.23,394.69 L423.74,395.02 L424.25,395.35 L424.76,395.67 L425.28,396.00 L425.79,396.32 L426.31,396.64 L426.83,396.96 L427.35,397.27 L427.88,397.58 L428.40,397.89 L428.93,398.19 L429.46,398.49 L429.99,398.78 L430.52,399.08 L431.06,399.37 L431.60,399.65 L432.14,399.93 L432.68,400.21 L433.22,400.49 L433.77,400.76 L434.32,401.03 L434.86,401.29 L435.41,401.56 L435.97,401.82 L436.52,402.07 L437.07,402.33 L437.63,402.59 L438.18,402.84 L438.74,403.09 L439.30,403.34 L439.86,403.58 L440.42,403.83 L440.98,404.07 L441.54,404.31 L442.10,404.56 L442.66,404.80 L443.22,405.04 L443.78,405.27 L444.34,405.51 L444.90,405.75 L445.46,405.99 L446.03,406.23 L446.59,406.46 L447.15,406.70 L447.71,406.94 L448.27,407.18 L448.83,407.41 L449.39,407.65 L449.94,407.89 L450.50,408.13 L451.06,408.37 L451.61,408.62 L452.17,408.86 L452.72,409.11 L453.27,409.35 L453.82,409.60 L454.37,409.85 L454.92,410.10 L455.46,410.36 L456.00,410.61 L456.55,410.87 L457.09,411.13 L457.62,411.40 L458.16,411.66 L458.70,411.93 L459.23,412.20 L459.76,412.48 L460.28,412.76 L460.81,413.04 L461.33,413.32 L461.85,413.61 L462.37,413.91 L462.88,414.20 L463.39,414.50 L463.90,414.81 L464.41,415.12 L464.91,415.43 L465.41,415.75 L465.90,416.07 L466.39,416.40 L466.88,416.73 L467.37,417.07 L467.85,417.41 L468.33,417.76 L468.80,418.11 L469.27,418.47 L469.74,418.83 L470.20,419.20 L470.66,419.58 L471.11,419.96 L471.56,420.35 L472.00,420.74 L472.44,421.14 L472.88,421.55 L473.31,421.97 L473.74,422.39 L474.16,422.82 L474.58,423.25 L474.99,423.70 L475.39,424.15 L475.79,424.60 L476.19,425.07 L476.58,425.54 L476.97,426.02 L477.35,426.51 L477.72,427.01 L478.09,427.52 L478.45,428.03 L478.81,428.55 L479.16,429.09 L479.50,429.63 L479.84,430.18 L480.18,430.73 L480.50,431.30" fill="none" stroke="#fdc40b" stroke-width="1.6" stroke-linejoin="round" stroke-linecap="butt" clip-path="url(#clipd)"/>
<path d="M313.90,514.00 L313.90,502.20 L313.90,502.20 L314.13,501.64 L314.36,501.08 L314.58,500.52 L314.81,499.96 L315.03,499.39 L315.26,498.83 L315.48,498.27 L315.71,497.71 L315.93,497.14 L316.15,496.58 L316.38,496.02 L316.60,495.45 L316.82,494.89 L317.04,494.33 L317.26,493.76 L317.48,493.20 L317.69,492.63 L317.91,492.07 L318.13,491.50 L318.35,490.94 L318.56,490.37 L318.78,489.81 L318.99,489.24 L319.21,488.67 L319.42,488.11 L319.64,487.54 L319.85,486.97 L320.07,486.41 L320.28,485.84 L320.49,485.27 L320.70,484.71 L320.91,484.14 L321.13,483.57 L321.34,483.00 L321.55,482.44 L321.76,481.87 L321.97,481.30 L322.18,480.73 L322.39,480.16 L322.60,479.59 L322.81,479.03 L323.01,478.46 L323.22,477.89 L323.43,477.32 L323.64,476.75 L323.85,476.18 L324.05,475.61 L324.26,475.04 L324.47,474.47 L324.67,473.91 L324.88,473.34 L325.09,472.77 L325.29,472.20 L325.50,471.63 L325.70,471.06 L325.91,470.49 L326.12,469.92 L326.32,469.35 L326.53,468.78 L326.73,468.21 L326.94,467.64 L327.14,467.07 L327.35,466.50 L327.55,465.93 L327.76,465.36 L327.96,464.79 L328.17,464.22 L328.37,463.65 L328.58,463.08 L328.78,462.51 L328.99,461.94 L329.19,461.37 L329.40,460.80 L329.60,460.23 L329.81,459.66 L330.01,459.09 L330.22,458.52 L330.43,457.95 L330.63,457.38 L330.84,456.81 L331.04,456.24 L331.25,455.67 L331.46,455.10 L331.66,454.53 L331.87,453.96 L332.08,453.40 L332.28,452.83 L332.49,452.26 L332.70,451.69 L332.90,451.12 L333.11,450.55 L333.32,449.98 L333.53,449.41 L333.74,448.85 L333.95,448.28 L334.16,447.71 L334.36,447.14 L334.57,446.57 L334.78,446.01 L335.00,445.44 L335.21,444.87 L335.42,444.30 L335.63,443.74 L335.84,443.17 L336.05,442.60 L336.27,442.03 L336.48,441.47 L336.69,440.90 L336.91,440.34 L337.12,439.77 L337.34,439.20 L337.55,438.64 L337.77,438.07 L337.98,437.51 L338.20,436.94 L338.42,436.38 L338.63,435.81 L338.85,435.25 L339.07,434.68 L339.29,434.12 L339.51,433.56 L339.73,432.99 L339.95,432.43 L340.17,431.87 L340.40,431.30 L340.62,430.74 L340.84,430.18 L341.07,429.62 L341.29,429.05 L341.51,428.49 L341.74,427.93 L341.97,427.37 L342.19,426.81 L342.42,426.25 L342.65,425.69 L342.88,425.13 L343.11,424.57 L343.34,424.01 L343.57,423.45 L343.81,422.89 L344.04,422.33 L344.27,421.78 L344.51,421.22 L344.74,420.66 L344.98,420.10 L345.22,419.55 L345.45,418.99 L345.69,418.43 L345.93,417.88 L346.17,417.32 L346.41,416.77 L346.65,416.21 L346.90,415.66 L347.14,415.10 L347.39,414.55 L347.63,414.00 L347.88,413.45 L348.13,412.89 L348.37,412.34 L348.62,411.79 L348.87,411.24 L349.13,410.69 L349.38,410.14 L349.63,409.59 L349.89,409.04 L350.14,408.49 L350.40,407.94 L350.66,407.39 L350.91,406.84 L351.17,406.29 L351.43,405.75 L351.70,405.20 L351.96,404.65 L352.22,404.11 L352.49,403.56 L352.75,403.02 L353.02,402.47 L353.29,401.93 L353.56,401.39 L353.83,400.84 L354.10,400.30 L354.10,400.30 L378.30,400.40 L378.30,400.40 L378.95,400.40 L379.59,400.40 L380.23,400.40 L380.87,400.40 L381.51,400.40 L382.14,400.40 L382.77,400.40 L383.40,400.40 L384.02,400.40 L384.64,400.40 L385.26,400.43 L385.87,400.48 L386.49,400.54 L387.10,400.60 L387.70,400.67 L388.30,400.75 L388.91,400.84 L389.50,400.93 L390.10,401.03 L390.69,401.13 L391.28,401.25 L391.87,401.36 L392.45,401.49 L393.04,401.62 L393.62,401.76 L394.19,401.90 L394.77,402.05 L395.34,402.21 L395.91,402.37 L396.48,402.53 L397.05,402.71 L397.61,402.88 L398.18,403.07 L398.74,403.26 L399.30,403.45 L399.85,403.65 L400.41,403.85 L400.96,404.06 L401.51,404.27 L402.06,404.49 L402.61,404.71 L403.16,404.94 L403.70,405.17 L404.24,405.41 L404.78,405.65 L405.32,405.89 L405.86,406.14 L406.40,406.39 L406.93,406.64 L407.47,406.90 L408.00,407.16 L408.53,407.43 L409.06,407.70 L409.59,407.97 L410.12,408.24 L410.65,408.52 L411.17,408.80 L411.70,409.09 L412.22,409.37 L412.75,409.66 L413.27,409.95 L413.79,410.25 L414.31,410.54 L414.83,410.84 L415.35,411.14 L415.87,411.44 L416.38,411.75 L416.90,412.05 L417.42,412.36 L417.93,412.67 L418.45,412.98 L418.97,413.30 L419.48,413.61 L420.00,413.92 L420.51,414.24 L421.02,414.56 L421.54,414.87 L422.05,415.19 L422.56,415.51 L423.08,415.83 L423.59,416.15 L424.10,416.47 L424.62,416.79 L425.13,417.11 L425.65,417.44 L426.16,417.76 L426.67,418.08 L427.19,418.40 L427.70,418.72 L428.22,419.04 L428.73,419.36 L429.25,419.68 L429.76,419.99 L430.28,420.31 L430.80,420.63 L431.32,420.94 L431.83,421.26 L432.35,421.57 L432.87,421.88 L433.39,422.19 L433.91,422.50 L434.44,422.80 L434.96,423.11 L435.48,423.41 L436.01,423.71 L436.54,424.01 L437.06,424.31 L437.59,424.60 L438.12,424.89 L438.65,425.18 L439.18,425.47 L439.71,425.76 L440.25,426.04 L440.78,426.32 L441.32,426.59 L441.86,426.86 L442.40,427.13 L442.94,427.40 L443.48,427.67 L444.02,427.93 L444.57,428.19 L445.11,428.45 L445.66,428.71 L446.20,428.96 L446.75,429.21 L447.30,429.47 L447.85,429.72 L448.40,429.97 L448.95,430.21 L449.50,430.46 L450.05,430.71 L450.60,430.95 L451.15,431.19 L451.70,431.44 L452.25,431.68 L452.80,431.92 L453.35,432.16 L453.90,432.41 L454.45,432.65 L455.00,432.89 L455.55,433.13 L456.10,433.37 L456.65,433.62 L457.20,433.86 L457.75,434.10 L458.30,434.35 L458.85,434.59 L459.40,434.84 L459.94,435.09 L460.49,435.34 L461.03,435.59 L461.58,435.84 L462.12,436.09 L462.66,436.35 L463.20,436.60 L463.74,436.86 L464.28,437.12 L464.82,437.39 L465.35,437.65 L465.89,437.92 L466.42,438.19 L466.95,438.47 L467.48,438.74 L468.01,439.02 L468.54,439.30 L469.06,439.59 L469.59,439.88 L470.11,440.17 L470.63,440.46 L471.14,440.76 L471.66,441.07 L472.17,441.37 L472.68,441.68 L473.19,442.00 L473.70,442.32 L474.20,442.64 L474.70,442.97 L475.20,443.30 L475.70,443.64 L476.19,443.98 L476.68,444.32 L477.17,444.68 L477.66,445.03 L478.14,445.40 L478.62,445.76 L479.09,446.14 L479.57,446.52 L480.04,446.90 L480.51,447.29" fill="none" stroke="#33bde6" stroke-width="1.6" stroke-linejoin="round" stroke-linecap="butt" clip-path="url(#clipd)"/>
<rect x="54.70" y="73.60" width="190.30" height="200.70" fill="none" stroke="#262626" stroke-width="0.8"/>
<rect x="298.50" y="73.60" width="191.00" height="200.70" fill="none" stroke="#262626" stroke-width="0.8"/>
<rect x="54.70" y="311.90" width="190.30" height="200.50" fill="none" stroke="#262626" stroke-width="0.8"/>
<rect x="298.50" y="311.90" width="191.00" height="200.50" fill="none" stroke="#262626" stroke-width="0.8"/>
<line x1="47.1" y1="15.1" x2="71.6" y2="15.1" stroke="#2b4fa0" stroke-width="1.6"/>
<line x1="47.1" y1="33.0" x2="71.6" y2="33.0" stroke="#5ab946" stroke-width="1.6"/>
<line x1="47.1" y1="51.2" x2="71.6" y2="51.2" stroke="#e8000f" stroke-width="1.6"/>
<line x1="270.4" y1="15.1" x2="295.2" y2="15.1" stroke="#6f4097" stroke-width="1.6"/>
<line x1="270.4" y1="33.0" x2="295.2" y2="33.0" stroke="#fdc40b" stroke-width="1.6"/>
<line x1="270.4" y1="51.2" x2="295.2" y2="51.2" stroke="#33bde6" stroke-width="1.6"/>
<g fill="#1a1a1a" stroke="#1a1a1a" stroke-width="0.06" text-rendering="geometricPrecision">
<text transform="translate(77.29,286.50) scale(0.948,1)" font-size="9.77">10</text>
<text transform="translate(86.97,284.00) scale(1.302,1)" font-size="6.60" stroke="#1a1a1a" stroke-width="0.2">−</text>
<text transform="translate(91.87,283.90) scale(1.023,1)" font-size="7.10" stroke="#1a1a1a" stroke-width="0.2">9</text>
<text transform="translate(124.93,286.50) scale(0.948,1)" font-size="9.77">10</text>
<text transform="translate(134.61,284.00) scale(1.302,1)" font-size="6.60" stroke="#1a1a1a" stroke-width="0.2">−</text>
<text transform="translate(139.24,283.90) scale(1.066,1)" font-size="7.18" stroke="#1a1a1a" stroke-width="0.2">7</text>
<text transform="translate(172.57,286.50) scale(0.948,1)" font-size="9.77">10</text>
<text transform="translate(182.25,284.00) scale(1.302,1)" font-size="6.60" stroke="#1a1a1a" stroke-width="0.2">−</text>
<text transform="translate(186.93,283.90) scale(1.072,1)" font-size="7.18" stroke="#1a1a1a" stroke-width="0.2">5</text>
<text transform="translate(220.21,286.50) scale(0.948,1)" font-size="9.77">10</text>
<text transform="translate(229.89,284.00) scale(1.302,1)" font-size="6.60" stroke="#1a1a1a" stroke-width="0.2">−</text>
<text transform="translate(234.66,283.90) scale(1.057,1)" font-size="7.10" stroke="#1a1a1a" stroke-width="0.2">3</text>
<text transform="translate(321.19,286.50) scale(0.948,1)" font-size="9.77">10</text>
<text transform="translate(330.87,284.00) scale(1.302,1)" font-size="6.60" stroke="#1a1a1a" stroke-width="0.2">−</text>
<text transform="translate(335.77,283.90) scale(1.023,1)" font-size="7.10" stroke="#1a1a1a" stroke-width="0.2">9</text>
<text transform="translate(368.83,286.50) scale(0.948,1)" font-size="9.77">10</text>
<text transform="translate(378.51,284.00) scale(1.302,1)" font-size="6.60" stroke="#1a1a1a" stroke-width="0.2">−</text>
<text transform="translate(383.14,283.90) scale(1.066,1)" font-size="7.18" stroke="#1a1a1a" stroke-width="0.2">7</text>
<text transform="translate(416.47,286.50) scale(0.948,1)" font-size="9.77">10</text>
<text transform="translate(426.15,284.00) scale(1.302,1)" font-size="6.60" stroke="#1a1a1a" stroke-width="0.2">−</text>
<text transform="translate(430.83,283.90) scale(1.072,1)" font-size="7.18" stroke="#1a1a1a" stroke-width="0.2">5</text>
<text transform="translate(464.11,286.50) scale(0.948,1)" font-size="9.77">10</text>
<text transform="translate(473.79,284.00) scale(1.302,1)" font-size="6.60" stroke="#1a1a1a" stroke-width="0.2">−</text>
<text transform="translate(478.56,283.90) scale(1.057,1)" font-size="7.10" stroke="#1a1a1a" stroke-width="0.2">3</text>
<text transform="translate(77.29,524.60) scale(0.948,1)" font-size="9.77">10</text>
<text transform="translate(86.97,522.10) scale(1.302,1)" font-size="6.60" stroke="#1a1a1a" stroke-width="0.2">−</text>
<text transform="translate(91.87,522.00) scale(1.023,1)" font-size="7.10" stroke="#1a1a1a" stroke-width="0.2">9</text>
<text transform="translate(124.93,524.60) scale(0.948,1)" font-size="9.77">10</text>
<text transform="translate(134.61,522.10) scale(1.302,1)" font-size="6.60" stroke="#1a1a1a" stroke-width="0.2">−</text>
<text transform="translate(139.24,522.00) scale(1.066,1)" font-size="7.18" stroke="#1a1a1a" stroke-width="0.2">7</text>
<text transform="translate(172.57,524.60) scale(0.948,1)" font-size="9.77">10</text>
<text transform="translate(182.25,522.10) scale(1.302,1)" font-size="6.60" stroke="#1a1a1a" stroke-width="0.2">−</text>
<text transform="translate(186.93,522.00) scale(1.072,1)" font-size="7.18" stroke="#1a1a1a" stroke-width="0.2">5</text>
<text transform="translate(220.21,524.60) scale(0.948,1)" font-size="9.77">10</text>
<text transform="translate(229.89,522.10) scale(1.302,1)" font-size="6.60" stroke="#1a1a1a" stroke-width="0.2">−</text>
<text transform="translate(234.66,522.00) scale(1.057,1)" font-size="7.10" stroke="#1a1a1a" stroke-width="0.2">3</text>
<text transform="translate(321.19,524.60) scale(0.948,1)" font-size="9.77">10</text>
<text transform="translate(330.87,522.10) scale(1.302,1)" font-size="6.60" stroke="#1a1a1a" stroke-width="0.2">−</text>
<text transform="translate(335.77,522.00) scale(1.023,1)" font-size="7.10" stroke="#1a1a1a" stroke-width="0.2">9</text>
<text transform="translate(368.83,524.60) scale(0.948,1)" font-size="9.77">10</text>
<text transform="translate(378.51,522.10) scale(1.302,1)" font-size="6.60" stroke="#1a1a1a" stroke-width="0.2">−</text>
<text transform="translate(383.14,522.00) scale(1.066,1)" font-size="7.18" stroke="#1a1a1a" stroke-width="0.2">7</text>
<text transform="translate(416.47,524.60) scale(0.948,1)" font-size="9.77">10</text>
<text transform="translate(426.15,522.10) scale(1.302,1)" font-size="6.60" stroke="#1a1a1a" stroke-width="0.2">−</text>
<text transform="translate(430.83,522.00) scale(1.072,1)" font-size="7.18" stroke="#1a1a1a" stroke-width="0.2">5</text>
<text transform="translate(464.11,524.60) scale(0.948,1)" font-size="9.77">10</text>
<text transform="translate(473.79,522.10) scale(1.302,1)" font-size="6.60" stroke="#1a1a1a" stroke-width="0.2">−</text>
<text transform="translate(478.56,522.00) scale(1.057,1)" font-size="7.10" stroke="#1a1a1a" stroke-width="0.2">3</text>
<text transform="translate(21.78,85.30) scale(0.974,1)" font-size="9.62">1.0000</text>
<text transform="translate(21.34,110.40) scale(0.991,1)" font-size="9.62">0.9975</text>
<text transform="translate(21.34,135.50) scale(0.991,1)" font-size="9.62">0.9950</text>
<text transform="translate(21.34,160.60) scale(0.991,1)" font-size="9.62">0.9925</text>
<text transform="translate(21.34,185.70) scale(0.991,1)" font-size="9.62">0.9900</text>
<text transform="translate(21.34,210.80) scale(0.991,1)" font-size="9.62">0.9875</text>
<text transform="translate(21.34,235.90) scale(0.991,1)" font-size="9.62">0.9850</text>
<text transform="translate(21.34,261.00) scale(0.991,1)" font-size="9.62">0.9825</text>
<text transform="translate(277.85,268.90) scale(0.977,1)" font-size="9.62">300</text>
<text transform="translate(277.85,230.40) scale(0.978,1)" font-size="9.62">305</text>
<text transform="translate(277.85,191.90) scale(0.977,1)" font-size="9.62">310</text>
<text transform="translate(277.85,153.40) scale(0.974,1)" font-size="9.67">315</text>
<text transform="translate(277.85,114.90) scale(0.977,1)" font-size="9.62">320</text>
<text transform="translate(277.85,76.40) scale(0.974,1)" font-size="9.67">325</text>
<text transform="translate(44.54,344.20) scale(1.167,1)" font-size="5.86" stroke="#1a1a1a" stroke-width="0.2">0</text>
<text transform="translate(35.25,347.70) scale(0.920,1)" font-size="9.32">10</text>
<text transform="translate(44.63,385.60) scale(0.721,1)" font-size="5.91" stroke="#1a1a1a" stroke-width="0.2">1</text>
<text transform="translate(39.39,386.80) scale(1.237,1)" font-size="6.60" stroke="#1a1a1a" stroke-width="0.2">−</text>
<text transform="translate(30.03,389.10) scale(0.945,1)" font-size="9.32">10</text>
<text transform="translate(43.73,427.00) scale(1.059,1)" font-size="5.89" stroke="#1a1a1a" stroke-width="0.2">2</text>
<text transform="translate(39.39,428.20) scale(1.237,1)" font-size="6.60" stroke="#1a1a1a" stroke-width="0.2">−</text>
<text transform="translate(30.03,430.50) scale(0.945,1)" font-size="9.32">10</text>
<text transform="translate(43.71,468.40) scale(1.027,1)" font-size="5.89" stroke="#1a1a1a" stroke-width="0.2">3</text>
<text transform="translate(39.39,469.60) scale(1.237,1)" font-size="6.60" stroke="#1a1a1a" stroke-width="0.2">−</text>
<text transform="translate(30.03,471.90) scale(0.945,1)" font-size="9.32">10</text>
<text transform="translate(43.89,509.80) scale(0.908,1)" font-size="5.93" stroke="#1a1a1a" stroke-width="0.2">4</text>
<text transform="translate(39.39,511.00) scale(1.237,1)" font-size="6.60" stroke="#1a1a1a" stroke-width="0.2">−</text>
<text transform="translate(30.03,513.30) scale(0.945,1)" font-size="9.32">10</text>
<text transform="translate(288.95,347.77) scale(0.673,1)" font-size="5.91" stroke="#1a1a1a" stroke-width="0.2">1</text>
<text transform="translate(279.12,351.27) scale(0.957,1)" font-size="9.32">10</text>
<text transform="translate(288.94,392.10) scale(1.167,1)" font-size="5.86" stroke="#1a1a1a" stroke-width="0.2">0</text>
<text transform="translate(279.65,395.60) scale(0.920,1)" font-size="9.32">10</text>
<text transform="translate(289.03,436.43) scale(0.721,1)" font-size="5.91" stroke="#1a1a1a" stroke-width="0.2">1</text>
<text transform="translate(283.79,437.63) scale(1.237,1)" font-size="6.60" stroke="#1a1a1a" stroke-width="0.2">−</text>
<text transform="translate(274.43,439.93) scale(0.945,1)" font-size="9.32">10</text>
<text transform="translate(288.13,480.76) scale(1.059,1)" font-size="5.89" stroke="#1a1a1a" stroke-width="0.2">2</text>
<text transform="translate(283.79,481.96) scale(1.237,1)" font-size="6.60" stroke="#1a1a1a" stroke-width="0.2">−</text>
<text transform="translate(274.43,484.26) scale(0.945,1)" font-size="9.32">10</text>
<text transform="translate(54.27,67.50) scale(1.111,1)" font-size="9.99" font-style="italic">a</text>
<text transform="translate(60.57,67.71) scale(0.888,1.025)" font-size="11.40">)</text>
<text transform="translate(298.67,67.50) scale(0.771,1)" font-size="11.39" font-style="italic">b</text>
<text transform="translate(303.57,67.71) scale(0.888,1.025)" font-size="11.40">)</text>
<text transform="translate(54.48,305.80) scale(1.047,1)" font-size="9.97" font-style="italic">c</text>
<text transform="translate(59.57,306.01) scale(0.888,1.025)" font-size="11.40">)</text>
<text transform="translate(298.69,305.80) scale(0.893,1)" font-size="11.39" font-style="italic">d</text>
<text transform="translate(304.67,306.01) scale(0.888,1.025)" font-size="11.40">)</text>
<text transform="translate(128.28,301.50) scale(1.059,1)" font-size="11.48">Time</text>
<text transform="translate(157.89,302.19) scale(0.615,1.074)" font-size="11.40">(</text>
<text transform="translate(160.51,301.50) scale(1.189,1)" font-size="9.97">s</text>
<text transform="translate(165.95,302.19) scale(0.683,1.074)" font-size="11.40">)</text>
<text transform="translate(372.28,301.50) scale(1.059,1)" font-size="11.48">Time</text>
<text transform="translate(401.89,302.19) scale(0.615,1.074)" font-size="11.40">(</text>
<text transform="translate(404.51,301.50) scale(1.189,1)" font-size="9.97">s</text>
<text transform="translate(409.95,302.19) scale(0.683,1.074)" font-size="11.40">)</text>
<text transform="translate(128.28,539.60) scale(1.059,1)" font-size="11.48">Time</text>
<text transform="translate(157.89,540.29) scale(0.615,1.074)" font-size="11.40">(</text>
<text transform="translate(160.51,539.60) scale(1.189,1)" font-size="9.97">s</text>
<text transform="translate(165.95,540.29) scale(0.683,1.074)" font-size="11.40">)</text>
<text transform="translate(372.28,539.60) scale(1.059,1)" font-size="11.48">Time</text>
<text transform="translate(401.89,540.29) scale(0.615,1.074)" font-size="11.40">(</text>
<text transform="translate(404.51,539.60) scale(1.189,1)" font-size="9.97">s</text>
<text transform="translate(409.95,540.29) scale(0.683,1.074)" font-size="11.40">)</text>
<g transform="rotate(-90)"><text transform="translate(-185.93,13.60) scale(1.064,1)" font-size="11.91" font-style="italic">R</text><text transform="translate(-177.80,16.53) scale(1.294,1.508)" font-size="11.40">/</text><text transform="translate(-171.94,13.60) scale(1.008,1)" font-size="11.91" font-style="italic">R</text><text transform="translate(-164.24,15.40) scale(0.883,1)" font-size="7.22">0</text></g>
<g transform="rotate(-90)"><text transform="translate(-188.37,269.70) scale(1.046,1)" font-size="11.30" font-style="italic">T</text><text transform="translate(-181.07,271.30) scale(0.778,1)" font-size="7.35" font-style="italic">d</text><text transform="translate(-176.04,270.27) scale(0.683,1.084)" font-size="11.40">(</text><text transform="translate(-171.96,269.70) scale(1.042,1)" font-size="11.30" font-style="italic">K</text><text transform="translate(-161.45,270.27) scale(0.683,1.084)" font-size="11.40">)</text></g>
<g transform="rotate(-90)"><text transform="translate(-450.26,21.40) scale(1.333,1)" font-size="9.55" font-style="italic">m</text><text transform="translate(-439.91,23.20) scale(1.211,1)" font-size="8.00" font-style="italic">f</text><text transform="translate(-431.38,21.99) scale(1.161,1.035)" font-size="11.40">(</text><text transform="translate(-426.96,21.40) scale(0.782,1)" font-size="11.40" font-style="italic">kg</text><text transform="translate(-415.40,24.73) scale(1.389,1.521)" font-size="11.40">/</text><text transform="translate(-409.18,21.99) scale(0.751,1.035)" font-size="11.40">(</text><text transform="translate(-405.24,21.40) scale(1.427,1)" font-size="8.49" font-style="italic">m</text><text transform="translate(-396.09,17.70) scale(1.213,1)" font-size="7.40">2</text><text transform="translate(-388.29,22.70) scale(0.891,1)" font-size="11.40">·</text><text transform="translate(-381.81,21.40) scale(1.102,1)" font-size="7.85" font-style="italic">s</text><text transform="translate(-377.04,21.99) scale(0.922,1.035)" font-size="11.40">)</text></g>
<g transform="rotate(-90)"><text transform="translate(-457.33,265.75) scale(1.328,1)" font-size="11.00">−</text><text transform="translate(-448.06,264.60) scale(1.067,1)" font-size="10.02" font-style="italic">w</text><text transform="translate(-439.91,266.40) scale(1.211,1)" font-size="8.00" font-style="italic">f</text><text transform="translate(-435.40,267.04) scale(1.515,1.429)" font-size="11.40">/</text><text transform="translate(-428.87,264.60) scale(0.648,1)" font-size="11.91" font-style="italic">I</text><text transform="translate(-424.34,266.40) scale(0.672,1)" font-size="8.00" font-style="italic">L</text><text transform="translate(-417.74,264.60) scale(1.076,1)" font-size="10.69" font-style="italic">R</text><text transform="translate(-409.68,266.40) scale(1.013,1)" font-size="7.22">0</text><text transform="translate(-409.98,260.90) scale(1.180,1)" font-size="7.40">2</text><text transform="translate(-401.12,265.22) scale(1.230,1.064)" font-size="11.40">(</text><text transform="translate(-395.95,264.60) scale(0.565,1)" font-size="11.06">1</text><text transform="translate(-391.80,267.04) scale(1.610,1.429)" font-size="11.40">/</text><text transform="translate(-385.15,264.60) scale(1.288,1)" font-size="9.76" font-style="italic">m</text><text transform="translate(-376.33,260.90) scale(1.011,1)" font-size="7.40">2</text><text transform="translate(-371.38,265.22) scale(1.025,1.064)" font-size="11.40">)</text></g>
<text transform="translate(80.97,16.90) scale(1.049,1)" font-size="11.76" font-style="italic">R</text>
<text transform="translate(87.93,18.40) scale(1.187,1)" font-size="7.49" font-style="italic">d</text>
<text transform="translate(95.71,17.50) scale(1.395,1)" font-size="11.40">=</text>
<text transform="translate(109.43,16.90) scale(0.871,1)" font-size="11.43">10</text>
<text transform="translate(119.81,16.90) scale(1.149,1)" font-size="11.40" font-style="italic">μm</text>
<text transform="translate(140.34,16.90) scale(1.060,1)" font-size="11.40">,</text>
<text transform="translate(147.74,16.90) scale(0.973,1)" font-size="11.76" font-style="italic">I</text>
<text transform="translate(152.60,18.40) scale(1.082,1)" font-size="7.64" font-style="italic">L</text>
<text transform="translate(161.40,17.50) scale(1.414,1)" font-size="11.40">=</text>
<text transform="translate(173.15,16.90) scale(1.030,1)" font-size="11.43">0.5</text>
<text transform="translate(190.73,17.70) scale(1.039,1)" font-size="11.40">·</text>
<text transform="translate(197.57,16.90) scale(0.921,1)" font-size="11.43">10</text>
<text transform="translate(208.15,12.60) scale(1.105,1)" font-size="6.67">14</text>
<text transform="translate(216.56,16.90) scale(1.080,1)" font-size="11.76" font-style="italic">W</text>
<text transform="translate(228.30,19.14) scale(1.263,1.442)" font-size="11.40">/</text>
<text transform="translate(233.55,16.90) scale(1.090,1)" font-size="11.40" font-style="italic">m</text>
<text transform="translate(242.84,13.40) scale(1.542,1)" font-size="6.80">2</text>
<text transform="translate(80.97,34.85) scale(1.049,1)" font-size="11.76" font-style="italic">R</text>
<text transform="translate(87.93,36.35) scale(1.187,1)" font-size="7.49" font-style="italic">d</text>
<text transform="translate(95.71,35.45) scale(1.395,1)" font-size="11.40">=</text>
<text transform="translate(109.15,34.85) scale(0.893,1)" font-size="11.48">25</text>
<text transform="translate(119.81,34.85) scale(1.149,1)" font-size="11.40" font-style="italic">μm</text>
<text transform="translate(140.34,34.85) scale(1.060,1)" font-size="11.40">,</text>
<text transform="translate(147.74,34.85) scale(0.973,1)" font-size="11.76" font-style="italic">I</text>
<text transform="translate(152.60,36.35) scale(1.082,1)" font-size="7.64" font-style="italic">L</text>
<text transform="translate(161.40,35.45) scale(1.414,1)" font-size="11.40">=</text>
<text transform="translate(173.15,34.85) scale(1.030,1)" font-size="11.43">0.5</text>
<text transform="translate(190.73,35.65) scale(1.039,1)" font-size="11.40">·</text>
<text transform="translate(197.57,34.85) scale(0.921,1)" font-size="11.43">10</text>
<text transform="translate(208.15,30.55) scale(1.105,1)" font-size="6.67">14</text>
<text transform="translate(216.56,34.85) scale(1.080,1)" font-size="11.76" font-style="italic">W</text>
<text transform="translate(228.30,37.09) scale(1.263,1.442)" font-size="11.40">/</text>
<text transform="translate(233.55,34.85) scale(1.090,1)" font-size="11.40" font-style="italic">m</text>
<text transform="translate(242.84,31.35) scale(1.542,1)" font-size="6.80">2</text>
<text transform="translate(80.97,52.70) scale(1.049,1)" font-size="11.76" font-style="italic">R</text>
<text transform="translate(87.93,54.20) scale(1.187,1)" font-size="7.49" font-style="italic">d</text>
<text transform="translate(95.71,53.30) scale(1.395,1)" font-size="11.40">=</text>
<text transform="translate(109.41,52.70) scale(0.873,1)" font-size="11.43">40</text>
<text transform="translate(119.81,52.70) scale(1.149,1)" font-size="11.40" font-style="italic">μm</text>
<text transform="translate(140.34,52.70) scale(1.060,1)" font-size="11.40">,</text>
<text transform="translate(147.74,52.70) scale(0.973,1)" font-size="11.76" font-style="italic">I</text>
<text transform="translate(152.60,54.20) scale(1.082,1)" font-size="7.64" font-style="italic">L</text>
<text transform="translate(161.40,53.30) scale(1.414,1)" font-size="11.40">=</text>
<text transform="translate(173.15,52.70) scale(1.030,1)" font-size="11.43">0.5</text>
<text transform="translate(190.73,53.50) scale(1.039,1)" font-size="11.40">·</text>
<text transform="translate(197.57,52.70) scale(0.921,1)" font-size="11.43">10</text>
<text transform="translate(208.15,48.40) scale(1.105,1)" font-size="6.67">14</text>
<text transform="translate(216.56,52.70) scale(1.080,1)" font-size="11.76" font-style="italic">W</text>
<text transform="translate(228.30,54.94) scale(1.263,1.442)" font-size="11.40">/</text>
<text transform="translate(233.55,52.70) scale(1.090,1)" font-size="11.40" font-style="italic">m</text>
<text transform="translate(242.84,49.20) scale(1.542,1)" font-size="6.80">2</text>
<text transform="translate(304.37,16.90) scale(1.049,1)" font-size="11.76" font-style="italic">R</text>
<text transform="translate(311.33,18.40) scale(1.187,1)" font-size="7.49" font-style="italic">d</text>
<text transform="translate(319.11,17.50) scale(1.395,1)" font-size="11.40">=</text>
<text transform="translate(332.83,16.90) scale(0.871,1)" font-size="11.43">10</text>
<text transform="translate(343.21,16.90) scale(1.149,1)" font-size="11.40" font-style="italic">μm</text>
<text transform="translate(363.74,16.90) scale(1.060,1)" font-size="11.40">,</text>
<text transform="translate(371.14,16.90) scale(0.973,1)" font-size="11.76" font-style="italic">I</text>
<text transform="translate(376.00,18.40) scale(1.082,1)" font-size="7.64" font-style="italic">L</text>
<text transform="translate(384.80,17.50) scale(1.414,1)" font-size="11.40">=</text>
<text transform="translate(397.77,16.90) scale(0.921,1)" font-size="11.43">10</text>
<text transform="translate(408.35,12.60) scale(1.105,1)" font-size="6.67">14</text>
<text transform="translate(416.76,16.90) scale(1.080,1)" font-size="11.76" font-style="italic">W</text>
<text transform="translate(428.50,19.14) scale(1.263,1.442)" font-size="11.40">/</text>
<text transform="translate(433.75,16.90) scale(1.090,1)" font-size="11.40" font-style="italic">m</text>
<text transform="translate(443.04,13.40) scale(1.542,1)" font-size="6.80">2</text>
<text transform="translate(304.37,34.85) scale(1.049,1)" font-size="11.76" font-style="italic">R</text>
<text transform="translate(311.33,36.35) scale(1.187,1)" font-size="7.49" font-style="italic">d</text>
<text transform="translate(319.11,35.45) scale(1.395,1)" font-size="11.40">=</text>
<text transform="translate(332.55,34.85) scale(0.893,1)" font-size="11.48">25</text>
<text transform="translate(343.21,34.85) scale(1.149,1)" font-size="11.40" font-style="italic">μm</text>
<text transform="translate(363.74,34.85) scale(1.060,1)" font-size="11.40">,</text>
<text transform="translate(371.14,34.85) scale(0.973,1)" font-size="11.76" font-style="italic">I</text>
<text transform="translate(376.00,36.35) scale(1.082,1)" font-size="7.64" font-style="italic">L</text>
<text transform="translate(384.80,35.45) scale(1.414,1)" font-size="11.40">=</text>
<text transform="translate(397.77,34.85) scale(0.921,1)" font-size="11.43">10</text>
<text transform="translate(408.35,30.55) scale(1.105,1)" font-size="6.67">14</text>
<text transform="translate(416.76,34.85) scale(1.080,1)" font-size="11.76" font-style="italic">W</text>
<text transform="translate(428.50,37.09) scale(1.263,1.442)" font-size="11.40">/</text>
<text transform="translate(433.75,34.85) scale(1.090,1)" font-size="11.40" font-style="italic">m</text>
<text transform="translate(443.04,31.35) scale(1.542,1)" font-size="6.80">2</text>
<text transform="translate(304.37,52.70) scale(1.049,1)" font-size="11.76" font-style="italic">R</text>
<text transform="translate(311.33,54.20) scale(1.187,1)" font-size="7.49" font-style="italic">d</text>
<text transform="translate(319.11,53.30) scale(1.395,1)" font-size="11.40">=</text>
<text transform="translate(332.81,52.70) scale(0.873,1)" font-size="11.43">40</text>
<text transform="translate(343.21,52.70) scale(1.149,1)" font-size="11.40" font-style="italic">μm</text>
<text transform="translate(363.74,52.70) scale(1.060,1)" font-size="11.40">,</text>
<text transform="translate(371.14,52.70) scale(0.973,1)" font-size="11.76" font-style="italic">I</text>
<text transform="translate(376.00,54.20) scale(1.082,1)" font-size="7.64" font-style="italic">L</text>
<text transform="translate(384.80,53.30) scale(1.414,1)" font-size="11.40">=</text>
<text transform="translate(397.77,52.70) scale(0.921,1)" font-size="11.43">10</text>
<text transform="translate(408.35,48.40) scale(1.105,1)" font-size="6.67">14</text>
<text transform="translate(416.76,52.70) scale(1.080,1)" font-size="11.76" font-style="italic">W</text>
<text transform="translate(428.50,54.94) scale(1.263,1.442)" font-size="11.40">/</text>
<text transform="translate(433.75,52.70) scale(1.090,1)" font-size="11.40" font-style="italic">m</text>
<text transform="translate(443.04,49.20) scale(1.542,1)" font-size="6.80">2</text>
</g>
</svg>
</body></html>
